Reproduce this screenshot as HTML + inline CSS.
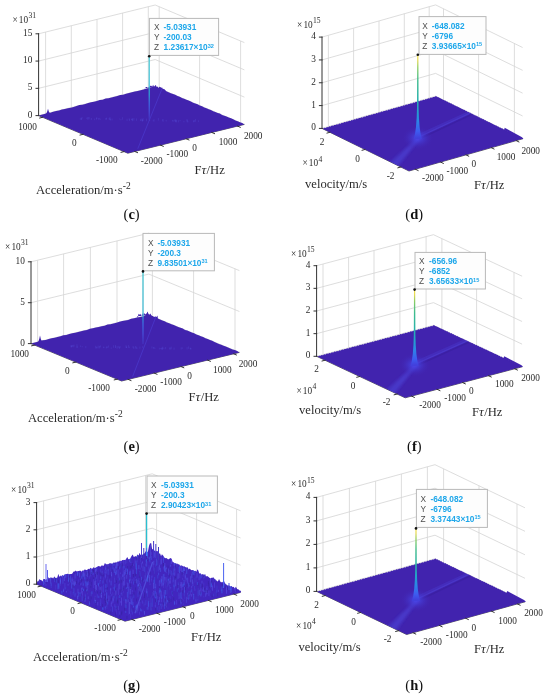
<!DOCTYPE html>
<html lang="en"><head><meta charset="utf-8"><title>Figure panels c-h</title>
<style>html,body{margin:0;padding:0;background:#fff;}svg{display:block;filter:blur(0.35px);}</style></head><body>
<svg width="550" height="697" viewBox="0 0 550 697">
<rect width="550" height="697" fill="#ffffff"/>
<g id="panel-c">
<g stroke="#d4d4d4" stroke-width="0.8" fill="none">
<polyline points="38.6,115.6 155.2,86.8 244.4,124.4"/>
<polyline points="38.6,88.33 155.2,59.53 244.4,97.13"/>
<polyline points="38.6,61.07 155.2,32.27 244.4,69.87"/>
<polyline points="38.6,33.8 155.2,5 244.4,42.6"/>
<line x1="45.6" y1="113.87" x2="45.6" y2="32.07"/>
<line x1="45.6" y1="113.87" x2="134.8" y2="151.47"/>
<line x1="71.3" y1="107.52" x2="71.3" y2="25.72"/>
<line x1="71.3" y1="107.52" x2="160.5" y2="145.12"/>
<line x1="97" y1="101.18" x2="97" y2="19.38"/>
<line x1="97" y1="101.18" x2="186.2" y2="138.78"/>
<line x1="122.6" y1="94.85" x2="122.6" y2="13.05"/>
<line x1="122.6" y1="94.85" x2="211.8" y2="132.45"/>
<line x1="148.3" y1="88.5" x2="148.3" y2="6.7"/>
<line x1="148.3" y1="88.5" x2="237.5" y2="126.1"/>
<line x1="159.2" y1="88.49" x2="159.2" y2="6.69"/>
<line x1="159.2" y1="88.49" x2="42.6" y2="117.29"/>
<line x1="199.6" y1="105.52" x2="199.6" y2="23.72"/>
<line x1="199.6" y1="105.52" x2="83" y2="134.32"/>
<line x1="240.6" y1="122.8" x2="240.6" y2="41"/>
<line x1="240.6" y1="122.8" x2="124" y2="151.6"/>
</g>
<polyline points="38.6,115.6 127.8,153.2 244.4,124.4" stroke="#3a3a3a" stroke-width="0.8" fill="none"/>
<polygon points="38.6,115.6 41.52,114.72 44.43,114.08 47.34,113.11 50.26,112.68 53.17,111.73 56.09,111.1 59,110.53 61.92,109.59 64.84,109.1 67.75,108.18 70.66,107.65 73.58,106.91 76.5,106.03 79.41,105.11 82.32,104.74 85.24,103.97 88.16,103.05 91.07,102.17 93.98,101.63 96.9,101 99.81,99.99 102.73,99.74 105.64,98.61 108.56,98.18 111.47,97.53 114.39,96.82 117.31,96.01 120.22,95.03 123.13,94.63 126.05,93.71 128.97,92.96 131.88,92.37 134.79,91.57 137.71,91.09 140.62,90.37 143.54,89.58 146.46,88.62 149.37,88.03 152.28,87.36 143.2,88.24 144.1,88.36 145,88.54 145.9,87.03 146.8,87.06 147.7,88.02 148.6,86.94 149.5,86.84 150.4,85.71 151.3,85.87 152.2,86.79 153.1,84.77 154,86.79 154.9,85.79 155.8,85.08 156.7,87.04 157.6,86.54 158.5,88.09 159.4,86.83 160.3,86.96 161.2,87.84 162.1,87.43 163,89.27 163.9,88.66 166.35,91.2 168.58,92.15 170.81,93.15 173.04,93.9 175.27,94.79 177.5,95.96 179.73,96.81 181.96,98.05 184.19,98.67 186.42,99.64 188.65,100.4 190.88,101.43 193.11,102.64 195.34,103.53 197.57,104.33 199.8,105.59 202.03,106.31 204.26,107.4 206.49,108.36 208.72,109.33 210.95,109.92 213.18,111.18 215.41,112.06 217.64,112.92 219.87,113.62 222.1,114.96 224.33,115.72 226.56,116.61 228.79,117.38 231.02,118.35 233.25,119.27 235.48,120.5 237.71,121.37 239.94,122.34 242.17,123.02 244.4,124.4 127.8,153.2" fill="#4123ae"/>
<polygon points="46,114.28 47.3,111.25 48,108.78 48.8,111.48 50.2,113.78" fill="#4123ae"/>
<line x1="162" y1="88.8" x2="137.8" y2="148.7" stroke="#5148e0" stroke-width="1" opacity="0.45"/>
<line x1="194.29" y1="121.56" x2="194.29" y2="120.24" stroke="#5a56e0" stroke-width="0.8" opacity="0.32"/>
<line x1="106.62" y1="119.47" x2="106.62" y2="117.6" stroke="#5a56e0" stroke-width="0.8" opacity="0.32"/>
<line x1="149.77" y1="120.6" x2="149.77" y2="119.6" stroke="#5a56e0" stroke-width="0.8" opacity="0.32"/>
<line x1="129.21" y1="120.24" x2="129.21" y2="118.22" stroke="#5a56e0" stroke-width="0.8" opacity="0.32"/>
<line x1="193.73" y1="122.36" x2="193.73" y2="120.43" stroke="#5a56e0" stroke-width="0.8" opacity="0.32"/>
<line x1="153.21" y1="121.31" x2="153.21" y2="120.21" stroke="#5a56e0" stroke-width="0.8" opacity="0.32"/>
<line x1="187.26" y1="122.33" x2="187.26" y2="119.75" stroke="#5a56e0" stroke-width="0.8" opacity="0.32"/>
<line x1="174.98" y1="121.43" x2="174.98" y2="119.72" stroke="#5a56e0" stroke-width="0.8" opacity="0.32"/>
<line x1="91.11" y1="119.68" x2="91.11" y2="118.57" stroke="#5a56e0" stroke-width="0.8" opacity="0.32"/>
<line x1="86.74" y1="118.93" x2="86.74" y2="117.64" stroke="#5a56e0" stroke-width="0.8" opacity="0.32"/>
<line x1="119.68" y1="119.53" x2="119.68" y2="118.53" stroke="#5a56e0" stroke-width="0.8" opacity="0.32"/>
<line x1="96.87" y1="119.02" x2="96.87" y2="117.37" stroke="#5a56e0" stroke-width="0.8" opacity="0.32"/>
<line x1="81.68" y1="119.8" x2="81.68" y2="117.69" stroke="#5a56e0" stroke-width="0.8" opacity="0.32"/>
<line x1="96.54" y1="119.24" x2="96.54" y2="117.62" stroke="#5a56e0" stroke-width="0.8" opacity="0.32"/>
<line x1="122.59" y1="119.71" x2="122.59" y2="117.18" stroke="#5a56e0" stroke-width="0.8" opacity="0.32"/>
<line x1="198.57" y1="122.14" x2="198.57" y2="120.27" stroke="#5a56e0" stroke-width="0.8" opacity="0.32"/>
<line x1="88.97" y1="118.83" x2="88.97" y2="117.21" stroke="#5a56e0" stroke-width="0.8" opacity="0.32"/>
<line x1="110.58" y1="120.46" x2="110.58" y2="119.17" stroke="#5a56e0" stroke-width="0.8" opacity="0.32"/>
<line x1="81.39" y1="119.91" x2="81.39" y2="117.96" stroke="#5a56e0" stroke-width="0.8" opacity="0.32"/>
<line x1="96.31" y1="119.67" x2="96.31" y2="118.62" stroke="#5a56e0" stroke-width="0.8" opacity="0.32"/>
<line x1="142.4" y1="121.49" x2="142.4" y2="118.94" stroke="#5a56e0" stroke-width="0.8" opacity="0.32"/>
<line x1="162.7" y1="120.93" x2="162.7" y2="119.27" stroke="#5a56e0" stroke-width="0.8" opacity="0.32"/>
<line x1="98.78" y1="120.08" x2="98.78" y2="118.12" stroke="#5a56e0" stroke-width="0.8" opacity="0.32"/>
<line x1="172.71" y1="121.28" x2="172.71" y2="119.88" stroke="#5a56e0" stroke-width="0.8" opacity="0.32"/>
<line x1="176.63" y1="122.37" x2="176.63" y2="119.83" stroke="#5a56e0" stroke-width="0.8" opacity="0.32"/>
<line x1="175.97" y1="122.1" x2="175.97" y2="119.77" stroke="#5a56e0" stroke-width="0.8" opacity="0.32"/>
<line x1="105.99" y1="119.88" x2="105.99" y2="118.24" stroke="#5a56e0" stroke-width="0.8" opacity="0.32"/>
<line x1="82.1" y1="118.54" x2="82.1" y2="117.04" stroke="#5a56e0" stroke-width="0.8" opacity="0.32"/>
<line x1="109.91" y1="120.24" x2="109.91" y2="117.52" stroke="#5a56e0" stroke-width="0.8" opacity="0.32"/>
<line x1="132.63" y1="121.18" x2="132.63" y2="118.4" stroke="#5a56e0" stroke-width="0.8" opacity="0.32"/>
<line x1="193.96" y1="121.87" x2="193.96" y2="120.48" stroke="#5a56e0" stroke-width="0.8" opacity="0.32"/>
<line x1="106" y1="119.4" x2="106" y2="118.03" stroke="#5a56e0" stroke-width="0.8" opacity="0.32"/>
<line x1="153.99" y1="121.67" x2="153.99" y2="119.15" stroke="#5a56e0" stroke-width="0.8" opacity="0.32"/>
<line x1="136.52" y1="120.85" x2="136.52" y2="118.41" stroke="#5a56e0" stroke-width="0.8" opacity="0.32"/>
<line x1="88.84" y1="119.66" x2="88.84" y2="117.02" stroke="#5a56e0" stroke-width="0.8" opacity="0.32"/>
<line x1="173.1" y1="121.92" x2="173.1" y2="120.06" stroke="#5a56e0" stroke-width="0.8" opacity="0.32"/>
<line x1="100.17" y1="120.14" x2="100.17" y2="118.54" stroke="#5a56e0" stroke-width="0.8" opacity="0.32"/>
<line x1="175.34" y1="122.31" x2="175.34" y2="120.6" stroke="#5a56e0" stroke-width="0.8" opacity="0.32"/>
<line x1="127.09" y1="121.06" x2="127.09" y2="118.75" stroke="#5a56e0" stroke-width="0.8" opacity="0.32"/>
<line x1="99.14" y1="119.12" x2="99.14" y2="117.85" stroke="#5a56e0" stroke-width="0.8" opacity="0.32"/>
<line x1="187.91" y1="122.38" x2="187.91" y2="121.12" stroke="#5a56e0" stroke-width="0.8" opacity="0.32"/>
<line x1="178.44" y1="122.4" x2="178.44" y2="120.22" stroke="#5a56e0" stroke-width="0.8" opacity="0.32"/>
<line x1="120.93" y1="120.3" x2="120.93" y2="119.07" stroke="#5a56e0" stroke-width="0.8" opacity="0.32"/>
<line x1="80.32" y1="119.91" x2="80.32" y2="117.74" stroke="#5a56e0" stroke-width="0.8" opacity="0.32"/>
<line x1="142.21" y1="121.42" x2="142.21" y2="119.64" stroke="#5a56e0" stroke-width="0.8" opacity="0.32"/>
<line x1="183.91" y1="122.31" x2="183.91" y2="120.93" stroke="#5a56e0" stroke-width="0.8" opacity="0.32"/>
<line x1="109.02" y1="119.62" x2="109.02" y2="118.19" stroke="#5a56e0" stroke-width="0.8" opacity="0.32"/>
<line x1="149.44" y1="120.59" x2="149.44" y2="118.84" stroke="#5a56e0" stroke-width="0.8" opacity="0.32"/>
<line x1="94.43" y1="120.18" x2="94.43" y2="118.54" stroke="#5a56e0" stroke-width="0.8" opacity="0.32"/>
<line x1="133.95" y1="120.68" x2="133.95" y2="118.06" stroke="#5a56e0" stroke-width="0.8" opacity="0.32"/>
<line x1="129.41" y1="121.07" x2="129.41" y2="119.17" stroke="#5a56e0" stroke-width="0.8" opacity="0.32"/>
<line x1="142.84" y1="120.82" x2="142.84" y2="119.79" stroke="#5a56e0" stroke-width="0.8" opacity="0.32"/>
<line x1="131.77" y1="120.03" x2="131.77" y2="119.02" stroke="#5a56e0" stroke-width="0.8" opacity="0.32"/>
<line x1="175.14" y1="121.11" x2="175.14" y2="119.26" stroke="#5a56e0" stroke-width="0.8" opacity="0.32"/>
<line x1="166.2" y1="121.46" x2="166.2" y2="119.87" stroke="#5a56e0" stroke-width="0.8" opacity="0.32"/>
<line x1="141.22" y1="120.83" x2="141.22" y2="118.41" stroke="#5a56e0" stroke-width="0.8" opacity="0.32"/>
<line x1="91.42" y1="119.58" x2="91.42" y2="118.13" stroke="#5a56e0" stroke-width="0.8" opacity="0.32"/>
<line x1="112.05" y1="120.41" x2="112.05" y2="118.5" stroke="#5a56e0" stroke-width="0.8" opacity="0.32"/>
<line x1="146.46" y1="121.27" x2="146.46" y2="118.62" stroke="#5a56e0" stroke-width="0.8" opacity="0.32"/>
<line x1="132.14" y1="120.68" x2="132.14" y2="118.77" stroke="#5a56e0" stroke-width="0.8" opacity="0.32"/>
<line x1="140.47" y1="121.01" x2="140.47" y2="119.2" stroke="#5a56e0" stroke-width="0.8" opacity="0.32"/>
<line x1="143.02" y1="120.76" x2="143.02" y2="118.06" stroke="#5a56e0" stroke-width="0.8" opacity="0.32"/>
<line x1="163.07" y1="121.86" x2="163.07" y2="119.16" stroke="#5a56e0" stroke-width="0.8" opacity="0.32"/>
<line x1="109.96" y1="120.04" x2="109.96" y2="117.34" stroke="#5a56e0" stroke-width="0.8" opacity="0.32"/>
<line x1="180.07" y1="121.18" x2="180.07" y2="119.96" stroke="#5a56e0" stroke-width="0.8" opacity="0.32"/>
<line x1="132.01" y1="119.87" x2="132.01" y2="118.44" stroke="#5a56e0" stroke-width="0.8" opacity="0.32"/>
<line x1="87.43" y1="119.64" x2="87.43" y2="117.23" stroke="#5a56e0" stroke-width="0.8" opacity="0.32"/>
<line x1="186.96" y1="121.38" x2="186.96" y2="119.09" stroke="#5a56e0" stroke-width="0.8" opacity="0.32"/>
<line x1="158.36" y1="120.64" x2="158.36" y2="118.05" stroke="#5a56e0" stroke-width="0.8" opacity="0.32"/>
<line x1="195.48" y1="121.69" x2="195.48" y2="118.98" stroke="#5a56e0" stroke-width="0.8" opacity="0.32"/>
<defs><linearGradient id="fl1" x1="0" y1="56.2" x2="0" y2="120" gradientUnits="userSpaceOnUse"><stop offset="0" stop-color="#2fc3cf"/><stop offset="0.6" stop-color="#2bb6d6"/><stop offset="0.72" stop-color="#3a78e8"/><stop offset="0.86" stop-color="#4654de"/><stop offset="1" stop-color="#4432c0"/></linearGradient></defs>
<rect x="148.65" y="56.2" width="1.1" height="63.8" fill="url(#fl1)"/>
<g stroke="#333333" stroke-width="1" fill="none" stroke-linecap="square">
<polyline points="38.6,33.8 38.6,115.6"/>
<line x1="38.6" y1="115.6" x2="36" y2="115.6"/>
<line x1="38.6" y1="88.33" x2="36" y2="88.33"/>
<line x1="38.6" y1="61.07" x2="36" y2="61.07"/>
<line x1="38.6" y1="33.8" x2="36" y2="33.8"/>
<line x1="134.8" y1="151.47" x2="137.56" y2="152.64"/>
<line x1="160.5" y1="145.12" x2="163.26" y2="146.29"/>
<line x1="186.2" y1="138.78" x2="188.96" y2="139.94"/>
<line x1="211.8" y1="132.45" x2="214.56" y2="133.62"/>
<line x1="237.5" y1="126.1" x2="240.26" y2="127.27"/>
<line x1="42.6" y1="117.29" x2="39.69" y2="118.01"/>
<line x1="83" y1="134.32" x2="80.09" y2="135.04"/>
<line x1="124" y1="151.6" x2="121.09" y2="152.32"/>
</g>
<text x="32.4" y="117.6" font-family="'Liberation Serif','DejaVu Serif',serif" font-size="9.3" text-anchor="end" fill="#2b2b2b" font-weight="normal" >0</text>
<text x="32.4" y="90.33" font-family="'Liberation Serif','DejaVu Serif',serif" font-size="9.3" text-anchor="end" fill="#2b2b2b" font-weight="normal" >5</text>
<text x="32.4" y="63.07" font-family="'Liberation Serif','DejaVu Serif',serif" font-size="9.3" text-anchor="end" fill="#2b2b2b" font-weight="normal" >10</text>
<text x="32.4" y="35.8" font-family="'Liberation Serif','DejaVu Serif',serif" font-size="9.3" text-anchor="end" fill="#2b2b2b" font-weight="normal" >15</text>
<text x="12.4" y="22.6" font-family="'Liberation Serif','DejaVu Serif',serif" font-size="9.3" fill="#2b2b2b">×<tspan dx="1.2">10</tspan><tspan dy="-4.6" dx="0.3" font-size="7.6">31</tspan></text>
<text x="151.7" y="164.2" font-family="'Liberation Serif','DejaVu Serif',serif" font-size="9.3" text-anchor="middle" fill="#2b2b2b" font-weight="normal" >-2000</text>
<text x="177.3" y="157" font-family="'Liberation Serif','DejaVu Serif',serif" font-size="9.3" text-anchor="middle" fill="#2b2b2b" font-weight="normal" >-1000</text>
<text x="194.7" y="151" font-family="'Liberation Serif','DejaVu Serif',serif" font-size="9.3" text-anchor="middle" fill="#2b2b2b" font-weight="normal" >0</text>
<text x="228" y="145" font-family="'Liberation Serif','DejaVu Serif',serif" font-size="9.3" text-anchor="middle" fill="#2b2b2b" font-weight="normal" >1000</text>
<text x="253.2" y="138.6" font-family="'Liberation Serif','DejaVu Serif',serif" font-size="9.3" text-anchor="middle" fill="#2b2b2b" font-weight="normal" >2000</text>
<text x="27.5" y="129.6" font-family="'Liberation Serif','DejaVu Serif',serif" font-size="9.3" text-anchor="middle" fill="#2b2b2b" font-weight="normal" >1000</text>
<text x="74.4" y="145.6" font-family="'Liberation Serif','DejaVu Serif',serif" font-size="9.3" text-anchor="middle" fill="#2b2b2b" font-weight="normal" >0</text>
<text x="106.8" y="163" font-family="'Liberation Serif','DejaVu Serif',serif" font-size="9.3" text-anchor="middle" fill="#2b2b2b" font-weight="normal" >-1000</text>
<text x="194.4" y="173.6" font-family="'Liberation Serif','DejaVu Serif',serif" font-size="12.6" fill="#2b2b2b">F<tspan font-style="italic" font-size="13.2">τ</tspan><tspan dx="0.4">/Hz</tspan></text>
<text x="36" y="194" font-family="'Liberation Serif','DejaVu Serif',serif" font-size="12.6" fill="#2b2b2b">Acceleration/m·s<tspan dy="-5" font-size="9.5">-2</tspan></text>
<text x="131.6" y="218.5" font-family="'Liberation Serif','DejaVu Serif',serif" font-size="14.5" text-anchor="middle" fill="#111">(<tspan font-weight="bold">c</tspan>)</text>
<rect x="149.4" y="18.4" width="69.2" height="37" fill="#fdfdfd" stroke="#b9b9b9" stroke-width="1"/>
<text x="154" y="30.4" font-family="'Liberation Sans','DejaVu Sans',sans-serif" font-size="8.3" text-anchor="start" fill="#4d4d4d" font-weight="normal" >X</text>
<text x="163.6" y="30.4" font-family="'Liberation Sans','DejaVu Sans',sans-serif" font-size="8.3" font-weight="bold" fill="#1ea7ea">-5.03931</text>
<text x="154" y="40.4" font-family="'Liberation Sans','DejaVu Sans',sans-serif" font-size="8.3" text-anchor="start" fill="#4d4d4d" font-weight="normal" >Y</text>
<text x="163.6" y="40.4" font-family="'Liberation Sans','DejaVu Sans',sans-serif" font-size="8.3" font-weight="bold" fill="#1ea7ea">-200.03</text>
<text x="154" y="50.4" font-family="'Liberation Sans','DejaVu Sans',sans-serif" font-size="8.3" text-anchor="start" fill="#4d4d4d" font-weight="normal" >Z</text>
<text x="163.6" y="50.4" font-family="'Liberation Sans','DejaVu Sans',sans-serif" font-size="8.3" font-weight="bold" fill="#1ea7ea">1.23617×10<tspan dy="-2.4" font-size="5.6">32</tspan></text>
<circle cx="149.2" cy="56.2" r="1.3" fill="#111"/>
</g>
<g id="panel-d">
<g stroke="#d4d4d4" stroke-width="0.8" fill="none">
<polyline points="322,128.4 435.6,96.2 522.6,138.8"/>
<polyline points="322,105.58 435.6,73.38 522.6,115.98"/>
<polyline points="322,82.75 435.6,50.55 522.6,93.15"/>
<polyline points="322,59.93 435.6,27.73 522.6,70.33"/>
<polyline points="322,37.1 435.6,4.9 522.6,47.5"/>
<line x1="328.4" y1="126.59" x2="328.4" y2="35.29"/>
<line x1="328.4" y1="126.59" x2="415.4" y2="169.19"/>
<line x1="353.6" y1="119.44" x2="353.6" y2="28.14"/>
<line x1="353.6" y1="119.44" x2="440.6" y2="162.04"/>
<line x1="379" y1="112.24" x2="379" y2="20.94"/>
<line x1="379" y1="112.24" x2="466" y2="154.84"/>
<line x1="404.3" y1="105.07" x2="404.3" y2="13.77"/>
<line x1="404.3" y1="105.07" x2="491.3" y2="147.67"/>
<line x1="429.2" y1="98.01" x2="429.2" y2="6.71"/>
<line x1="429.2" y1="98.01" x2="516.2" y2="140.61"/>
<line x1="443.5" y1="100.07" x2="443.5" y2="8.77"/>
<line x1="443.5" y1="100.07" x2="329.9" y2="132.27"/>
<line x1="478.6" y1="117.26" x2="478.6" y2="25.96"/>
<line x1="478.6" y1="117.26" x2="365" y2="149.46"/>
<line x1="514.4" y1="134.78" x2="514.4" y2="43.48"/>
<line x1="514.4" y1="134.78" x2="400.8" y2="166.98"/>
</g>
<polyline points="322,128.4 409,171 522.6,138.8" stroke="#3a3a3a" stroke-width="0.8" fill="none"/>
<defs><linearGradient id="pk2" x1="0" y1="54.8" x2="0" y2="138" gradientUnits="userSpaceOnUse"><stop offset="0" stop-color="#f5e34a"/><stop offset="0.07" stop-color="#e4d855"/><stop offset="0.15" stop-color="#8fce62"/><stop offset="0.3" stop-color="#40bc8c"/><stop offset="0.5" stop-color="#2cb4a6"/><stop offset="0.66" stop-color="#22a4c8"/><stop offset="0.8" stop-color="#2b86e6"/><stop offset="0.92" stop-color="#3d5cf0"/><stop offset="1" stop-color="#4240dc"/></linearGradient><radialGradient id="rg2" cx="417.8" cy="138" r="16" gradientUnits="userSpaceOnUse" gradientTransform="translate(417.8,138) scale(1,0.75) translate(-417.8,-138)"><stop offset="0" stop-color="#4a4af0" stop-opacity="0.95"/><stop offset="0.35" stop-color="#4640dc" stop-opacity="0.6"/><stop offset="1" stop-color="#4123ae" stop-opacity="0"/></radialGradient><filter id="bl2" x="-20%" y="-20%" width="140%" height="140%"><feGaussianBlur stdDeviation="1.1"/></filter></defs>
<polygon points="322,128.4 323.27,128.6 324.47,127.7 325.74,127.9 326.94,127 328.21,127.2 329.41,126.3 330.68,126.5 331.88,125.6 333.15,125.8 334.35,124.9 335.62,125.1 336.82,124.2 338.09,124.4 339.29,123.5 340.56,123.7 341.76,122.8 343.03,123 344.23,122.1 345.5,122.3 346.7,121.4 347.97,121.6 349.17,120.7 350.43,120.9 351.63,120 352.9,120.2 354.1,119.3 355.37,119.5 356.57,118.6 357.84,118.8 359.04,117.9 360.31,118.1 361.51,117.2 362.78,117.4 363.98,116.5 365.25,116.7 366.45,115.8 367.72,116 368.92,115.1 370.19,115.3 371.39,114.4 372.66,114.6 373.86,113.7 375.13,113.9 376.33,113 377.6,113.2 378.8,112.3 380.07,112.5 381.27,111.6 382.54,111.8 383.74,110.9 385.01,111.1 386.21,110.2 387.48,110.4 388.68,109.5 389.95,109.7 391.15,108.8 392.42,109 393.62,108.1 394.89,108.3 396.09,107.4 397.36,107.6 398.56,106.7 399.83,106.9 401.03,106 402.3,106.2 403.5,105.3 404.77,105.5 405.97,104.6 407.23,104.8 408.43,103.9 409.7,104.1 410.9,103.2 412.17,103.4 413.37,102.5 414.64,102.7 415.84,101.8 417.11,102 418.31,101.1 419.58,101.3 420.78,100.4 422.05,100.6 423.25,99.7 424.52,99.9 425.72,99 426.99,99.2 428.19,98.3 429.46,98.5 430.66,97.6 431.93,97.8 433.13,96.9 434.4,97.1 435.6,96.2 435.99,95.93 437.49,97.13 437.88,96.85 439.38,98.05 439.77,97.78 441.27,98.98 441.67,98.7 443.17,99.9 443.56,99.63 445.06,100.83 445.45,100.56 446.95,101.76 447.34,101.48 448.84,102.68 449.23,102.41 450.73,103.61 451.12,103.33 452.62,104.53 453.01,104.26 454.51,105.46 454.9,105.19 456.4,106.39 456.8,106.11 458.3,107.31 458.69,107.04 460.19,108.24 460.58,107.97 462.08,109.17 462.47,108.89 463.97,110.09 464.36,109.82 465.86,111.02 466.25,110.74 467.75,111.94 468.14,111.67 469.64,112.87 470.03,112.6 471.53,113.8 471.93,113.52 473.43,114.72 473.82,114.45 475.32,115.65 475.71,115.37 477.21,116.57 477.6,116.3 479.1,117.5 479.49,117.23 480.99,118.43 481.38,118.15 482.88,119.35 483.27,119.08 484.77,120.28 485.17,120 486.67,121.2 487.06,120.93 488.56,122.13 488.95,121.86 490.45,123.06 490.84,122.78 492.34,123.98 492.73,123.71 494.23,124.91 494.62,124.63 496.12,125.83 496.51,125.56 498.01,126.76 498.4,126.49 499.9,127.69 500.3,127.41 501.8,128.61 502.19,128.34 503.69,129.54 504.08,129.27 505.58,130.47 505.97,130.19 507.47,131.39 507.86,131.12 509.36,132.32 509.75,132.04 511.25,133.24 511.64,132.97 513.14,134.17 513.53,133.9 515.03,135.1 515.43,134.82 516.93,136.02 517.32,135.75 518.82,136.95 519.21,136.67 520.71,137.87 521.1,137.6 522.6,138.8 522.6,138.8 409,171" fill="#4123ae"/>
<clipPath id="cl2"><polygon points="322,128.4 409,171 522.6,138.8 435.6,96.2"/></clipPath>
<g clip-path="url(#cl2)">
<g filter="url(#bl2)">
<polygon points="416.3,138 384.36,166.4 394.69,171.46 419.8,140" fill="#4c45dc" opacity="0.36"/>
<polygon points="417.3,138 387.95,168.16 392,170.14 418.8,139.5" fill="#5650e6" opacity="0.3"/>
</g>
<line x1="419.8" y1="135.4" x2="471.8" y2="111.53" stroke="#4c44da" stroke-width="3.4" opacity="0.3"/>
<line x1="419.8" y1="136.4" x2="471.8" y2="112.33" stroke="#5851e4" stroke-width="1.1" opacity="0.3"/>
<line x1="420.8" y1="138.4" x2="473.8" y2="113.53" stroke="#341d96" stroke-width="1.3" opacity="0.4"/>
</g>
<polygon points="504.1,130.24 504.7,127.84 521.6,136.9 523.4,138.4 522.6,139.3" fill="#4123ae"/>
<ellipse cx="417.8" cy="138" rx="16" ry="12" fill="url(#rg2)"/>
<path d="M417.2,54.8 L418.4,54.8 L418.6,108 Q419,130 421.8,139 L413.8,139 Q416.6,130 417,108 Z" fill="url(#pk2)"/>
<g stroke="#333333" stroke-width="1" fill="none" stroke-linecap="square">
<polyline points="322,37.1 322,128.4"/>
<line x1="322" y1="128.4" x2="319.4" y2="128.4"/>
<line x1="322" y1="105.58" x2="319.4" y2="105.58"/>
<line x1="322" y1="82.75" x2="319.4" y2="82.75"/>
<line x1="322" y1="59.93" x2="319.4" y2="59.93"/>
<line x1="322" y1="37.1" x2="319.4" y2="37.1"/>
<line x1="415.4" y1="169.19" x2="418.09" y2="170.51"/>
<line x1="440.6" y1="162.04" x2="443.29" y2="163.36"/>
<line x1="466" y1="154.84" x2="468.69" y2="156.16"/>
<line x1="491.3" y1="147.67" x2="493.99" y2="148.99"/>
<line x1="516.2" y1="140.61" x2="518.89" y2="141.93"/>
<line x1="329.9" y1="132.27" x2="327.01" y2="133.09"/>
<line x1="365" y1="149.46" x2="362.11" y2="150.27"/>
<line x1="400.8" y1="166.98" x2="397.91" y2="167.8"/>
</g>
<text x="315.8" y="130.4" font-family="'Liberation Serif','DejaVu Serif',serif" font-size="9.3" text-anchor="end" fill="#2b2b2b" font-weight="normal" >0</text>
<text x="315.8" y="107.58" font-family="'Liberation Serif','DejaVu Serif',serif" font-size="9.3" text-anchor="end" fill="#2b2b2b" font-weight="normal" >1</text>
<text x="315.8" y="84.75" font-family="'Liberation Serif','DejaVu Serif',serif" font-size="9.3" text-anchor="end" fill="#2b2b2b" font-weight="normal" >2</text>
<text x="315.8" y="61.93" font-family="'Liberation Serif','DejaVu Serif',serif" font-size="9.3" text-anchor="end" fill="#2b2b2b" font-weight="normal" >3</text>
<text x="315.8" y="39.1" font-family="'Liberation Serif','DejaVu Serif',serif" font-size="9.3" text-anchor="end" fill="#2b2b2b" font-weight="normal" >4</text>
<text x="297" y="28" font-family="'Liberation Serif','DejaVu Serif',serif" font-size="9.3" fill="#2b2b2b">×<tspan dx="1.2">10</tspan><tspan dy="-4.6" dx="0.3" font-size="7.6">15</tspan></text>
<text x="432.9" y="180.6" font-family="'Liberation Serif','DejaVu Serif',serif" font-size="9.3" text-anchor="middle" fill="#2b2b2b" font-weight="normal" >-2000</text>
<text x="457.3" y="174" font-family="'Liberation Serif','DejaVu Serif',serif" font-size="9.3" text-anchor="middle" fill="#2b2b2b" font-weight="normal" >-1000</text>
<text x="473.8" y="167" font-family="'Liberation Serif','DejaVu Serif',serif" font-size="9.3" text-anchor="middle" fill="#2b2b2b" font-weight="normal" >0</text>
<text x="506" y="160" font-family="'Liberation Serif','DejaVu Serif',serif" font-size="9.3" text-anchor="middle" fill="#2b2b2b" font-weight="normal" >1000</text>
<text x="530.7" y="153.6" font-family="'Liberation Serif','DejaVu Serif',serif" font-size="9.3" text-anchor="middle" fill="#2b2b2b" font-weight="normal" >2000</text>
<text x="322" y="145" font-family="'Liberation Serif','DejaVu Serif',serif" font-size="9.3" text-anchor="middle" fill="#2b2b2b" font-weight="normal" >2</text>
<text x="357.6" y="161.6" font-family="'Liberation Serif','DejaVu Serif',serif" font-size="9.3" text-anchor="middle" fill="#2b2b2b" font-weight="normal" >0</text>
<text x="390.5" y="178.6" font-family="'Liberation Serif','DejaVu Serif',serif" font-size="9.3" text-anchor="middle" fill="#2b2b2b" font-weight="normal" >-2</text>
<text x="302.4" y="166.4" font-family="'Liberation Serif','DejaVu Serif',serif" font-size="9.3" fill="#2b2b2b">×<tspan dx="1.2">10</tspan><tspan dy="-4.6" dx="0.3" font-size="7.6">4</tspan></text>
<text x="474" y="189.4" font-family="'Liberation Serif','DejaVu Serif',serif" font-size="12.6" fill="#2b2b2b">F<tspan font-style="italic" font-size="13.2">τ</tspan><tspan dx="0.4">/Hz</tspan></text>
<text x="305" y="188" font-family="'Liberation Serif','DejaVu Serif',serif" font-size="12.6" fill="#2b2b2b">velocity/m/s</text>
<text x="414.2" y="218.5" font-family="'Liberation Serif','DejaVu Serif',serif" font-size="14.5" text-anchor="middle" fill="#111">(<tspan font-weight="bold">d</tspan>)</text>
<rect x="419" y="16.6" width="67" height="37.8" fill="#fdfdfd" stroke="#b9b9b9" stroke-width="1"/>
<text x="422.2" y="28.7" font-family="'Liberation Sans','DejaVu Sans',sans-serif" font-size="8.3" text-anchor="start" fill="#4d4d4d" font-weight="normal" >X</text>
<text x="431.8" y="28.7" font-family="'Liberation Sans','DejaVu Sans',sans-serif" font-size="8.3" font-weight="bold" fill="#1ea7ea">-648.082</text>
<text x="422.2" y="38.7" font-family="'Liberation Sans','DejaVu Sans',sans-serif" font-size="8.3" text-anchor="start" fill="#4d4d4d" font-weight="normal" >Y</text>
<text x="431.8" y="38.7" font-family="'Liberation Sans','DejaVu Sans',sans-serif" font-size="8.3" font-weight="bold" fill="#1ea7ea">-6796</text>
<text x="422.2" y="48.7" font-family="'Liberation Sans','DejaVu Sans',sans-serif" font-size="8.3" text-anchor="start" fill="#4d4d4d" font-weight="normal" >Z</text>
<text x="431.8" y="48.7" font-family="'Liberation Sans','DejaVu Sans',sans-serif" font-size="8.3" font-weight="bold" fill="#1ea7ea">3.93665×10<tspan dy="-2.4" font-size="5.6">15</tspan></text>
<circle cx="417.8" cy="54.8" r="1.3" fill="#111"/>
</g>
<g id="panel-e">
<g stroke="#d4d4d4" stroke-width="0.8" fill="none">
<polyline points="31,343.6 148.8,315 239.4,352.4"/>
<polyline points="31,302.7 148.8,274.1 239.4,311.5"/>
<polyline points="31,261.8 148.8,233.2 239.4,270.6"/>
<line x1="37.6" y1="342" x2="37.6" y2="260.2"/>
<line x1="37.6" y1="342" x2="128.2" y2="379.4"/>
<line x1="63.6" y1="335.69" x2="63.6" y2="253.89"/>
<line x1="63.6" y1="335.69" x2="154.2" y2="373.09"/>
<line x1="90.4" y1="329.18" x2="90.4" y2="247.38"/>
<line x1="90.4" y1="329.18" x2="181" y2="366.58"/>
<line x1="117" y1="322.72" x2="117" y2="240.92"/>
<line x1="117" y1="322.72" x2="207.6" y2="360.12"/>
<line x1="143" y1="316.41" x2="143" y2="234.61"/>
<line x1="143" y1="316.41" x2="233.6" y2="353.81"/>
<line x1="152.4" y1="316.49" x2="152.4" y2="234.69"/>
<line x1="152.4" y1="316.49" x2="34.6" y2="345.09"/>
<line x1="193.6" y1="333.49" x2="193.6" y2="251.69"/>
<line x1="193.6" y1="333.49" x2="75.8" y2="362.09"/>
<line x1="235" y1="350.58" x2="235" y2="268.78"/>
<line x1="235" y1="350.58" x2="117.2" y2="379.18"/>
</g>
<polyline points="31,343.6 121.6,381 239.4,352.4" stroke="#3a3a3a" stroke-width="0.8" fill="none"/>
<polygon points="31,343.6 33.95,342.69 36.89,341.93 39.84,340.96 42.78,340.32 45.72,339.94 48.67,339.09 51.61,338.34 54.56,337.71 57.5,337.07 60.45,336.29 63.39,335.37 66.34,335.01 69.28,334.03 72.23,333.37 75.17,332.87 78.12,331.99 81.06,331.13 84.01,330.47 86.95,329.98 89.9,328.81 92.84,328.19 95.79,327.38 98.73,327.1 101.68,326.31 104.62,325.71 107.57,324.62 110.52,324.16 113.46,323.52 116.4,322.65 119.35,321.69 122.29,321.03 125.24,320.59 128.18,319.93 131.13,318.83 134.07,318.29 137.02,317.51 139.96,317.1 142.91,316.4 145.85,315.37 136.8,316.21 137.7,317.41 138.6,313.72 139.5,314.72 140.4,313.83 141.3,316.49 142.2,313.18 143.1,316.12 144,312.71 144.9,314.13 145.8,314.37 146.7,313.3 147.6,311.58 148.5,314 149.4,314.73 150.3,313.51 151.2,315.04 152.1,315.92 153,316.09 153.9,316.9 154.8,316.67 155.7,316.6 156.6,317 157.5,315.55 157.86,318.6 160.12,319.42 162.39,320.52 164.65,321.37 166.92,322.47 169.19,323.29 171.45,324.34 173.72,324.92 175.98,325.94 178.25,327.06 180.51,327.85 182.77,328.56 185.04,329.91 187.31,330.49 189.57,331.61 191.83,332.52 194.1,333.28 196.37,334.44 198.63,335.32 200.89,336.16 203.16,336.95 205.43,338.2 207.69,338.89 209.96,339.89 212.22,340.86 214.49,341.91 216.75,342.88 219.01,343.96 221.28,344.86 223.55,345.82 225.81,346.42 228.07,347.6 230.34,348.58 232.61,349.55 234.87,350.11 237.13,351.03 239.4,352.4 121.6,381" fill="#4123ae"/>
<polygon points="38,342.41 39.3,338.71 40,335.41 40.8,339.01 42.2,341.91" fill="#4123ae"/>
<line x1="155.9" y1="316.8" x2="132.6" y2="376.6" stroke="#5148e0" stroke-width="1" opacity="0.45"/>
<line x1="153.75" y1="348.46" x2="153.75" y2="347.03" stroke="#5a56e0" stroke-width="0.8" opacity="0.32"/>
<line x1="107.16" y1="347.88" x2="107.16" y2="346.59" stroke="#5a56e0" stroke-width="0.8" opacity="0.32"/>
<line x1="126.01" y1="347.93" x2="126.01" y2="345.2" stroke="#5a56e0" stroke-width="0.8" opacity="0.32"/>
<line x1="191.02" y1="349.54" x2="191.02" y2="348.1" stroke="#5a56e0" stroke-width="0.8" opacity="0.32"/>
<line x1="190.16" y1="349.17" x2="190.16" y2="347.52" stroke="#5a56e0" stroke-width="0.8" opacity="0.32"/>
<line x1="71.13" y1="347.1" x2="71.13" y2="345.25" stroke="#5a56e0" stroke-width="0.8" opacity="0.32"/>
<line x1="133.04" y1="347.96" x2="133.04" y2="346.05" stroke="#5a56e0" stroke-width="0.8" opacity="0.32"/>
<line x1="71.61" y1="346.94" x2="71.61" y2="345.78" stroke="#5a56e0" stroke-width="0.8" opacity="0.32"/>
<line x1="120.3" y1="347.49" x2="120.3" y2="346.45" stroke="#5a56e0" stroke-width="0.8" opacity="0.32"/>
<line x1="108.54" y1="347.56" x2="108.54" y2="345.51" stroke="#5a56e0" stroke-width="0.8" opacity="0.32"/>
<line x1="136.3" y1="348.85" x2="136.3" y2="346.66" stroke="#5a56e0" stroke-width="0.8" opacity="0.32"/>
<line x1="159.35" y1="349.46" x2="159.35" y2="347.76" stroke="#5a56e0" stroke-width="0.8" opacity="0.32"/>
<line x1="111.25" y1="348.74" x2="111.25" y2="347.47" stroke="#5a56e0" stroke-width="0.8" opacity="0.32"/>
<line x1="160.36" y1="349.12" x2="160.36" y2="348.04" stroke="#5a56e0" stroke-width="0.8" opacity="0.32"/>
<line x1="174.07" y1="349.75" x2="174.07" y2="347.62" stroke="#5a56e0" stroke-width="0.8" opacity="0.32"/>
<line x1="161.56" y1="349.4" x2="161.56" y2="348.15" stroke="#5a56e0" stroke-width="0.8" opacity="0.32"/>
<line x1="135.63" y1="348.46" x2="135.63" y2="345.96" stroke="#5a56e0" stroke-width="0.8" opacity="0.32"/>
<line x1="170.3" y1="349.58" x2="170.3" y2="347.53" stroke="#5a56e0" stroke-width="0.8" opacity="0.32"/>
<line x1="181.18" y1="349.56" x2="181.18" y2="347.31" stroke="#5a56e0" stroke-width="0.8" opacity="0.32"/>
<line x1="99.37" y1="347.09" x2="99.37" y2="345.85" stroke="#5a56e0" stroke-width="0.8" opacity="0.32"/>
<line x1="115.51" y1="347.5" x2="115.51" y2="344.99" stroke="#5a56e0" stroke-width="0.8" opacity="0.32"/>
<line x1="139.92" y1="348.73" x2="139.92" y2="346.6" stroke="#5a56e0" stroke-width="0.8" opacity="0.32"/>
<line x1="154.99" y1="348.79" x2="154.99" y2="347.79" stroke="#5a56e0" stroke-width="0.8" opacity="0.32"/>
<line x1="169.44" y1="349.45" x2="169.44" y2="347.54" stroke="#5a56e0" stroke-width="0.8" opacity="0.32"/>
<line x1="137.04" y1="348.72" x2="137.04" y2="347.6" stroke="#5a56e0" stroke-width="0.8" opacity="0.32"/>
<line x1="161.92" y1="348.57" x2="161.92" y2="347.43" stroke="#5a56e0" stroke-width="0.8" opacity="0.32"/>
<line x1="103.77" y1="348.22" x2="103.77" y2="346.85" stroke="#5a56e0" stroke-width="0.8" opacity="0.32"/>
<line x1="162.29" y1="349.66" x2="162.29" y2="347.77" stroke="#5a56e0" stroke-width="0.8" opacity="0.32"/>
<line x1="118.21" y1="348.11" x2="118.21" y2="345.88" stroke="#5a56e0" stroke-width="0.8" opacity="0.32"/>
<line x1="165.64" y1="349.18" x2="165.64" y2="347.02" stroke="#5a56e0" stroke-width="0.8" opacity="0.32"/>
<line x1="80.56" y1="346.92" x2="80.56" y2="345.47" stroke="#5a56e0" stroke-width="0.8" opacity="0.32"/>
<line x1="162.71" y1="348.66" x2="162.71" y2="346.64" stroke="#5a56e0" stroke-width="0.8" opacity="0.32"/>
<line x1="72.54" y1="346.65" x2="72.54" y2="345.16" stroke="#5a56e0" stroke-width="0.8" opacity="0.32"/>
<line x1="153.92" y1="349.08" x2="153.92" y2="346.86" stroke="#5a56e0" stroke-width="0.8" opacity="0.32"/>
<line x1="106.89" y1="347.96" x2="106.89" y2="346.12" stroke="#5a56e0" stroke-width="0.8" opacity="0.32"/>
<line x1="128.55" y1="347.76" x2="128.55" y2="345.15" stroke="#5a56e0" stroke-width="0.8" opacity="0.32"/>
<line x1="95.59" y1="348.44" x2="95.59" y2="345.76" stroke="#5a56e0" stroke-width="0.8" opacity="0.32"/>
<line x1="73.16" y1="347.26" x2="73.16" y2="344.78" stroke="#5a56e0" stroke-width="0.8" opacity="0.32"/>
<line x1="190.46" y1="349.38" x2="190.46" y2="347.9" stroke="#5a56e0" stroke-width="0.8" opacity="0.32"/>
<line x1="96.89" y1="348.42" x2="96.89" y2="347.04" stroke="#5a56e0" stroke-width="0.8" opacity="0.32"/>
<line x1="142.75" y1="348.05" x2="142.75" y2="346.11" stroke="#5a56e0" stroke-width="0.8" opacity="0.32"/>
<line x1="188.57" y1="348.87" x2="188.57" y2="346.4" stroke="#5a56e0" stroke-width="0.8" opacity="0.32"/>
<line x1="133.78" y1="349" x2="133.78" y2="346.74" stroke="#5a56e0" stroke-width="0.8" opacity="0.32"/>
<line x1="99.55" y1="348.4" x2="99.55" y2="346.52" stroke="#5a56e0" stroke-width="0.8" opacity="0.32"/>
<line x1="74.06" y1="346.59" x2="74.06" y2="344.71" stroke="#5a56e0" stroke-width="0.8" opacity="0.32"/>
<line x1="126.62" y1="348" x2="126.62" y2="346.74" stroke="#5a56e0" stroke-width="0.8" opacity="0.32"/>
<line x1="113.44" y1="347.78" x2="113.44" y2="345.27" stroke="#5a56e0" stroke-width="0.8" opacity="0.32"/>
<line x1="71.21" y1="347.66" x2="71.21" y2="345.15" stroke="#5a56e0" stroke-width="0.8" opacity="0.32"/>
<line x1="85.81" y1="348.19" x2="85.81" y2="345.91" stroke="#5a56e0" stroke-width="0.8" opacity="0.32"/>
<line x1="182.25" y1="348.99" x2="182.25" y2="347.32" stroke="#5a56e0" stroke-width="0.8" opacity="0.32"/>
<line x1="119.48" y1="348.91" x2="119.48" y2="346.85" stroke="#5a56e0" stroke-width="0.8" opacity="0.32"/>
<line x1="115.51" y1="347.98" x2="115.51" y2="346.49" stroke="#5a56e0" stroke-width="0.8" opacity="0.32"/>
<line x1="76.96" y1="346.79" x2="76.96" y2="344.29" stroke="#5a56e0" stroke-width="0.8" opacity="0.32"/>
<line x1="106.25" y1="348.58" x2="106.25" y2="347.13" stroke="#5a56e0" stroke-width="0.8" opacity="0.32"/>
<line x1="103.79" y1="347.89" x2="103.79" y2="346.55" stroke="#5a56e0" stroke-width="0.8" opacity="0.32"/>
<line x1="117.07" y1="348.8" x2="117.07" y2="346.21" stroke="#5a56e0" stroke-width="0.8" opacity="0.32"/>
<line x1="171.2" y1="349.3" x2="171.2" y2="346.66" stroke="#5a56e0" stroke-width="0.8" opacity="0.32"/>
<line x1="187.08" y1="349.47" x2="187.08" y2="347.17" stroke="#5a56e0" stroke-width="0.8" opacity="0.32"/>
<line x1="77.11" y1="347.74" x2="77.11" y2="345.93" stroke="#5a56e0" stroke-width="0.8" opacity="0.32"/>
<line x1="163.88" y1="349.19" x2="163.88" y2="347.67" stroke="#5a56e0" stroke-width="0.8" opacity="0.32"/>
<line x1="77.04" y1="348.03" x2="77.04" y2="346.8" stroke="#5a56e0" stroke-width="0.8" opacity="0.32"/>
<line x1="129.27" y1="348.11" x2="129.27" y2="346.57" stroke="#5a56e0" stroke-width="0.8" opacity="0.32"/>
<line x1="162.2" y1="349.66" x2="162.2" y2="348.19" stroke="#5a56e0" stroke-width="0.8" opacity="0.32"/>
<line x1="151.95" y1="348.46" x2="151.95" y2="346.45" stroke="#5a56e0" stroke-width="0.8" opacity="0.32"/>
<line x1="119.66" y1="347.67" x2="119.66" y2="346.38" stroke="#5a56e0" stroke-width="0.8" opacity="0.32"/>
<line x1="96.65" y1="348.36" x2="96.65" y2="346.46" stroke="#5a56e0" stroke-width="0.8" opacity="0.32"/>
<line x1="98.15" y1="348.38" x2="98.15" y2="345.59" stroke="#5a56e0" stroke-width="0.8" opacity="0.32"/>
<line x1="126.53" y1="347.75" x2="126.53" y2="346.4" stroke="#5a56e0" stroke-width="0.8" opacity="0.32"/>
<line x1="82.19" y1="347.25" x2="82.19" y2="346.08" stroke="#5a56e0" stroke-width="0.8" opacity="0.32"/>
<line x1="100.51" y1="347.45" x2="100.51" y2="345.43" stroke="#5a56e0" stroke-width="0.8" opacity="0.32"/>
<defs><linearGradient id="fl3" x1="0" y1="271.4" x2="0" y2="344" gradientUnits="userSpaceOnUse"><stop offset="0" stop-color="#2fc3cf"/><stop offset="0.6" stop-color="#2bb6d6"/><stop offset="0.72" stop-color="#3a78e8"/><stop offset="0.86" stop-color="#4654de"/><stop offset="1" stop-color="#4432c0"/></linearGradient></defs>
<rect x="142.45" y="271.4" width="1.1" height="72.6" fill="url(#fl3)"/>
<g stroke="#333333" stroke-width="1" fill="none" stroke-linecap="square">
<polyline points="31,261.8 31,343.6"/>
<line x1="31" y1="343.6" x2="28.4" y2="343.6"/>
<line x1="31" y1="302.7" x2="28.4" y2="302.7"/>
<line x1="31" y1="261.8" x2="28.4" y2="261.8"/>
<line x1="128.2" y1="379.4" x2="130.97" y2="380.54"/>
<line x1="154.2" y1="373.09" x2="156.97" y2="374.23"/>
<line x1="181" y1="366.58" x2="183.77" y2="367.72"/>
<line x1="207.6" y1="360.12" x2="210.37" y2="361.27"/>
<line x1="233.6" y1="353.81" x2="236.37" y2="354.95"/>
<line x1="34.6" y1="345.09" x2="31.68" y2="345.79"/>
<line x1="75.8" y1="362.09" x2="72.88" y2="362.8"/>
<line x1="117.2" y1="379.18" x2="114.28" y2="379.89"/>
</g>
<text x="24.8" y="345.6" font-family="'Liberation Serif','DejaVu Serif',serif" font-size="9.3" text-anchor="end" fill="#2b2b2b" font-weight="normal" >0</text>
<text x="24.8" y="304.7" font-family="'Liberation Serif','DejaVu Serif',serif" font-size="9.3" text-anchor="end" fill="#2b2b2b" font-weight="normal" >5</text>
<text x="24.8" y="263.8" font-family="'Liberation Serif','DejaVu Serif',serif" font-size="9.3" text-anchor="end" fill="#2b2b2b" font-weight="normal" >10</text>
<text x="5" y="250" font-family="'Liberation Serif','DejaVu Serif',serif" font-size="9.3" fill="#2b2b2b">×<tspan dx="1.2">10</tspan><tspan dy="-4.6" dx="0.3" font-size="7.6">31</tspan></text>
<text x="145.5" y="391.6" font-family="'Liberation Serif','DejaVu Serif',serif" font-size="9.3" text-anchor="middle" fill="#2b2b2b" font-weight="normal" >-2000</text>
<text x="171" y="385" font-family="'Liberation Serif','DejaVu Serif',serif" font-size="9.3" text-anchor="middle" fill="#2b2b2b" font-weight="normal" >-1000</text>
<text x="189.5" y="378.8" font-family="'Liberation Serif','DejaVu Serif',serif" font-size="9.3" text-anchor="middle" fill="#2b2b2b" font-weight="normal" >0</text>
<text x="222.3" y="373" font-family="'Liberation Serif','DejaVu Serif',serif" font-size="9.3" text-anchor="middle" fill="#2b2b2b" font-weight="normal" >1000</text>
<text x="248" y="366.6" font-family="'Liberation Serif','DejaVu Serif',serif" font-size="9.3" text-anchor="middle" fill="#2b2b2b" font-weight="normal" >2000</text>
<text x="19.7" y="356.8" font-family="'Liberation Serif','DejaVu Serif',serif" font-size="9.3" text-anchor="middle" fill="#2b2b2b" font-weight="normal" >1000</text>
<text x="67.3" y="373.6" font-family="'Liberation Serif','DejaVu Serif',serif" font-size="9.3" text-anchor="middle" fill="#2b2b2b" font-weight="normal" >0</text>
<text x="99" y="390.8" font-family="'Liberation Serif','DejaVu Serif',serif" font-size="9.3" text-anchor="middle" fill="#2b2b2b" font-weight="normal" >-1000</text>
<text x="188.6" y="401.4" font-family="'Liberation Serif','DejaVu Serif',serif" font-size="12.6" fill="#2b2b2b">F<tspan font-style="italic" font-size="13.2">τ</tspan><tspan dx="0.4">/Hz</tspan></text>
<text x="28" y="422.4" font-family="'Liberation Serif','DejaVu Serif',serif" font-size="12.6" fill="#2b2b2b">Acceleration/m·s<tspan dy="-5" font-size="9.5">-2</tspan></text>
<text x="131.6" y="450.6" font-family="'Liberation Serif','DejaVu Serif',serif" font-size="14.5" text-anchor="middle" fill="#111">(<tspan font-weight="bold">e</tspan>)</text>
<rect x="143" y="233.4" width="71.4" height="37.4" fill="#fdfdfd" stroke="#b9b9b9" stroke-width="1"/>
<text x="148" y="245.8" font-family="'Liberation Sans','DejaVu Sans',sans-serif" font-size="8.3" text-anchor="start" fill="#4d4d4d" font-weight="normal" >X</text>
<text x="157.4" y="245.8" font-family="'Liberation Sans','DejaVu Sans',sans-serif" font-size="8.3" font-weight="bold" fill="#1ea7ea">-5.03931</text>
<text x="148" y="255.8" font-family="'Liberation Sans','DejaVu Sans',sans-serif" font-size="8.3" text-anchor="start" fill="#4d4d4d" font-weight="normal" >Y</text>
<text x="157.4" y="255.8" font-family="'Liberation Sans','DejaVu Sans',sans-serif" font-size="8.3" font-weight="bold" fill="#1ea7ea">-200.3</text>
<text x="148" y="265.8" font-family="'Liberation Sans','DejaVu Sans',sans-serif" font-size="8.3" text-anchor="start" fill="#4d4d4d" font-weight="normal" >Z</text>
<text x="157.4" y="265.8" font-family="'Liberation Sans','DejaVu Sans',sans-serif" font-size="8.3" font-weight="bold" fill="#1ea7ea">9.83501×10<tspan dy="-2.4" font-size="5.6">31</tspan></text>
<circle cx="143" cy="271.4" r="1.3" fill="#111"/>
</g>
<g id="panel-f">
<g stroke="#d4d4d4" stroke-width="0.8" fill="none">
<polyline points="316.6,356.3 433.5,325.3 522.1,366.8"/>
<polyline points="316.6,333.65 433.5,302.65 522.1,344.15"/>
<polyline points="316.6,311 433.5,280 522.1,321.5"/>
<polyline points="316.6,288.35 433.5,257.35 522.1,298.85"/>
<polyline points="316.6,265.7 433.5,234.7 522.1,276.2"/>
<line x1="323" y1="354.6" x2="323" y2="264"/>
<line x1="323" y1="354.6" x2="411.6" y2="396.1"/>
<line x1="348.6" y1="347.81" x2="348.6" y2="257.21"/>
<line x1="348.6" y1="347.81" x2="437.2" y2="389.31"/>
<line x1="374" y1="341.08" x2="374" y2="250.48"/>
<line x1="374" y1="341.08" x2="462.6" y2="382.58"/>
<line x1="399.9" y1="334.21" x2="399.9" y2="243.61"/>
<line x1="399.9" y1="334.21" x2="488.5" y2="375.71"/>
<line x1="426.1" y1="327.26" x2="426.1" y2="236.66"/>
<line x1="426.1" y1="327.26" x2="514.7" y2="368.76"/>
<line x1="441.9" y1="329.23" x2="441.9" y2="238.63"/>
<line x1="441.9" y1="329.23" x2="325" y2="360.23"/>
<line x1="476.6" y1="345.49" x2="476.6" y2="254.89"/>
<line x1="476.6" y1="345.49" x2="359.7" y2="376.49"/>
<line x1="514" y1="363.01" x2="514" y2="272.41"/>
<line x1="514" y1="363.01" x2="397.1" y2="394.01"/>
</g>
<polyline points="316.6,356.3 405.2,397.8 522.1,366.8" stroke="#3a3a3a" stroke-width="0.8" fill="none"/>
<defs><linearGradient id="pk4" x1="0" y1="289.6" x2="0" y2="365" gradientUnits="userSpaceOnUse"><stop offset="0" stop-color="#f5e34a"/><stop offset="0.07" stop-color="#e4d855"/><stop offset="0.15" stop-color="#8fce62"/><stop offset="0.3" stop-color="#40bc8c"/><stop offset="0.5" stop-color="#2cb4a6"/><stop offset="0.66" stop-color="#22a4c8"/><stop offset="0.8" stop-color="#2b86e6"/><stop offset="0.92" stop-color="#3d5cf0"/><stop offset="1" stop-color="#4240dc"/></linearGradient><radialGradient id="rg4" cx="414.6" cy="365" r="16" gradientUnits="userSpaceOnUse" gradientTransform="translate(414.6,365) scale(1,0.75) translate(-414.6,-365)"><stop offset="0" stop-color="#4a4af0" stop-opacity="0.95"/><stop offset="0.35" stop-color="#4640dc" stop-opacity="0.6"/><stop offset="1" stop-color="#4123ae" stop-opacity="0"/></radialGradient><filter id="bl4" x="-20%" y="-20%" width="140%" height="140%"><feGaussianBlur stdDeviation="1.1"/></filter></defs>
<polygon points="316.6,356.3 317.94,356.53 319.14,355.63 320.48,355.85 321.68,354.95 323.02,355.18 324.22,354.28 325.57,354.5 326.77,353.6 328.11,353.83 329.31,352.93 330.65,353.16 331.85,352.26 333.19,352.48 334.39,351.58 335.73,351.81 336.93,350.91 338.27,351.13 339.47,350.23 340.81,350.46 342.01,349.56 343.35,349.79 344.55,348.89 345.9,349.11 347.1,348.21 348.44,348.44 349.64,347.54 350.98,347.77 352.18,346.87 353.52,347.09 354.72,346.19 356.06,346.42 357.26,345.52 358.6,345.74 359.8,344.84 361.14,345.07 362.34,344.17 363.68,344.4 364.88,343.5 366.23,343.72 367.43,342.82 368.77,343.05 369.97,342.15 371.31,342.37 372.51,341.47 373.85,341.7 375.05,340.8 376.39,341.03 377.59,340.13 378.93,340.35 380.13,339.45 381.47,339.68 382.67,338.78 384.02,339 385.22,338.1 386.56,338.33 387.76,337.43 389.1,337.66 390.3,336.76 391.64,336.98 392.84,336.08 394.18,336.31 395.38,335.41 396.72,335.63 397.92,334.73 399.26,334.96 400.46,334.06 401.8,334.29 403,333.39 404.35,333.61 405.55,332.71 406.89,332.94 408.09,332.04 409.43,332.27 410.63,331.37 411.97,331.59 413.17,330.69 414.51,330.92 415.71,330.02 417.05,330.24 418.25,329.34 419.59,329.57 420.79,328.67 422.13,328.9 423.33,328 424.68,328.22 425.88,327.32 427.22,327.55 428.42,326.65 429.76,326.87 430.96,325.97 432.3,326.2 433.5,325.3 433.93,325 435.43,326.2 435.85,325.9 437.35,327.1 437.78,326.81 439.28,328.01 439.7,327.71 441.2,328.91 441.63,328.61 443.13,329.81 443.56,329.51 445.06,330.71 445.48,330.42 446.98,331.62 447.41,331.32 448.91,332.52 449.33,332.22 450.83,333.42 451.26,333.12 452.76,334.32 453.19,334.02 454.69,335.22 455.11,334.93 456.61,336.13 457.04,335.83 458.54,337.03 458.97,336.73 460.47,337.93 460.89,337.63 462.39,338.83 462.82,338.53 464.32,339.73 464.74,339.44 466.24,340.64 466.67,340.34 468.17,341.54 468.6,341.24 470.1,342.44 470.52,342.14 472.02,343.34 472.45,343.05 473.95,344.25 474.37,343.95 475.87,345.15 476.3,344.85 477.8,346.05 478.23,345.75 479.73,346.95 480.15,346.65 481.65,347.85 482.08,347.56 483.58,348.76 484,348.46 485.5,349.66 485.93,349.36 487.43,350.56 487.86,350.26 489.36,351.46 489.78,351.17 491.28,352.37 491.71,352.07 493.21,353.27 493.63,352.97 495.13,354.17 495.56,353.87 497.06,355.07 497.49,354.77 498.99,355.97 499.41,355.68 500.91,356.88 501.34,356.58 502.84,357.78 503.27,357.48 504.77,358.68 505.19,358.38 506.69,359.58 507.12,359.28 508.62,360.48 509.04,360.19 510.54,361.39 510.97,361.09 512.47,362.29 512.9,361.99 514.4,363.19 514.82,362.89 516.32,364.09 516.75,363.8 518.25,365 518.67,364.7 520.17,365.9 520.6,365.6 522.1,366.8 522.1,366.8 405.2,397.8" fill="#4123ae"/>
<clipPath id="cl4"><polygon points="316.6,356.3 405.2,397.8 522.1,366.8 433.5,325.3"/></clipPath>
<g clip-path="url(#cl4)">
<g filter="url(#bl4)">
<polygon points="413.1,365 381.11,393.96 391.53,398.84 416.6,367" fill="#4c45dc" opacity="0.36"/>
<polygon points="414.1,365 384.74,395.66 388.81,397.56 415.6,366.5" fill="#5650e6" opacity="0.3"/>
</g>
<line x1="416.6" y1="362.4" x2="468.6" y2="339.34" stroke="#4c44da" stroke-width="3.4" opacity="0.3"/>
<line x1="416.6" y1="363.4" x2="468.6" y2="340.14" stroke="#5851e4" stroke-width="1.1" opacity="0.3"/>
<line x1="417.6" y1="365.4" x2="470.6" y2="341.34" stroke="#341d96" stroke-width="1.3" opacity="0.4"/>
</g>
<polygon points="503.6,358.63 504.2,356.23 521.1,364.9 522.9,366.4 522.1,367.3" fill="#4123ae"/>
<ellipse cx="414.6" cy="365" rx="16" ry="12" fill="url(#rg4)"/>
<path d="M414,289.6 L415.2,289.6 L415.4,335 Q415.8,357 418.6,366 L410.6,366 Q413.4,357 413.8,335 Z" fill="url(#pk4)"/>
<g stroke="#333333" stroke-width="1" fill="none" stroke-linecap="square">
<polyline points="316.6,265.7 316.6,356.3"/>
<line x1="316.6" y1="356.3" x2="314" y2="356.3"/>
<line x1="316.6" y1="333.65" x2="314" y2="333.65"/>
<line x1="316.6" y1="311" x2="314" y2="311"/>
<line x1="316.6" y1="288.35" x2="314" y2="288.35"/>
<line x1="316.6" y1="265.7" x2="314" y2="265.7"/>
<line x1="411.6" y1="396.1" x2="414.32" y2="397.38"/>
<line x1="437.2" y1="389.31" x2="439.92" y2="390.59"/>
<line x1="462.6" y1="382.58" x2="465.32" y2="383.85"/>
<line x1="488.5" y1="375.71" x2="491.22" y2="376.98"/>
<line x1="514.7" y1="368.76" x2="517.42" y2="370.03"/>
<line x1="325" y1="360.23" x2="322.1" y2="361"/>
<line x1="359.7" y1="376.49" x2="356.8" y2="377.26"/>
<line x1="397.1" y1="394.01" x2="394.2" y2="394.77"/>
</g>
<text x="310.4" y="358.3" font-family="'Liberation Serif','DejaVu Serif',serif" font-size="9.3" text-anchor="end" fill="#2b2b2b" font-weight="normal" >0</text>
<text x="310.4" y="335.65" font-family="'Liberation Serif','DejaVu Serif',serif" font-size="9.3" text-anchor="end" fill="#2b2b2b" font-weight="normal" >1</text>
<text x="310.4" y="313" font-family="'Liberation Serif','DejaVu Serif',serif" font-size="9.3" text-anchor="end" fill="#2b2b2b" font-weight="normal" >2</text>
<text x="310.4" y="290.35" font-family="'Liberation Serif','DejaVu Serif',serif" font-size="9.3" text-anchor="end" fill="#2b2b2b" font-weight="normal" >3</text>
<text x="310.4" y="267.7" font-family="'Liberation Serif','DejaVu Serif',serif" font-size="9.3" text-anchor="end" fill="#2b2b2b" font-weight="normal" >4</text>
<text x="291" y="257" font-family="'Liberation Serif','DejaVu Serif',serif" font-size="9.3" fill="#2b2b2b">×<tspan dx="1.2">10</tspan><tspan dy="-4.6" dx="0.3" font-size="7.6">15</tspan></text>
<text x="430" y="407.6" font-family="'Liberation Serif','DejaVu Serif',serif" font-size="9.3" text-anchor="middle" fill="#2b2b2b" font-weight="normal" >-2000</text>
<text x="455" y="401" font-family="'Liberation Serif','DejaVu Serif',serif" font-size="9.3" text-anchor="middle" fill="#2b2b2b" font-weight="normal" >-1000</text>
<text x="471.3" y="393.6" font-family="'Liberation Serif','DejaVu Serif',serif" font-size="9.3" text-anchor="middle" fill="#2b2b2b" font-weight="normal" >0</text>
<text x="504.3" y="387" font-family="'Liberation Serif','DejaVu Serif',serif" font-size="9.3" text-anchor="middle" fill="#2b2b2b" font-weight="normal" >1000</text>
<text x="530.5" y="380.6" font-family="'Liberation Serif','DejaVu Serif',serif" font-size="9.3" text-anchor="middle" fill="#2b2b2b" font-weight="normal" >2000</text>
<text x="316.6" y="372" font-family="'Liberation Serif','DejaVu Serif',serif" font-size="9.3" text-anchor="middle" fill="#2b2b2b" font-weight="normal" >2</text>
<text x="353" y="388.6" font-family="'Liberation Serif','DejaVu Serif',serif" font-size="9.3" text-anchor="middle" fill="#2b2b2b" font-weight="normal" >0</text>
<text x="386.5" y="405" font-family="'Liberation Serif','DejaVu Serif',serif" font-size="9.3" text-anchor="middle" fill="#2b2b2b" font-weight="normal" >-2</text>
<text x="296.4" y="393.6" font-family="'Liberation Serif','DejaVu Serif',serif" font-size="9.3" fill="#2b2b2b">×<tspan dx="1.2">10</tspan><tspan dy="-4.6" dx="0.3" font-size="7.6">4</tspan></text>
<text x="472" y="416" font-family="'Liberation Serif','DejaVu Serif',serif" font-size="12.6" fill="#2b2b2b">F<tspan font-style="italic" font-size="13.2">τ</tspan><tspan dx="0.4">/Hz</tspan></text>
<text x="299" y="414" font-family="'Liberation Serif','DejaVu Serif',serif" font-size="12.6" fill="#2b2b2b">velocity/m/s</text>
<text x="414.3" y="450.6" font-family="'Liberation Serif','DejaVu Serif',serif" font-size="14.5" text-anchor="middle" fill="#111">(<tspan font-weight="bold">f</tspan>)</text>
<rect x="415" y="252.4" width="70.4" height="36.6" fill="#fdfdfd" stroke="#b9b9b9" stroke-width="1"/>
<text x="419" y="264.4" font-family="'Liberation Sans','DejaVu Sans',sans-serif" font-size="8.3" text-anchor="start" fill="#4d4d4d" font-weight="normal" >X</text>
<text x="429" y="264.4" font-family="'Liberation Sans','DejaVu Sans',sans-serif" font-size="8.3" font-weight="bold" fill="#1ea7ea">-656.96</text>
<text x="419" y="274.4" font-family="'Liberation Sans','DejaVu Sans',sans-serif" font-size="8.3" text-anchor="start" fill="#4d4d4d" font-weight="normal" >Y</text>
<text x="429" y="274.4" font-family="'Liberation Sans','DejaVu Sans',sans-serif" font-size="8.3" font-weight="bold" fill="#1ea7ea">-6852</text>
<text x="419" y="284.4" font-family="'Liberation Sans','DejaVu Sans',sans-serif" font-size="8.3" text-anchor="start" fill="#4d4d4d" font-weight="normal" >Z</text>
<text x="429" y="284.4" font-family="'Liberation Sans','DejaVu Sans',sans-serif" font-size="8.3" font-weight="bold" fill="#1ea7ea">3.65633×10<tspan dy="-2.4" font-size="5.6">15</tspan></text>
<circle cx="414.6" cy="289.6" r="1.3" fill="#111"/>
</g>
<g id="panel-g">
<g stroke="#d4d4d4" stroke-width="0.8" fill="none">
<polyline points="36.6,584.2 152.2,555.4 240.6,592.4"/>
<polyline points="36.6,557 152.2,528.2 240.6,565.2"/>
<polyline points="36.6,529.8 152.2,501 240.6,538"/>
<polyline points="36.6,502.6 152.2,473.8 240.6,510.8"/>
<line x1="43.6" y1="582.46" x2="43.6" y2="500.86"/>
<line x1="43.6" y1="582.46" x2="132" y2="619.46"/>
<line x1="68.6" y1="576.23" x2="68.6" y2="494.63"/>
<line x1="68.6" y1="576.23" x2="157" y2="613.23"/>
<line x1="94.4" y1="569.8" x2="94.4" y2="488.2"/>
<line x1="94.4" y1="569.8" x2="182.8" y2="606.8"/>
<line x1="120" y1="563.42" x2="120" y2="481.82"/>
<line x1="120" y1="563.42" x2="208.4" y2="600.42"/>
<line x1="145.5" y1="557.07" x2="145.5" y2="475.47"/>
<line x1="145.5" y1="557.07" x2="233.9" y2="594.07"/>
<line x1="156.6" y1="557.24" x2="156.6" y2="475.64"/>
<line x1="156.6" y1="557.24" x2="41" y2="586.04"/>
<line x1="196.6" y1="573.98" x2="196.6" y2="492.38"/>
<line x1="196.6" y1="573.98" x2="81" y2="602.78"/>
<line x1="236.6" y1="590.73" x2="236.6" y2="509.13"/>
<line x1="236.6" y1="590.73" x2="121" y2="619.53"/>
</g>
<polyline points="36.6,584.2 125,621.2 240.6,592.4" stroke="#3a3a3a" stroke-width="0.8" fill="none"/>
<polygon points="36.6,584.2 37.4,581.28 38.41,581.36 39.35,579.16 40.58,579.96 41.6,580.13 42.41,581.4 43.45,579.08 44.66,579.09 45.54,579.84 46.7,579.35 47.77,576.37 48.9,578.59 50.05,577.8 51.04,577.74 52.07,577.51 53.11,578.41 54.26,576.51 55.27,577.84 56.18,577.97 57.33,577.42 58.38,573.87 59.29,576.89 60.24,575.49 61.13,576.43 62.27,574.99 63.26,575.92 64.13,574.78 65.38,574.32 66.68,573.91 67.58,573.69 68.39,573.92 69.38,574.2 70.18,574.09 71.46,574.02 72.36,573.42 73.57,571.58 74.56,571.97 75.54,570.53 76.75,571.57 77.58,571.22 78.75,570.96 79.69,570.63 80.62,570.79 81.56,571.69 82.81,570.37 83.63,570.81 84.91,569.34 85.83,569.95 87.09,570.03 88.26,568.71 89.37,569.23 90.35,567.67 91.52,568.72 92.6,568.43 93.84,567.06 94.69,568.27 95.84,567.43 96.85,566.9 98.02,566.24 98.88,566.04 99.97,566.52 100.87,566.49 101.74,565.26 102.71,565.8 103.76,565.8 104.89,562.88 106.1,564.24 106.92,564.34 108.2,564.13 109.19,563.43 110.12,563.34 110.97,563.42 111.88,563.56 112.78,563.51 113.91,562.33 115.05,563.06 115.95,561.86 116.78,562.76 117.86,561.14 119,561.71 119.96,560.61 121.04,561.29 122.27,559.96 123.17,560.17 123.97,559.69 125.18,560.18 126.21,558.66 127.33,556.97 128.32,559.24 129.26,558.98 130.12,558.82 131.4,556.14 132.69,554.44 133.94,557.26 135.13,555.88 136.35,556.76 137.41,554.62 138.65,555.52 139.47,552.76 140.59,555.05 141.6,555.12 142.41,554.75 143.59,553.78 144.63,553.16 145.65,551.32 146.82,552.26 147.87,551.82 149.1,545.39 150,543.27 151.25,543.16 152.09,549.29 152.2,549.56 153.25,548.46 154.3,550.53 155.57,551.5 156.76,551.12 157.74,551.32 158.99,553.85 159.98,553.14 161.07,556.2 161.96,554.18 163.08,555.42 164.04,557.06 165.05,558.33 165.97,557.92 166.82,558.19 167.91,559.16 168.78,559.17 169.63,558.42 170.63,558.05 171.6,558.85 172.77,562.31 173.59,562.2 174.51,563.35 175.32,562.89 176.19,563.82 177.24,563.56 178.13,564.46 178.95,563.88 180.11,565.77 181.29,565.53 182.31,565.64 183.13,566.51 184.28,566.17 185.21,567.03 186.41,567.58 187.53,567.34 188.77,569.38 189.68,568.6 190.86,569.76 191.82,570.3 192.94,570.04 194.23,570.94 195.38,570.8 196.54,571.75 197.44,569.31 198.32,570.57 199.29,573.46 200.44,573.27 201.6,574.67 202.59,573.88 203.83,575.6 205.09,574.11 205.94,576.54 207.15,576.08 208.27,576.81 209.44,577.73 210.46,578.45 211.4,577.73 212.36,577.74 213.58,577.56 214.6,578.98 215.75,579.84 216.99,581.07 217.87,581.58 219.05,579.04 220.1,581.24 221.14,582.4 222.07,581.84 222.98,582.61 223.84,580.7 224.99,583.31 225.96,584.33 227.21,585.36 228.02,585.51 229.27,585.56 230.51,586.5 231.58,586.12 232.7,587.24 233.58,586.81 234.75,588.38 235.94,586.84 237.18,589.29 238.13,588.94 239.01,590.18 241.1,590.9 240.6,592.4 125,621.2" fill="#4226bf"/>
<clipPath id="clg"><polygon points="36.6,584.2 37.4,581.28 38.41,581.36 39.35,579.16 40.58,579.96 41.6,580.13 42.41,581.4 43.45,579.08 44.66,579.09 45.54,579.84 46.7,579.35 47.77,576.37 48.9,578.59 50.05,577.8 51.04,577.74 52.07,577.51 53.11,578.41 54.26,576.51 55.27,577.84 56.18,577.97 57.33,577.42 58.38,573.87 59.29,576.89 60.24,575.49 61.13,576.43 62.27,574.99 63.26,575.92 64.13,574.78 65.38,574.32 66.68,573.91 67.58,573.69 68.39,573.92 69.38,574.2 70.18,574.09 71.46,574.02 72.36,573.42 73.57,571.58 74.56,571.97 75.54,570.53 76.75,571.57 77.58,571.22 78.75,570.96 79.69,570.63 80.62,570.79 81.56,571.69 82.81,570.37 83.63,570.81 84.91,569.34 85.83,569.95 87.09,570.03 88.26,568.71 89.37,569.23 90.35,567.67 91.52,568.72 92.6,568.43 93.84,567.06 94.69,568.27 95.84,567.43 96.85,566.9 98.02,566.24 98.88,566.04 99.97,566.52 100.87,566.49 101.74,565.26 102.71,565.8 103.76,565.8 104.89,562.88 106.1,564.24 106.92,564.34 108.2,564.13 109.19,563.43 110.12,563.34 110.97,563.42 111.88,563.56 112.78,563.51 113.91,562.33 115.05,563.06 115.95,561.86 116.78,562.76 117.86,561.14 119,561.71 119.96,560.61 121.04,561.29 122.27,559.96 123.17,560.17 123.97,559.69 125.18,560.18 126.21,558.66 127.33,556.97 128.32,559.24 129.26,558.98 130.12,558.82 131.4,556.14 132.69,554.44 133.94,557.26 135.13,555.88 136.35,556.76 137.41,554.62 138.65,555.52 139.47,552.76 140.59,555.05 141.6,555.12 142.41,554.75 143.59,553.78 144.63,553.16 145.65,551.32 146.82,552.26 147.87,551.82 149.1,545.39 150,543.27 151.25,543.16 152.09,549.29 152.2,549.56 153.25,548.46 154.3,550.53 155.57,551.5 156.76,551.12 157.74,551.32 158.99,553.85 159.98,553.14 161.07,556.2 161.96,554.18 163.08,555.42 164.04,557.06 165.05,558.33 165.97,557.92 166.82,558.19 167.91,559.16 168.78,559.17 169.63,558.42 170.63,558.05 171.6,558.85 172.77,562.31 173.59,562.2 174.51,563.35 175.32,562.89 176.19,563.82 177.24,563.56 178.13,564.46 178.95,563.88 180.11,565.77 181.29,565.53 182.31,565.64 183.13,566.51 184.28,566.17 185.21,567.03 186.41,567.58 187.53,567.34 188.77,569.38 189.68,568.6 190.86,569.76 191.82,570.3 192.94,570.04 194.23,570.94 195.38,570.8 196.54,571.75 197.44,569.31 198.32,570.57 199.29,573.46 200.44,573.27 201.6,574.67 202.59,573.88 203.83,575.6 205.09,574.11 205.94,576.54 207.15,576.08 208.27,576.81 209.44,577.73 210.46,578.45 211.4,577.73 212.36,577.74 213.58,577.56 214.6,578.98 215.75,579.84 216.99,581.07 217.87,581.58 219.05,579.04 220.1,581.24 221.14,582.4 222.07,581.84 222.98,582.61 223.84,580.7 224.99,583.31 225.96,584.33 227.21,585.36 228.02,585.51 229.27,585.56 230.51,586.5 231.58,586.12 232.7,587.24 233.58,586.81 234.75,588.38 235.94,586.84 237.18,589.29 238.13,588.94 239.01,590.18 241.1,590.9 240.6,592.4 125,621.2"/></clipPath>
<g stroke-width="0.8" stroke-linecap="butt" clip-path="url(#clg)">
<line x1="101.36" y1="597.89" x2="101.36" y2="594.75" stroke="#5b5be8" opacity="0.75"/>
<line x1="127.2" y1="570.34" x2="127.2" y2="567.87" stroke="#4a63f0" opacity="0.65"/>
<line x1="151.7" y1="597.81" x2="151.7" y2="595.33" stroke="#4f4ae0" opacity="0.39"/>
<line x1="168.48" y1="602.59" x2="168.48" y2="601.03" stroke="#4440c8" opacity="0.6"/>
<line x1="153.95" y1="583.51" x2="153.95" y2="579.69" stroke="#3d6cf2" opacity="0.62"/>
<line x1="65.1" y1="576.43" x2="65.1" y2="570.66" stroke="#3d6cf2" opacity="0.62"/>
<line x1="100.25" y1="592.2" x2="100.25" y2="587.09" stroke="#5b5be8" opacity="0.6"/>
<line x1="190.52" y1="595.17" x2="190.52" y2="590.46" stroke="#5a50e6" opacity="0.38"/>
<line x1="201.97" y1="583.36" x2="201.97" y2="580.64" stroke="#5b5be8" opacity="0.56"/>
<line x1="107.67" y1="580.25" x2="107.67" y2="576.48" stroke="#4440c8" opacity="0.51"/>
<line x1="195.96" y1="582.52" x2="195.96" y2="576.55" stroke="#4f4ae0" opacity="0.44"/>
<line x1="192.57" y1="573.26" x2="192.57" y2="571.56" stroke="#4a63f0" opacity="0.61"/>
<line x1="143.8" y1="612.64" x2="143.8" y2="609.4" stroke="#4440c8" opacity="0.52"/>
<line x1="159.22" y1="594.99" x2="159.22" y2="590.29" stroke="#3d6cf2" opacity="0.42"/>
<line x1="155.02" y1="597.5" x2="155.02" y2="591.05" stroke="#3d6cf2" opacity="0.63"/>
<line x1="161.22" y1="559.38" x2="161.22" y2="551.1" stroke="#5a50e6" opacity="0.44"/>
<line x1="50.73" y1="583.31" x2="50.73" y2="577.23" stroke="#5b5be8" opacity="0.43"/>
<line x1="85.98" y1="586.55" x2="85.98" y2="581.34" stroke="#3d6cf2" opacity="0.74"/>
<line x1="235.56" y1="592.31" x2="235.56" y2="588.5" stroke="#4f4ae0" opacity="0.65"/>
<line x1="146.91" y1="593.16" x2="146.91" y2="588.85" stroke="#4a63f0" opacity="0.43"/>
<line x1="187.72" y1="583.26" x2="187.72" y2="577.67" stroke="#5a50e6" opacity="0.63"/>
<line x1="184.18" y1="584.78" x2="184.18" y2="580.93" stroke="#4a63f0" opacity="0.38"/>
<line x1="99.16" y1="589.82" x2="99.16" y2="586.18" stroke="#4f4ae0" opacity="0.65"/>
<line x1="148.61" y1="602.45" x2="148.61" y2="597.68" stroke="#4440c8" opacity="0.46"/>
<line x1="169.15" y1="587.79" x2="169.15" y2="584.48" stroke="#4440c8" opacity="0.28"/>
<line x1="214.5" y1="587.75" x2="214.5" y2="582.32" stroke="#5a50e6" opacity="0.57"/>
<line x1="39.25" y1="583.42" x2="39.25" y2="577.17" stroke="#5a50e6" opacity="0.55"/>
<line x1="186.48" y1="580" x2="186.48" y2="577.58" stroke="#4a63f0" opacity="0.35"/>
<line x1="133.97" y1="582.7" x2="133.97" y2="578.15" stroke="#4f4ae0" opacity="0.58"/>
<line x1="206.72" y1="593.58" x2="206.72" y2="587.88" stroke="#5b5be8" opacity="0.36"/>
<line x1="140.57" y1="561.94" x2="140.57" y2="557.08" stroke="#4f4ae0" opacity="0.38"/>
<line x1="73.41" y1="587.85" x2="73.41" y2="578.89" stroke="#4440c8" opacity="0.7"/>
<line x1="127.02" y1="602.01" x2="127.02" y2="599.69" stroke="#5b5be8" opacity="0.25"/>
<line x1="165.02" y1="600.83" x2="165.02" y2="596.52" stroke="#4440c8" opacity="0.44"/>
<line x1="184.67" y1="571.03" x2="184.67" y2="569.15" stroke="#5b5be8" opacity="0.57"/>
<line x1="43.72" y1="582.64" x2="43.72" y2="577.46" stroke="#4f4ae0" opacity="0.51"/>
<line x1="183.2" y1="575.28" x2="183.2" y2="573.61" stroke="#5b5be8" opacity="0.31"/>
<line x1="121.13" y1="567.72" x2="121.13" y2="564.51" stroke="#3d6cf2" opacity="0.64"/>
<line x1="105.54" y1="578.46" x2="105.54" y2="574.85" stroke="#5a50e6" opacity="0.4"/>
<line x1="156.44" y1="602.2" x2="156.44" y2="598.18" stroke="#3d6cf2" opacity="0.42"/>
<line x1="111.49" y1="576.56" x2="111.49" y2="574.47" stroke="#5b5be8" opacity="0.4"/>
<line x1="161.83" y1="586.62" x2="161.83" y2="576.19" stroke="#5b5be8" opacity="0.53"/>
<line x1="138.85" y1="581.69" x2="138.85" y2="578.2" stroke="#4f4ae0" opacity="0.34"/>
<line x1="188.42" y1="599.76" x2="188.42" y2="594.97" stroke="#3d6cf2" opacity="0.56"/>
<line x1="163.58" y1="587.97" x2="163.58" y2="582.98" stroke="#5b5be8" opacity="0.29"/>
<line x1="113.33" y1="566.41" x2="113.33" y2="561.79" stroke="#5b5be8" opacity="0.34"/>
<line x1="129.41" y1="562.26" x2="129.41" y2="556.19" stroke="#5a50e6" opacity="0.69"/>
<line x1="84.62" y1="579.42" x2="84.62" y2="574.37" stroke="#4a63f0" opacity="0.46"/>
<line x1="114.54" y1="582.58" x2="114.54" y2="577.87" stroke="#4f4ae0" opacity="0.5"/>
<line x1="178.1" y1="578.77" x2="178.1" y2="573.4" stroke="#5b5be8" opacity="0.71"/>
<line x1="77.7" y1="599.31" x2="77.7" y2="595.88" stroke="#5b5be8" opacity="0.74"/>
<line x1="126.31" y1="588.91" x2="126.31" y2="586.9" stroke="#4a63f0" opacity="0.7"/>
<line x1="141.38" y1="594.1" x2="141.38" y2="592.55" stroke="#4f4ae0" opacity="0.36"/>
<line x1="101.93" y1="574.09" x2="101.93" y2="571.21" stroke="#4440c8" opacity="0.62"/>
<line x1="58.96" y1="588.69" x2="58.96" y2="583.32" stroke="#4a63f0" opacity="0.61"/>
<line x1="116.72" y1="568.21" x2="116.72" y2="563.17" stroke="#5a50e6" opacity="0.71"/>
<line x1="44.95" y1="584.23" x2="44.95" y2="582.42" stroke="#5b5be8" opacity="0.66"/>
<line x1="79.6" y1="577.19" x2="79.6" y2="572.04" stroke="#4440c8" opacity="0.55"/>
<line x1="174.24" y1="567.58" x2="174.24" y2="562.44" stroke="#4a63f0" opacity="0.32"/>
<line x1="149.08" y1="602.24" x2="149.08" y2="597.52" stroke="#4440c8" opacity="0.49"/>
<line x1="157.72" y1="598.95" x2="157.72" y2="596.09" stroke="#5a50e6" opacity="0.4"/>
<line x1="154.55" y1="557.39" x2="154.55" y2="552.38" stroke="#5a50e6" opacity="0.68"/>
<line x1="102.54" y1="609.6" x2="102.54" y2="607.35" stroke="#3d6cf2" opacity="0.46"/>
<line x1="158.65" y1="605.21" x2="158.65" y2="600.29" stroke="#4a63f0" opacity="0.65"/>
<line x1="61.84" y1="593.63" x2="61.84" y2="590.82" stroke="#3d6cf2" opacity="0.71"/>
<line x1="194.6" y1="588.89" x2="194.6" y2="585.95" stroke="#3d6cf2" opacity="0.32"/>
<line x1="214.99" y1="596.33" x2="214.99" y2="592.09" stroke="#4440c8" opacity="0.42"/>
<line x1="108.12" y1="570.4" x2="108.12" y2="564.91" stroke="#5b5be8" opacity="0.72"/>
<line x1="127.45" y1="574.38" x2="127.45" y2="569.49" stroke="#4a63f0" opacity="0.71"/>
<line x1="89.52" y1="604.63" x2="89.52" y2="601.2" stroke="#3d6cf2" opacity="0.65"/>
<line x1="131.78" y1="605.06" x2="131.78" y2="600.67" stroke="#3d6cf2" opacity="0.41"/>
<line x1="104.68" y1="596.11" x2="104.68" y2="593.55" stroke="#5b5be8" opacity="0.39"/>
<line x1="129.17" y1="594.24" x2="129.17" y2="588.85" stroke="#4a63f0" opacity="0.27"/>
<line x1="167.99" y1="609.32" x2="167.99" y2="607.29" stroke="#4f4ae0" opacity="0.33"/>
<line x1="129.27" y1="595.36" x2="129.27" y2="586.27" stroke="#4f4ae0" opacity="0.35"/>
<line x1="178.94" y1="599.13" x2="178.94" y2="594.7" stroke="#5a50e6" opacity="0.46"/>
<line x1="208.96" y1="596.12" x2="208.96" y2="590.53" stroke="#5a50e6" opacity="0.67"/>
<line x1="181.53" y1="567.09" x2="181.53" y2="558.7" stroke="#4f4ae0" opacity="0.53"/>
<line x1="166.54" y1="602.22" x2="166.54" y2="595.98" stroke="#4f4ae0" opacity="0.68"/>
<line x1="199.76" y1="580.32" x2="199.76" y2="575.28" stroke="#5a50e6" opacity="0.53"/>
<line x1="203.79" y1="579.36" x2="203.79" y2="574.51" stroke="#4440c8" opacity="0.67"/>
<line x1="96.57" y1="590.15" x2="96.57" y2="585.05" stroke="#5a50e6" opacity="0.72"/>
<line x1="105.75" y1="569.47" x2="105.75" y2="567.83" stroke="#5a50e6" opacity="0.64"/>
<line x1="174.09" y1="590.83" x2="174.09" y2="579.4" stroke="#4a63f0" opacity="0.41"/>
<line x1="60.11" y1="577.68" x2="60.11" y2="572.44" stroke="#4440c8" opacity="0.63"/>
<line x1="83.36" y1="577.77" x2="83.36" y2="574.99" stroke="#4440c8" opacity="0.44"/>
<line x1="168.97" y1="576.27" x2="168.97" y2="570.2" stroke="#4440c8" opacity="0.61"/>
<line x1="58.01" y1="589.38" x2="58.01" y2="583.24" stroke="#3d6cf2" opacity="0.68"/>
<line x1="131.32" y1="612.06" x2="131.32" y2="608.32" stroke="#4440c8" opacity="0.67"/>
<line x1="144.44" y1="593.42" x2="144.44" y2="590.22" stroke="#4440c8" opacity="0.31"/>
<line x1="107.33" y1="587.18" x2="107.33" y2="582" stroke="#4440c8" opacity="0.53"/>
<line x1="150.05" y1="563.48" x2="150.05" y2="560.65" stroke="#4a63f0" opacity="0.26"/>
<line x1="121.36" y1="595.79" x2="121.36" y2="590.27" stroke="#4f4ae0" opacity="0.41"/>
<line x1="129.64" y1="613.33" x2="129.64" y2="601.94" stroke="#5b5be8" opacity="0.71"/>
<line x1="182.66" y1="579.86" x2="182.66" y2="577.77" stroke="#5a50e6" opacity="0.47"/>
<line x1="87.31" y1="586" x2="87.31" y2="583.31" stroke="#4440c8" opacity="0.7"/>
<line x1="125.66" y1="564.4" x2="125.66" y2="561.44" stroke="#4f4ae0" opacity="0.47"/>
<line x1="140.54" y1="587.28" x2="140.54" y2="583.56" stroke="#3d6cf2" opacity="0.39"/>
<line x1="73.12" y1="595.36" x2="73.12" y2="591.81" stroke="#4a63f0" opacity="0.32"/>
<line x1="141.59" y1="567.68" x2="141.59" y2="562.62" stroke="#4f4ae0" opacity="0.66"/>
<line x1="199.7" y1="595.06" x2="199.7" y2="589.75" stroke="#4a63f0" opacity="0.56"/>
<line x1="192.98" y1="586.01" x2="192.98" y2="581.6" stroke="#4f4ae0" opacity="0.6"/>
<line x1="179.76" y1="578.2" x2="179.76" y2="572.12" stroke="#5a50e6" opacity="0.42"/>
<line x1="210.96" y1="589.45" x2="210.96" y2="580.49" stroke="#4440c8" opacity="0.32"/>
<line x1="124.14" y1="600.67" x2="124.14" y2="596.36" stroke="#4f4ae0" opacity="0.33"/>
<line x1="138.18" y1="579.8" x2="138.18" y2="578.28" stroke="#4440c8" opacity="0.73"/>
<line x1="84.14" y1="575.57" x2="84.14" y2="572.84" stroke="#5a50e6" opacity="0.64"/>
<line x1="179.96" y1="598.72" x2="179.96" y2="592.73" stroke="#4f4ae0" opacity="0.73"/>
<line x1="139.68" y1="586.72" x2="139.68" y2="582.57" stroke="#4f4ae0" opacity="0.37"/>
<line x1="116" y1="568.65" x2="116" y2="566.31" stroke="#3d6cf2" opacity="0.66"/>
<line x1="50.41" y1="581.53" x2="50.41" y2="576.54" stroke="#4f4ae0" opacity="0.67"/>
<line x1="146.53" y1="593.4" x2="146.53" y2="590.71" stroke="#5a50e6" opacity="0.68"/>
<line x1="105.21" y1="608.43" x2="105.21" y2="606.32" stroke="#3d6cf2" opacity="0.63"/>
<line x1="60.38" y1="583.77" x2="60.38" y2="577.85" stroke="#4a63f0" opacity="0.68"/>
<line x1="115.83" y1="572.15" x2="115.83" y2="566.92" stroke="#4f4ae0" opacity="0.72"/>
<line x1="119.57" y1="585.47" x2="119.57" y2="579.78" stroke="#4440c8" opacity="0.74"/>
<line x1="83.19" y1="574.66" x2="83.19" y2="571.16" stroke="#5b5be8" opacity="0.47"/>
<line x1="216.33" y1="596.34" x2="216.33" y2="590.28" stroke="#3d6cf2" opacity="0.28"/>
<line x1="193.06" y1="574.76" x2="193.06" y2="568.58" stroke="#4440c8" opacity="0.58"/>
<line x1="50.22" y1="580.49" x2="50.22" y2="578.05" stroke="#4a63f0" opacity="0.5"/>
<line x1="54.56" y1="579.96" x2="54.56" y2="573.61" stroke="#4440c8" opacity="0.57"/>
<line x1="210.37" y1="587.67" x2="210.37" y2="576.75" stroke="#5b5be8" opacity="0.56"/>
<line x1="189.82" y1="599.21" x2="189.82" y2="594.57" stroke="#4f4ae0" opacity="0.56"/>
<line x1="118.9" y1="577.49" x2="118.9" y2="573.82" stroke="#5a50e6" opacity="0.31"/>
<line x1="86.63" y1="591.25" x2="86.63" y2="589.45" stroke="#3d6cf2" opacity="0.7"/>
<line x1="112.3" y1="569.33" x2="112.3" y2="563.17" stroke="#3d6cf2" opacity="0.32"/>
<line x1="109.55" y1="582.35" x2="109.55" y2="579.41" stroke="#4f4ae0" opacity="0.62"/>
<line x1="114.48" y1="580.75" x2="114.48" y2="575.77" stroke="#4440c8" opacity="0.35"/>
<line x1="152.67" y1="596.21" x2="152.67" y2="591.97" stroke="#4440c8" opacity="0.66"/>
<line x1="77.91" y1="574.74" x2="77.91" y2="572.29" stroke="#3d6cf2" opacity="0.45"/>
<line x1="137.06" y1="612.72" x2="137.06" y2="606.46" stroke="#5a50e6" opacity="0.5"/>
<line x1="175.93" y1="565.3" x2="175.93" y2="562.32" stroke="#4a63f0" opacity="0.53"/>
<line x1="130.39" y1="595.6" x2="130.39" y2="590.81" stroke="#4440c8" opacity="0.43"/>
<line x1="164.25" y1="596.42" x2="164.25" y2="589.98" stroke="#4a63f0" opacity="0.46"/>
<line x1="111.89" y1="603.88" x2="111.89" y2="601.37" stroke="#5a50e6" opacity="0.66"/>
<line x1="167.77" y1="581.08" x2="167.77" y2="575.86" stroke="#4440c8" opacity="0.38"/>
<line x1="165.43" y1="588.33" x2="165.43" y2="583.31" stroke="#4f4ae0" opacity="0.25"/>
<line x1="172.01" y1="594.66" x2="172.01" y2="590.67" stroke="#3d6cf2" opacity="0.32"/>
<line x1="144.02" y1="606.6" x2="144.02" y2="602" stroke="#4440c8" opacity="0.6"/>
<line x1="102.83" y1="583.7" x2="102.83" y2="580.44" stroke="#3d6cf2" opacity="0.44"/>
<line x1="156.05" y1="572.45" x2="156.05" y2="566.7" stroke="#4440c8" opacity="0.4"/>
<line x1="176.88" y1="579.94" x2="176.88" y2="576.26" stroke="#4a63f0" opacity="0.29"/>
<line x1="155.38" y1="607.92" x2="155.38" y2="602.2" stroke="#5a50e6" opacity="0.35"/>
<line x1="179.56" y1="572.75" x2="179.56" y2="566.2" stroke="#3d6cf2" opacity="0.7"/>
<line x1="125.12" y1="578.84" x2="125.12" y2="575.78" stroke="#4440c8" opacity="0.51"/>
<line x1="161.54" y1="582.6" x2="161.54" y2="579.16" stroke="#3d6cf2" opacity="0.59"/>
<line x1="77.85" y1="599.66" x2="77.85" y2="597.82" stroke="#4440c8" opacity="0.44"/>
<line x1="136.93" y1="581.87" x2="136.93" y2="577.5" stroke="#4440c8" opacity="0.49"/>
<line x1="147.71" y1="581.5" x2="147.71" y2="575.02" stroke="#3d6cf2" opacity="0.62"/>
<line x1="86.68" y1="576.17" x2="86.68" y2="567.83" stroke="#5a50e6" opacity="0.51"/>
<line x1="149.77" y1="561.53" x2="149.77" y2="556.58" stroke="#3d6cf2" opacity="0.69"/>
<line x1="91.89" y1="594.27" x2="91.89" y2="591.32" stroke="#3d6cf2" opacity="0.7"/>
<line x1="80" y1="596.72" x2="80" y2="592.4" stroke="#3d6cf2" opacity="0.75"/>
<line x1="97.76" y1="605.53" x2="97.76" y2="601.98" stroke="#5a50e6" opacity="0.61"/>
<line x1="191.49" y1="577.25" x2="191.49" y2="573.76" stroke="#4f4ae0" opacity="0.58"/>
<line x1="111.54" y1="576.14" x2="111.54" y2="571.87" stroke="#5b5be8" opacity="0.7"/>
<line x1="98.68" y1="598.09" x2="98.68" y2="595.6" stroke="#4a63f0" opacity="0.33"/>
<line x1="116.07" y1="608.23" x2="116.07" y2="606.23" stroke="#3d6cf2" opacity="0.5"/>
<line x1="127.71" y1="588.1" x2="127.71" y2="582.59" stroke="#5b5be8" opacity="0.64"/>
<line x1="147.84" y1="574.54" x2="147.84" y2="571.27" stroke="#5a50e6" opacity="0.56"/>
<line x1="222.12" y1="587.7" x2="222.12" y2="585.89" stroke="#3d6cf2" opacity="0.44"/>
<line x1="144.38" y1="559.58" x2="144.38" y2="555.16" stroke="#4440c8" opacity="0.28"/>
<line x1="83.43" y1="585.6" x2="83.43" y2="583.3" stroke="#4a63f0" opacity="0.41"/>
<line x1="210.38" y1="592.96" x2="210.38" y2="589.94" stroke="#4440c8" opacity="0.74"/>
<line x1="120.86" y1="566.19" x2="120.86" y2="561.32" stroke="#4440c8" opacity="0.4"/>
<line x1="169.97" y1="601.64" x2="169.97" y2="596.17" stroke="#4a63f0" opacity="0.33"/>
<line x1="70.99" y1="597" x2="70.99" y2="591.09" stroke="#5a50e6" opacity="0.31"/>
<line x1="128.36" y1="591.84" x2="128.36" y2="583.33" stroke="#4f4ae0" opacity="0.46"/>
<line x1="181.33" y1="601.03" x2="181.33" y2="597.59" stroke="#5a50e6" opacity="0.37"/>
<line x1="116.48" y1="565.36" x2="116.48" y2="562.15" stroke="#5b5be8" opacity="0.31"/>
<line x1="116.94" y1="574.77" x2="116.94" y2="569.33" stroke="#4440c8" opacity="0.67"/>
<line x1="126.16" y1="608.4" x2="126.16" y2="605.13" stroke="#4440c8" opacity="0.56"/>
<line x1="122.3" y1="596.13" x2="122.3" y2="592.25" stroke="#4440c8" opacity="0.59"/>
<line x1="235.24" y1="589.32" x2="235.24" y2="584.84" stroke="#5a50e6" opacity="0.52"/>
<line x1="131.31" y1="583.46" x2="131.31" y2="581.33" stroke="#5b5be8" opacity="0.51"/>
<line x1="115.82" y1="595.49" x2="115.82" y2="590.13" stroke="#5b5be8" opacity="0.61"/>
<line x1="51.16" y1="588.14" x2="51.16" y2="583.08" stroke="#4a63f0" opacity="0.41"/>
<line x1="107.78" y1="604.58" x2="107.78" y2="600.27" stroke="#3d6cf2" opacity="0.63"/>
<line x1="136.73" y1="569.64" x2="136.73" y2="567.7" stroke="#5b5be8" opacity="0.45"/>
<line x1="165.67" y1="572.05" x2="165.67" y2="568.23" stroke="#5b5be8" opacity="0.68"/>
<line x1="80.25" y1="580.13" x2="80.25" y2="578.48" stroke="#5b5be8" opacity="0.6"/>
<line x1="118.81" y1="615.66" x2="118.81" y2="610.64" stroke="#4440c8" opacity="0.43"/>
<line x1="113.19" y1="601.23" x2="113.19" y2="599.16" stroke="#5b5be8" opacity="0.36"/>
<line x1="143.26" y1="596.61" x2="143.26" y2="592.07" stroke="#5a50e6" opacity="0.33"/>
<line x1="165.72" y1="594.61" x2="165.72" y2="589.96" stroke="#3d6cf2" opacity="0.67"/>
<line x1="169.85" y1="583.66" x2="169.85" y2="580.88" stroke="#5b5be8" opacity="0.54"/>
<line x1="132.25" y1="614.6" x2="132.25" y2="609.28" stroke="#4f4ae0" opacity="0.69"/>
<line x1="168.78" y1="584.8" x2="168.78" y2="578.43" stroke="#4f4ae0" opacity="0.65"/>
<line x1="160.89" y1="564.64" x2="160.89" y2="559.39" stroke="#5b5be8" opacity="0.62"/>
<line x1="195.97" y1="602.41" x2="195.97" y2="599.8" stroke="#5a50e6" opacity="0.72"/>
<line x1="181.61" y1="572.1" x2="181.61" y2="567.14" stroke="#5b5be8" opacity="0.56"/>
<line x1="159.78" y1="582.53" x2="159.78" y2="580" stroke="#4a63f0" opacity="0.49"/>
<line x1="163.42" y1="562.78" x2="163.42" y2="557.15" stroke="#4a63f0" opacity="0.52"/>
<line x1="195.99" y1="600.71" x2="195.99" y2="596.49" stroke="#4f4ae0" opacity="0.33"/>
<line x1="77.99" y1="593.38" x2="77.99" y2="588.7" stroke="#5b5be8" opacity="0.6"/>
<line x1="123.36" y1="601.15" x2="123.36" y2="598.44" stroke="#4440c8" opacity="0.32"/>
<line x1="173.95" y1="586.81" x2="173.95" y2="584.64" stroke="#3d6cf2" opacity="0.53"/>
<line x1="160.35" y1="572.06" x2="160.35" y2="567.82" stroke="#4a63f0" opacity="0.59"/>
<line x1="163.49" y1="560.72" x2="163.49" y2="555.03" stroke="#4a63f0" opacity="0.31"/>
<line x1="103.85" y1="583.52" x2="103.85" y2="575.99" stroke="#5a50e6" opacity="0.4"/>
<line x1="82.09" y1="578.4" x2="82.09" y2="572.08" stroke="#4440c8" opacity="0.48"/>
<line x1="88.12" y1="591.79" x2="88.12" y2="584.93" stroke="#4440c8" opacity="0.29"/>
<line x1="213.31" y1="581.5" x2="213.31" y2="577.19" stroke="#4440c8" opacity="0.73"/>
<line x1="170.39" y1="578.69" x2="170.39" y2="575.58" stroke="#4f4ae0" opacity="0.57"/>
<line x1="200.21" y1="579.49" x2="200.21" y2="574.73" stroke="#4a63f0" opacity="0.29"/>
<line x1="105.6" y1="610.13" x2="105.6" y2="606.65" stroke="#5a50e6" opacity="0.34"/>
<line x1="190.77" y1="582.45" x2="190.77" y2="576.32" stroke="#5b5be8" opacity="0.67"/>
<line x1="139.98" y1="601.26" x2="139.98" y2="598.84" stroke="#5a50e6" opacity="0.37"/>
<line x1="154.97" y1="561.76" x2="154.97" y2="556.07" stroke="#4f4ae0" opacity="0.27"/>
<line x1="159.33" y1="586.08" x2="159.33" y2="580.48" stroke="#4f4ae0" opacity="0.72"/>
<line x1="138.05" y1="587.11" x2="138.05" y2="584.82" stroke="#3d6cf2" opacity="0.56"/>
<line x1="75.44" y1="581.9" x2="75.44" y2="579.71" stroke="#4440c8" opacity="0.29"/>
<line x1="90.94" y1="572.02" x2="90.94" y2="569.57" stroke="#4f4ae0" opacity="0.27"/>
<line x1="186.95" y1="581.79" x2="186.95" y2="577.74" stroke="#4f4ae0" opacity="0.58"/>
<line x1="130.78" y1="590.11" x2="130.78" y2="586.92" stroke="#5b5be8" opacity="0.73"/>
<line x1="135.96" y1="568.85" x2="135.96" y2="560.46" stroke="#3d6cf2" opacity="0.59"/>
<line x1="140.97" y1="590.7" x2="140.97" y2="586.48" stroke="#4440c8" opacity="0.74"/>
<line x1="216.97" y1="591.9" x2="216.97" y2="585.53" stroke="#3d6cf2" opacity="0.29"/>
<line x1="191.73" y1="592.34" x2="191.73" y2="589.19" stroke="#3d6cf2" opacity="0.54"/>
<line x1="176.4" y1="604.61" x2="176.4" y2="599.87" stroke="#5a50e6" opacity="0.52"/>
<line x1="190.66" y1="582.22" x2="190.66" y2="579.61" stroke="#5b5be8" opacity="0.29"/>
<line x1="137.99" y1="596.92" x2="137.99" y2="592.52" stroke="#3d6cf2" opacity="0.37"/>
<line x1="105.8" y1="592.01" x2="105.8" y2="589.38" stroke="#4a63f0" opacity="0.52"/>
<line x1="146.19" y1="562.52" x2="146.19" y2="559.76" stroke="#3d6cf2" opacity="0.59"/>
<line x1="125.52" y1="602.9" x2="125.52" y2="599.11" stroke="#5b5be8" opacity="0.31"/>
<line x1="149.99" y1="585.24" x2="149.99" y2="583.34" stroke="#4f4ae0" opacity="0.65"/>
<line x1="106.63" y1="573.68" x2="106.63" y2="569.64" stroke="#4f4ae0" opacity="0.56"/>
<line x1="181.05" y1="603.9" x2="181.05" y2="600.1" stroke="#3d6cf2" opacity="0.34"/>
<line x1="186.55" y1="602.51" x2="186.55" y2="597.13" stroke="#3d6cf2" opacity="0.28"/>
<line x1="100.59" y1="581.24" x2="100.59" y2="579.67" stroke="#4a63f0" opacity="0.48"/>
<line x1="62.93" y1="583.75" x2="62.93" y2="577.71" stroke="#4a63f0" opacity="0.53"/>
<line x1="218.37" y1="592.07" x2="218.37" y2="589.73" stroke="#5a50e6" opacity="0.65"/>
<line x1="103.02" y1="610.1" x2="103.02" y2="607.32" stroke="#3d6cf2" opacity="0.62"/>
<line x1="203.84" y1="597.49" x2="203.84" y2="595.77" stroke="#4f4ae0" opacity="0.43"/>
<line x1="135.25" y1="577.94" x2="135.25" y2="576.27" stroke="#4a63f0" opacity="0.38"/>
<line x1="105.32" y1="577.48" x2="105.32" y2="571.79" stroke="#4f4ae0" opacity="0.65"/>
<line x1="88.27" y1="599.13" x2="88.27" y2="596.34" stroke="#5a50e6" opacity="0.69"/>
<line x1="192.46" y1="583.89" x2="192.46" y2="579.45" stroke="#5b5be8" opacity="0.63"/>
<line x1="111.69" y1="580.35" x2="111.69" y2="578.73" stroke="#4440c8" opacity="0.5"/>
<line x1="206.31" y1="592.45" x2="206.31" y2="590.77" stroke="#5b5be8" opacity="0.59"/>
<line x1="126.3" y1="584.02" x2="126.3" y2="581.73" stroke="#4440c8" opacity="0.36"/>
<line x1="181.04" y1="603.75" x2="181.04" y2="600.45" stroke="#5a50e6" opacity="0.7"/>
<line x1="93.73" y1="603.74" x2="93.73" y2="601.4" stroke="#4440c8" opacity="0.42"/>
<line x1="186.37" y1="573.53" x2="186.37" y2="570.46" stroke="#4440c8" opacity="0.42"/>
<line x1="91.52" y1="570.73" x2="91.52" y2="559.3" stroke="#4a63f0" opacity="0.61"/>
<line x1="93.74" y1="577.44" x2="93.74" y2="575.63" stroke="#5a50e6" opacity="0.53"/>
<line x1="193.91" y1="575.18" x2="193.91" y2="563.72" stroke="#3d6cf2" opacity="0.7"/>
<line x1="68.05" y1="580.99" x2="68.05" y2="577.35" stroke="#4f4ae0" opacity="0.43"/>
<line x1="153.43" y1="570.71" x2="153.43" y2="564.85" stroke="#5b5be8" opacity="0.29"/>
<line x1="161.2" y1="608.99" x2="161.2" y2="605.68" stroke="#4a63f0" opacity="0.43"/>
<line x1="132.21" y1="591.89" x2="132.21" y2="590.08" stroke="#5a50e6" opacity="0.69"/>
<line x1="164.01" y1="597.65" x2="164.01" y2="591.68" stroke="#5a50e6" opacity="0.33"/>
<line x1="157.5" y1="565.2" x2="157.5" y2="560.34" stroke="#4440c8" opacity="0.53"/>
<line x1="82.86" y1="589.52" x2="82.86" y2="587.69" stroke="#5a50e6" opacity="0.38"/>
<line x1="163.32" y1="585.39" x2="163.32" y2="574.06" stroke="#4a63f0" opacity="0.54"/>
<line x1="64.34" y1="581.01" x2="64.34" y2="576.61" stroke="#5a50e6" opacity="0.74"/>
<line x1="180.99" y1="587.97" x2="180.99" y2="581.86" stroke="#5a50e6" opacity="0.7"/>
<line x1="90.76" y1="585.99" x2="90.76" y2="584.37" stroke="#5a50e6" opacity="0.37"/>
<line x1="43.89" y1="582.57" x2="43.89" y2="578.83" stroke="#5a50e6" opacity="0.68"/>
<line x1="116.63" y1="601.51" x2="116.63" y2="596.34" stroke="#3d6cf2" opacity="0.27"/>
<line x1="137.46" y1="562.41" x2="137.46" y2="558.03" stroke="#4f4ae0" opacity="0.34"/>
<line x1="185.27" y1="577.85" x2="185.27" y2="573.15" stroke="#4a63f0" opacity="0.41"/>
<line x1="116.44" y1="614.53" x2="116.44" y2="610.59" stroke="#5a50e6" opacity="0.34"/>
<line x1="204.96" y1="592.21" x2="204.96" y2="590.27" stroke="#4440c8" opacity="0.74"/>
<line x1="180.61" y1="570.9" x2="180.61" y2="560.04" stroke="#5a50e6" opacity="0.53"/>
<line x1="130.37" y1="618.13" x2="130.37" y2="613.56" stroke="#5a50e6" opacity="0.33"/>
<line x1="62.58" y1="577.83" x2="62.58" y2="573.68" stroke="#5a50e6" opacity="0.66"/>
<line x1="136.28" y1="583.35" x2="136.28" y2="578.9" stroke="#5b5be8" opacity="0.74"/>
<line x1="114.02" y1="597.85" x2="114.02" y2="593.26" stroke="#4440c8" opacity="0.63"/>
<line x1="140.95" y1="603.01" x2="140.95" y2="597.64" stroke="#4440c8" opacity="0.53"/>
<line x1="129.77" y1="581.32" x2="129.77" y2="578.45" stroke="#3d6cf2" opacity="0.49"/>
<line x1="184.03" y1="585.15" x2="184.03" y2="581.84" stroke="#4a63f0" opacity="0.45"/>
<line x1="231.46" y1="592.44" x2="231.46" y2="587.82" stroke="#3d6cf2" opacity="0.5"/>
<line x1="106.7" y1="598.51" x2="106.7" y2="592.31" stroke="#4a63f0" opacity="0.7"/>
<line x1="212.5" y1="590.78" x2="212.5" y2="585.38" stroke="#5a50e6" opacity="0.64"/>
<line x1="171.6" y1="563.88" x2="171.6" y2="559.89" stroke="#5a50e6" opacity="0.7"/>
<line x1="95.51" y1="591.49" x2="95.51" y2="581.04" stroke="#5b5be8" opacity="0.62"/>
<line x1="117" y1="567.03" x2="117" y2="563.52" stroke="#4f4ae0" opacity="0.36"/>
<line x1="174.69" y1="570.99" x2="174.69" y2="567.61" stroke="#4a63f0" opacity="0.27"/>
<line x1="120.43" y1="563.54" x2="120.43" y2="560.83" stroke="#5a50e6" opacity="0.63"/>
<line x1="127.92" y1="598.38" x2="127.92" y2="591.91" stroke="#3d6cf2" opacity="0.65"/>
<line x1="186.76" y1="573.97" x2="186.76" y2="568.62" stroke="#4a63f0" opacity="0.66"/>
<line x1="99.9" y1="584.11" x2="99.9" y2="580.18" stroke="#4a63f0" opacity="0.41"/>
<line x1="201.16" y1="578.22" x2="201.16" y2="570.66" stroke="#4a63f0" opacity="0.68"/>
<line x1="106.96" y1="609.08" x2="106.96" y2="603.71" stroke="#4440c8" opacity="0.68"/>
<line x1="158.95" y1="611.44" x2="158.95" y2="609.82" stroke="#4f4ae0" opacity="0.32"/>
<line x1="121.46" y1="579.92" x2="121.46" y2="576.67" stroke="#4440c8" opacity="0.59"/>
<line x1="83.83" y1="576.76" x2="83.83" y2="570.67" stroke="#5a50e6" opacity="0.74"/>
<line x1="66.63" y1="577.66" x2="66.63" y2="572.2" stroke="#4f4ae0" opacity="0.32"/>
<line x1="155.67" y1="588.67" x2="155.67" y2="583.67" stroke="#4f4ae0" opacity="0.75"/>
<line x1="166.14" y1="569.61" x2="166.14" y2="567.5" stroke="#4a63f0" opacity="0.51"/>
<line x1="62.71" y1="576.85" x2="62.71" y2="572.64" stroke="#3d6cf2" opacity="0.5"/>
<line x1="87.41" y1="577.17" x2="87.41" y2="573.19" stroke="#5a50e6" opacity="0.74"/>
<line x1="224.39" y1="586.77" x2="224.39" y2="579.15" stroke="#5b5be8" opacity="0.34"/>
<line x1="67.96" y1="591.01" x2="67.96" y2="589.29" stroke="#4440c8" opacity="0.64"/>
<line x1="151.64" y1="610.73" x2="151.64" y2="602.6" stroke="#4440c8" opacity="0.52"/>
<line x1="164.91" y1="583.63" x2="164.91" y2="577.21" stroke="#5b5be8" opacity="0.38"/>
<line x1="136.33" y1="583.26" x2="136.33" y2="579.85" stroke="#4440c8" opacity="0.69"/>
<line x1="211.47" y1="587.07" x2="211.47" y2="582.4" stroke="#3d6cf2" opacity="0.71"/>
<line x1="129.73" y1="575.03" x2="129.73" y2="571.64" stroke="#4a63f0" opacity="0.58"/>
<line x1="116.04" y1="568.53" x2="116.04" y2="566.86" stroke="#4440c8" opacity="0.6"/>
<line x1="139.98" y1="576.59" x2="139.98" y2="572.35" stroke="#3d6cf2" opacity="0.25"/>
<line x1="201.23" y1="586.23" x2="201.23" y2="582.18" stroke="#4440c8" opacity="0.37"/>
<line x1="178.18" y1="585.08" x2="178.18" y2="581.69" stroke="#4440c8" opacity="0.74"/>
<line x1="136.4" y1="574.06" x2="136.4" y2="563.43" stroke="#3d6cf2" opacity="0.58"/>
<line x1="206.76" y1="595.34" x2="206.76" y2="592.53" stroke="#5b5be8" opacity="0.42"/>
<line x1="154.68" y1="588.57" x2="154.68" y2="577.08" stroke="#3d6cf2" opacity="0.43"/>
<line x1="74.26" y1="585.91" x2="74.26" y2="582.58" stroke="#4a63f0" opacity="0.66"/>
<line x1="151.34" y1="581.78" x2="151.34" y2="576.15" stroke="#4f4ae0" opacity="0.41"/>
<line x1="168.41" y1="571.71" x2="168.41" y2="568.07" stroke="#5b5be8" opacity="0.38"/>
<line x1="86.92" y1="576.73" x2="86.92" y2="571.22" stroke="#4440c8" opacity="0.58"/>
<line x1="94.49" y1="585.01" x2="94.49" y2="581.28" stroke="#5b5be8" opacity="0.49"/>
<line x1="194.89" y1="590.88" x2="194.89" y2="588.63" stroke="#5a50e6" opacity="0.49"/>
<line x1="166.96" y1="589.69" x2="166.96" y2="585.58" stroke="#5a50e6" opacity="0.26"/>
<line x1="120.31" y1="574.2" x2="120.31" y2="572.41" stroke="#5b5be8" opacity="0.52"/>
<line x1="147.21" y1="609.76" x2="147.21" y2="606.94" stroke="#3d6cf2" opacity="0.57"/>
<line x1="135.84" y1="609.17" x2="135.84" y2="605.55" stroke="#3d6cf2" opacity="0.64"/>
<line x1="200.91" y1="596.6" x2="200.91" y2="588.22" stroke="#5a50e6" opacity="0.73"/>
<line x1="144.92" y1="581.65" x2="144.92" y2="578.87" stroke="#3d6cf2" opacity="0.31"/>
<line x1="204.3" y1="577.93" x2="204.3" y2="572.17" stroke="#4f4ae0" opacity="0.58"/>
<line x1="73.91" y1="593.35" x2="73.91" y2="588.07" stroke="#3d6cf2" opacity="0.46"/>
<line x1="193.65" y1="599.3" x2="193.65" y2="593.85" stroke="#3d6cf2" opacity="0.48"/>
<line x1="174.51" y1="576.12" x2="174.51" y2="572.55" stroke="#4f4ae0" opacity="0.47"/>
<line x1="139.19" y1="586.64" x2="139.19" y2="581.01" stroke="#5b5be8" opacity="0.35"/>
<line x1="191.5" y1="576.58" x2="191.5" y2="573.61" stroke="#4440c8" opacity="0.63"/>
<line x1="72.56" y1="581.21" x2="72.56" y2="579.33" stroke="#4f4ae0" opacity="0.5"/>
<line x1="136.5" y1="608.37" x2="136.5" y2="604.6" stroke="#4a63f0" opacity="0.61"/>
<line x1="85.61" y1="599.49" x2="85.61" y2="594.53" stroke="#3d6cf2" opacity="0.32"/>
<line x1="78.37" y1="596.81" x2="78.37" y2="592.18" stroke="#4a63f0" opacity="0.51"/>
<line x1="151.42" y1="554.95" x2="151.42" y2="552.08" stroke="#5a50e6" opacity="0.44"/>
<line x1="129.83" y1="599.16" x2="129.83" y2="595.69" stroke="#5b5be8" opacity="0.28"/>
<line x1="163.72" y1="569.5" x2="163.72" y2="563.99" stroke="#5a50e6" opacity="0.4"/>
<line x1="72.23" y1="582.1" x2="72.23" y2="577.34" stroke="#5b5be8" opacity="0.49"/>
<line x1="130.48" y1="594.27" x2="130.48" y2="588.76" stroke="#5b5be8" opacity="0.53"/>
<line x1="77.45" y1="576.04" x2="77.45" y2="571.88" stroke="#3d6cf2" opacity="0.66"/>
<line x1="65.12" y1="578.18" x2="65.12" y2="574.48" stroke="#4a63f0" opacity="0.65"/>
<line x1="141.49" y1="592.01" x2="141.49" y2="585.84" stroke="#4a63f0" opacity="0.28"/>
<line x1="148.84" y1="580.84" x2="148.84" y2="579.09" stroke="#4f4ae0" opacity="0.66"/>
<line x1="82.19" y1="601.19" x2="82.19" y2="596.08" stroke="#4a63f0" opacity="0.5"/>
<line x1="174.19" y1="588.69" x2="174.19" y2="585.72" stroke="#4a63f0" opacity="0.32"/>
<line x1="141.66" y1="611.2" x2="141.66" y2="609.2" stroke="#4f4ae0" opacity="0.73"/>
<line x1="149.43" y1="579.57" x2="149.43" y2="576.78" stroke="#5b5be8" opacity="0.46"/>
<line x1="220.14" y1="588.72" x2="220.14" y2="586.55" stroke="#4440c8" opacity="0.4"/>
<line x1="124.45" y1="575.05" x2="124.45" y2="571.95" stroke="#4a63f0" opacity="0.4"/>
<line x1="122.84" y1="576.94" x2="122.84" y2="574.37" stroke="#5b5be8" opacity="0.74"/>
<line x1="75.02" y1="596.74" x2="75.02" y2="593.34" stroke="#4a63f0" opacity="0.58"/>
<line x1="120.87" y1="603.18" x2="120.87" y2="600.93" stroke="#5a50e6" opacity="0.59"/>
<line x1="142.48" y1="563.57" x2="142.48" y2="561.46" stroke="#5b5be8" opacity="0.72"/>
<line x1="116.74" y1="594.3" x2="116.74" y2="591.06" stroke="#4440c8" opacity="0.69"/>
<line x1="140.48" y1="611.2" x2="140.48" y2="608.3" stroke="#3d6cf2" opacity="0.52"/>
<line x1="60.57" y1="582.45" x2="60.57" y2="579.59" stroke="#4a63f0" opacity="0.54"/>
<line x1="130.17" y1="577.59" x2="130.17" y2="570.58" stroke="#4a63f0" opacity="0.72"/>
<line x1="100.42" y1="606.05" x2="100.42" y2="602.88" stroke="#4a63f0" opacity="0.41"/>
<line x1="81.46" y1="593.51" x2="81.46" y2="587.85" stroke="#5b5be8" opacity="0.53"/>
<line x1="108.82" y1="570.85" x2="108.82" y2="565.41" stroke="#4440c8" opacity="0.27"/>
<line x1="107.06" y1="567.98" x2="107.06" y2="564.42" stroke="#4440c8" opacity="0.54"/>
<line x1="111.11" y1="585.46" x2="111.11" y2="580.65" stroke="#4a63f0" opacity="0.58"/>
<line x1="45.13" y1="586.39" x2="45.13" y2="581.66" stroke="#5a50e6" opacity="0.32"/>
<line x1="146.53" y1="561.36" x2="146.53" y2="559.28" stroke="#3d6cf2" opacity="0.52"/>
<line x1="93.7" y1="588.11" x2="93.7" y2="578.77" stroke="#5a50e6" opacity="0.43"/>
<line x1="100.75" y1="578.89" x2="100.75" y2="576.37" stroke="#4a63f0" opacity="0.61"/>
<line x1="111.58" y1="596.09" x2="111.58" y2="594.11" stroke="#4f4ae0" opacity="0.49"/>
<line x1="172.47" y1="596.04" x2="172.47" y2="591.1" stroke="#4a63f0" opacity="0.33"/>
<line x1="63.53" y1="592.08" x2="63.53" y2="588.62" stroke="#5a50e6" opacity="0.53"/>
<line x1="124.02" y1="568.55" x2="124.02" y2="565.96" stroke="#3d6cf2" opacity="0.61"/>
<line x1="70.5" y1="578.42" x2="70.5" y2="573.93" stroke="#4f4ae0" opacity="0.36"/>
<line x1="125.12" y1="606.76" x2="125.12" y2="603.75" stroke="#4440c8" opacity="0.55"/>
<line x1="89.46" y1="580.82" x2="89.46" y2="574.66" stroke="#4f4ae0" opacity="0.29"/>
<line x1="143.07" y1="571.13" x2="143.07" y2="566.23" stroke="#5a50e6" opacity="0.64"/>
<line x1="161.53" y1="564.1" x2="161.53" y2="559.17" stroke="#4f4ae0" opacity="0.75"/>
<line x1="162.03" y1="598.67" x2="162.03" y2="594.69" stroke="#4f4ae0" opacity="0.63"/>
<line x1="115.87" y1="601.01" x2="115.87" y2="596.39" stroke="#4440c8" opacity="0.3"/>
<line x1="140.39" y1="599.69" x2="140.39" y2="597.38" stroke="#5b5be8" opacity="0.64"/>
<line x1="110.44" y1="594.09" x2="110.44" y2="589.12" stroke="#4f4ae0" opacity="0.62"/>
<line x1="202.92" y1="590.9" x2="202.92" y2="586.45" stroke="#5b5be8" opacity="0.64"/>
<line x1="148.14" y1="606.81" x2="148.14" y2="600.51" stroke="#5b5be8" opacity="0.31"/>
<line x1="213.24" y1="596.35" x2="213.24" y2="593.59" stroke="#4a63f0" opacity="0.37"/>
<line x1="153.47" y1="588.77" x2="153.47" y2="582.88" stroke="#5b5be8" opacity="0.69"/>
<line x1="117.75" y1="565.95" x2="117.75" y2="562.47" stroke="#5a50e6" opacity="0.66"/>
<line x1="82.58" y1="595.72" x2="82.58" y2="590.96" stroke="#5a50e6" opacity="0.58"/>
<line x1="165.84" y1="604.37" x2="165.84" y2="601.34" stroke="#3d6cf2" opacity="0.26"/>
<line x1="140.29" y1="563.9" x2="140.29" y2="560.3" stroke="#4440c8" opacity="0.32"/>
<line x1="94.42" y1="600.99" x2="94.42" y2="597.52" stroke="#4f4ae0" opacity="0.4"/>
<line x1="75.71" y1="578.65" x2="75.71" y2="573.64" stroke="#5b5be8" opacity="0.52"/>
<line x1="82.98" y1="585.91" x2="82.98" y2="581.28" stroke="#4a63f0" opacity="0.44"/>
<line x1="83.45" y1="591.16" x2="83.45" y2="588.83" stroke="#3d6cf2" opacity="0.69"/>
<line x1="157.18" y1="609.85" x2="157.18" y2="606.76" stroke="#3d6cf2" opacity="0.34"/>
<line x1="128.78" y1="609.26" x2="128.78" y2="600.13" stroke="#4a63f0" opacity="0.3"/>
<line x1="123.68" y1="576.02" x2="123.68" y2="571.23" stroke="#5b5be8" opacity="0.3"/>
<line x1="185.13" y1="578.82" x2="185.13" y2="574.75" stroke="#5a50e6" opacity="0.58"/>
<line x1="115.45" y1="568.04" x2="115.45" y2="564.32" stroke="#5a50e6" opacity="0.4"/>
<line x1="178.64" y1="589.68" x2="178.64" y2="583.49" stroke="#4f4ae0" opacity="0.7"/>
<line x1="122.68" y1="591.16" x2="122.68" y2="579.77" stroke="#5b5be8" opacity="0.31"/>
<line x1="105.91" y1="588.19" x2="105.91" y2="584.13" stroke="#3d6cf2" opacity="0.62"/>
<line x1="77.3" y1="575.13" x2="77.3" y2="572.95" stroke="#5a50e6" opacity="0.32"/>
<line x1="155.21" y1="588.33" x2="155.21" y2="586.6" stroke="#5b5be8" opacity="0.54"/>
<line x1="195.94" y1="601.47" x2="195.94" y2="598.76" stroke="#4f4ae0" opacity="0.46"/>
<line x1="198.07" y1="600.71" x2="198.07" y2="595.18" stroke="#4440c8" opacity="0.5"/>
<line x1="164.4" y1="608.88" x2="164.4" y2="602.87" stroke="#3d6cf2" opacity="0.5"/>
<line x1="102.42" y1="569.66" x2="102.42" y2="563.69" stroke="#4f4ae0" opacity="0.33"/>
<line x1="121.6" y1="605.6" x2="121.6" y2="597.54" stroke="#5a50e6" opacity="0.74"/>
<line x1="146.92" y1="601.58" x2="146.92" y2="596.61" stroke="#4440c8" opacity="0.35"/>
<line x1="115.63" y1="582.45" x2="115.63" y2="580.41" stroke="#4440c8" opacity="0.41"/>
<line x1="161.35" y1="598.94" x2="161.35" y2="596.88" stroke="#3d6cf2" opacity="0.48"/>
<line x1="184.25" y1="595.82" x2="184.25" y2="590.43" stroke="#4a63f0" opacity="0.39"/>
<line x1="160.41" y1="583.97" x2="160.41" y2="578.23" stroke="#4f4ae0" opacity="0.39"/>
<line x1="174.73" y1="570.2" x2="174.73" y2="566.05" stroke="#5b5be8" opacity="0.31"/>
<line x1="77.71" y1="599.5" x2="77.71" y2="595.34" stroke="#5a50e6" opacity="0.43"/>
<line x1="150.38" y1="610.33" x2="150.38" y2="602.61" stroke="#3d6cf2" opacity="0.3"/>
<line x1="185.64" y1="581.65" x2="185.64" y2="575.97" stroke="#5a50e6" opacity="0.33"/>
<line x1="135.76" y1="568.91" x2="135.76" y2="563.7" stroke="#4440c8" opacity="0.45"/>
<line x1="205.55" y1="596.61" x2="205.55" y2="593.4" stroke="#5a50e6" opacity="0.42"/>
<line x1="153.78" y1="564.97" x2="153.78" y2="560.81" stroke="#5b5be8" opacity="0.71"/>
<line x1="86.75" y1="587.75" x2="86.75" y2="582.84" stroke="#4f4ae0" opacity="0.5"/>
<line x1="189.11" y1="595.49" x2="189.11" y2="591.1" stroke="#3d6cf2" opacity="0.61"/>
<line x1="184.57" y1="592.68" x2="184.57" y2="586.92" stroke="#4a63f0" opacity="0.59"/>
<line x1="161.13" y1="596.69" x2="161.13" y2="590.69" stroke="#5b5be8" opacity="0.73"/>
<line x1="162.87" y1="606.65" x2="162.87" y2="603.71" stroke="#5b5be8" opacity="0.44"/>
<line x1="198.14" y1="595.86" x2="198.14" y2="590.5" stroke="#3d6cf2" opacity="0.39"/>
<line x1="81.32" y1="584.64" x2="81.32" y2="582.67" stroke="#4f4ae0" opacity="0.43"/>
<line x1="106.77" y1="607" x2="106.77" y2="601.31" stroke="#4f4ae0" opacity="0.48"/>
<line x1="155.79" y1="598.6" x2="155.79" y2="594.58" stroke="#3d6cf2" opacity="0.53"/>
<line x1="112.55" y1="611.93" x2="112.55" y2="606.3" stroke="#4a63f0" opacity="0.4"/>
<line x1="230.89" y1="590.06" x2="230.89" y2="585.9" stroke="#3d6cf2" opacity="0.65"/>
<line x1="152.11" y1="566.76" x2="152.11" y2="561.21" stroke="#4f4ae0" opacity="0.36"/>
<line x1="145.62" y1="566.25" x2="145.62" y2="563.41" stroke="#5b5be8" opacity="0.39"/>
<line x1="57.5" y1="583.28" x2="57.5" y2="579.82" stroke="#4440c8" opacity="0.36"/>
<line x1="228.4" y1="586.63" x2="228.4" y2="581.11" stroke="#5a50e6" opacity="0.58"/>
<line x1="133.04" y1="574.03" x2="133.04" y2="569.65" stroke="#5b5be8" opacity="0.69"/>
<line x1="113.25" y1="600.56" x2="113.25" y2="595.98" stroke="#4a63f0" opacity="0.39"/>
<line x1="138.85" y1="569.19" x2="138.85" y2="565.11" stroke="#4a63f0" opacity="0.65"/>
<line x1="191.68" y1="588.42" x2="191.68" y2="585.92" stroke="#5a50e6" opacity="0.62"/>
<line x1="226.78" y1="591.79" x2="226.78" y2="586.68" stroke="#4f4ae0" opacity="0.43"/>
<line x1="170.12" y1="574.6" x2="170.12" y2="569.89" stroke="#3d6cf2" opacity="0.38"/>
<line x1="86.93" y1="591.64" x2="86.93" y2="586.97" stroke="#5a50e6" opacity="0.3"/>
<line x1="181.88" y1="590.65" x2="181.88" y2="582.04" stroke="#5b5be8" opacity="0.48"/>
<line x1="57.96" y1="583.91" x2="57.96" y2="581.64" stroke="#4440c8" opacity="0.49"/>
<line x1="82.95" y1="576.54" x2="82.95" y2="573.44" stroke="#4a63f0" opacity="0.67"/>
<line x1="112.34" y1="595.51" x2="112.34" y2="592.07" stroke="#5b5be8" opacity="0.26"/>
<line x1="199.05" y1="596.37" x2="199.05" y2="590.15" stroke="#4440c8" opacity="0.64"/>
<line x1="119.36" y1="605.42" x2="119.36" y2="599.43" stroke="#4a63f0" opacity="0.26"/>
<line x1="123.19" y1="574.26" x2="123.19" y2="565.87" stroke="#4f4ae0" opacity="0.48"/>
<line x1="143.19" y1="559.2" x2="143.19" y2="550.03" stroke="#5a50e6" opacity="0.42"/>
<line x1="139.45" y1="590.61" x2="139.45" y2="585.26" stroke="#4f4ae0" opacity="0.37"/>
<line x1="160.9" y1="605.7" x2="160.9" y2="603.68" stroke="#4a63f0" opacity="0.72"/>
<line x1="141.63" y1="583.01" x2="141.63" y2="576.9" stroke="#4440c8" opacity="0.63"/>
<line x1="170.14" y1="583.58" x2="170.14" y2="577.77" stroke="#5b5be8" opacity="0.59"/>
<line x1="127.41" y1="602.7" x2="127.41" y2="597.95" stroke="#4440c8" opacity="0.55"/>
<line x1="104.63" y1="573.24" x2="104.63" y2="569.83" stroke="#4a63f0" opacity="0.25"/>
<line x1="172.79" y1="582.68" x2="172.79" y2="580.06" stroke="#5b5be8" opacity="0.27"/>
<line x1="157.73" y1="558.56" x2="157.73" y2="548.04" stroke="#4f4ae0" opacity="0.45"/>
<line x1="230.71" y1="590.39" x2="230.71" y2="580.01" stroke="#3d6cf2" opacity="0.57"/>
<line x1="148.26" y1="609.64" x2="148.26" y2="602.37" stroke="#4f4ae0" opacity="0.63"/>
<line x1="125.76" y1="613.06" x2="125.76" y2="610.85" stroke="#3d6cf2" opacity="0.51"/>
<line x1="136.92" y1="564.45" x2="136.92" y2="558.5" stroke="#4f4ae0" opacity="0.29"/>
<line x1="114.16" y1="565.63" x2="114.16" y2="563.7" stroke="#3d6cf2" opacity="0.55"/>
<line x1="116.25" y1="610.55" x2="116.25" y2="608.78" stroke="#5a50e6" opacity="0.48"/>
<line x1="160.61" y1="591.89" x2="160.61" y2="589.35" stroke="#3d6cf2" opacity="0.66"/>
<line x1="91.21" y1="596.63" x2="91.21" y2="591.88" stroke="#4440c8" opacity="0.74"/>
<line x1="100.74" y1="603.38" x2="100.74" y2="599.28" stroke="#4f4ae0" opacity="0.62"/>
<line x1="209.78" y1="590.21" x2="209.78" y2="588.2" stroke="#5a50e6" opacity="0.4"/>
<line x1="119.86" y1="579.91" x2="119.86" y2="575.53" stroke="#4a63f0" opacity="0.25"/>
<line x1="56.37" y1="582.7" x2="56.37" y2="577.74" stroke="#3d6cf2" opacity="0.44"/>
<line x1="230.35" y1="592.99" x2="230.35" y2="588.62" stroke="#5b5be8" opacity="0.63"/>
<line x1="46.15" y1="585.53" x2="46.15" y2="583.74" stroke="#5b5be8" opacity="0.59"/>
<line x1="161.54" y1="602.24" x2="161.54" y2="596.35" stroke="#5a50e6" opacity="0.47"/>
<line x1="128.26" y1="602.06" x2="128.26" y2="599.06" stroke="#5a50e6" opacity="0.44"/>
<line x1="69.77" y1="584.51" x2="69.77" y2="578.27" stroke="#4440c8" opacity="0.63"/>
<line x1="225.51" y1="585.53" x2="225.51" y2="580.26" stroke="#4a63f0" opacity="0.26"/>
<line x1="123.53" y1="593.29" x2="123.53" y2="589.07" stroke="#5a50e6" opacity="0.25"/>
<line x1="132.36" y1="604.85" x2="132.36" y2="596.64" stroke="#4a63f0" opacity="0.3"/>
<line x1="145.83" y1="604.71" x2="145.83" y2="600.07" stroke="#3d6cf2" opacity="0.31"/>
<line x1="101.54" y1="594.06" x2="101.54" y2="592.29" stroke="#4a63f0" opacity="0.72"/>
<line x1="178.26" y1="571.96" x2="178.26" y2="567.01" stroke="#4f4ae0" opacity="0.57"/>
<line x1="143.16" y1="569.52" x2="143.16" y2="563.59" stroke="#4440c8" opacity="0.61"/>
<line x1="144.47" y1="614.74" x2="144.47" y2="611.05" stroke="#5b5be8" opacity="0.72"/>
<line x1="106.92" y1="582.46" x2="106.92" y2="579.25" stroke="#4f4ae0" opacity="0.6"/>
<line x1="85.1" y1="583.47" x2="85.1" y2="577.15" stroke="#3d6cf2" opacity="0.32"/>
<line x1="50.59" y1="583.81" x2="50.59" y2="575.36" stroke="#5b5be8" opacity="0.28"/>
<line x1="79.67" y1="573.33" x2="79.67" y2="571.12" stroke="#4440c8" opacity="0.57"/>
<line x1="183.18" y1="576.8" x2="183.18" y2="570.7" stroke="#4f4ae0" opacity="0.38"/>
<line x1="152.05" y1="577.74" x2="152.05" y2="575.37" stroke="#4f4ae0" opacity="0.68"/>
<line x1="114.62" y1="590.95" x2="114.62" y2="588.42" stroke="#4a63f0" opacity="0.3"/>
<line x1="95.61" y1="580.83" x2="95.61" y2="577.65" stroke="#4a63f0" opacity="0.29"/>
<line x1="134.96" y1="563.98" x2="134.96" y2="559.17" stroke="#5a50e6" opacity="0.34"/>
<line x1="60.52" y1="585.72" x2="60.52" y2="579.31" stroke="#5b5be8" opacity="0.29"/>
<line x1="95.37" y1="603.01" x2="95.37" y2="600.03" stroke="#4a63f0" opacity="0.72"/>
<line x1="130.69" y1="580.73" x2="130.69" y2="578.35" stroke="#5b5be8" opacity="0.38"/>
<line x1="129.44" y1="581.69" x2="129.44" y2="579.63" stroke="#4a63f0" opacity="0.39"/>
<line x1="158.67" y1="575.26" x2="158.67" y2="572.64" stroke="#4a63f0" opacity="0.63"/>
<line x1="139.86" y1="607.83" x2="139.86" y2="601.86" stroke="#4f4ae0" opacity="0.28"/>
<line x1="191.96" y1="583.67" x2="191.96" y2="575.99" stroke="#4440c8" opacity="0.49"/>
<line x1="110.51" y1="571.27" x2="110.51" y2="567.31" stroke="#4440c8" opacity="0.49"/>
<line x1="78.64" y1="582.99" x2="78.64" y2="579.28" stroke="#4f4ae0" opacity="0.38"/>
<line x1="103.48" y1="592.74" x2="103.48" y2="584.55" stroke="#3d6cf2" opacity="0.36"/>
<line x1="167.46" y1="594.53" x2="167.46" y2="588.67" stroke="#4440c8" opacity="0.31"/>
<line x1="180.69" y1="603" x2="180.69" y2="600.3" stroke="#5a50e6" opacity="0.36"/>
<line x1="74.61" y1="578.63" x2="74.61" y2="572.51" stroke="#5b5be8" opacity="0.32"/>
<line x1="180.86" y1="594.88" x2="180.86" y2="592.89" stroke="#5a50e6" opacity="0.28"/>
<line x1="153.69" y1="595.55" x2="153.69" y2="592.76" stroke="#5b5be8" opacity="0.58"/>
<line x1="84.92" y1="601.54" x2="84.92" y2="597.69" stroke="#3d6cf2" opacity="0.57"/>
<line x1="181.71" y1="592.65" x2="181.71" y2="590.45" stroke="#4440c8" opacity="0.65"/>
<line x1="205.78" y1="596.86" x2="205.78" y2="591.08" stroke="#5b5be8" opacity="0.34"/>
<line x1="125.78" y1="574.37" x2="125.78" y2="568.37" stroke="#4a63f0" opacity="0.68"/>
<line x1="174.57" y1="565.66" x2="174.57" y2="559.96" stroke="#5a50e6" opacity="0.54"/>
<line x1="166.12" y1="606.38" x2="166.12" y2="596.49" stroke="#4440c8" opacity="0.37"/>
<line x1="137.92" y1="586.12" x2="137.92" y2="579.87" stroke="#4a63f0" opacity="0.56"/>
<line x1="152.13" y1="567.19" x2="152.13" y2="564.68" stroke="#4440c8" opacity="0.39"/>
<line x1="210.15" y1="597.51" x2="210.15" y2="595.85" stroke="#4440c8" opacity="0.58"/>
<line x1="81.86" y1="573.28" x2="81.86" y2="570.97" stroke="#4f4ae0" opacity="0.33"/>
<line x1="178.49" y1="595.76" x2="178.49" y2="591.89" stroke="#4440c8" opacity="0.32"/>
<line x1="71.79" y1="588.62" x2="71.79" y2="582.32" stroke="#4a63f0" opacity="0.75"/>
<line x1="85.69" y1="578.95" x2="85.69" y2="573.69" stroke="#4440c8" opacity="0.33"/>
<line x1="140.67" y1="591.84" x2="140.67" y2="588.29" stroke="#5b5be8" opacity="0.36"/>
<line x1="135.99" y1="567.34" x2="135.99" y2="561" stroke="#4f4ae0" opacity="0.28"/>
<line x1="129.5" y1="614.05" x2="129.5" y2="612.46" stroke="#5a50e6" opacity="0.63"/>
<line x1="68.08" y1="585.7" x2="68.08" y2="583.83" stroke="#5a50e6" opacity="0.65"/>
<line x1="153.64" y1="592.61" x2="153.64" y2="590.52" stroke="#5b5be8" opacity="0.52"/>
<line x1="139.42" y1="597.71" x2="139.42" y2="593.6" stroke="#4440c8" opacity="0.29"/>
<line x1="181.87" y1="599.98" x2="181.87" y2="597.58" stroke="#5a50e6" opacity="0.57"/>
<line x1="183.57" y1="570.9" x2="183.57" y2="568.12" stroke="#5b5be8" opacity="0.62"/>
<line x1="146.31" y1="592.71" x2="146.31" y2="587.85" stroke="#4f4ae0" opacity="0.47"/>
<line x1="154.6" y1="573.87" x2="154.6" y2="567.59" stroke="#4440c8" opacity="0.73"/>
<line x1="132.98" y1="605.56" x2="132.98" y2="601.91" stroke="#4a63f0" opacity="0.52"/>
<line x1="87.53" y1="594.18" x2="87.53" y2="588.95" stroke="#5b5be8" opacity="0.43"/>
<line x1="183.89" y1="585.66" x2="183.89" y2="583.52" stroke="#4a63f0" opacity="0.69"/>
<line x1="105.54" y1="572.7" x2="105.54" y2="566.78" stroke="#5b5be8" opacity="0.29"/>
<line x1="197.02" y1="577.61" x2="197.02" y2="573.22" stroke="#5b5be8" opacity="0.63"/>
<line x1="158.2" y1="571.47" x2="158.2" y2="566.5" stroke="#4a63f0" opacity="0.45"/>
<line x1="119.71" y1="569.41" x2="119.71" y2="566.45" stroke="#4a63f0" opacity="0.57"/>
<line x1="210.62" y1="581.45" x2="210.62" y2="578.97" stroke="#5a50e6" opacity="0.57"/>
<line x1="58.53" y1="587.38" x2="58.53" y2="583.61" stroke="#3d6cf2" opacity="0.27"/>
<line x1="184.74" y1="599.24" x2="184.74" y2="595.68" stroke="#4f4ae0" opacity="0.29"/>
<line x1="57.04" y1="578.39" x2="57.04" y2="568.41" stroke="#4a63f0" opacity="0.34"/>
<line x1="206.99" y1="593.91" x2="206.99" y2="586.22" stroke="#4f4ae0" opacity="0.72"/>
<line x1="139.52" y1="614.81" x2="139.52" y2="611.63" stroke="#5a50e6" opacity="0.4"/>
<line x1="203.8" y1="585.67" x2="203.8" y2="582.5" stroke="#5a50e6" opacity="0.33"/>
<line x1="116.82" y1="568.61" x2="116.82" y2="563.63" stroke="#5b5be8" opacity="0.41"/>
<line x1="97.26" y1="597.7" x2="97.26" y2="593.18" stroke="#4f4ae0" opacity="0.63"/>
<line x1="159.64" y1="602.06" x2="159.64" y2="594.09" stroke="#5a50e6" opacity="0.65"/>
<line x1="118.39" y1="610.16" x2="118.39" y2="605.73" stroke="#5b5be8" opacity="0.48"/>
<line x1="172.18" y1="577.07" x2="172.18" y2="572.46" stroke="#4440c8" opacity="0.53"/>
<line x1="71.1" y1="582.76" x2="71.1" y2="578.35" stroke="#5b5be8" opacity="0.48"/>
<line x1="160.93" y1="596.54" x2="160.93" y2="592.43" stroke="#4f4ae0" opacity="0.27"/>
<line x1="126.18" y1="603.64" x2="126.18" y2="600.68" stroke="#5b5be8" opacity="0.48"/>
<line x1="74.87" y1="585.02" x2="74.87" y2="578.59" stroke="#5a50e6" opacity="0.32"/>
<line x1="95.6" y1="572.16" x2="95.6" y2="568.97" stroke="#5b5be8" opacity="0.73"/>
<line x1="142.62" y1="603.67" x2="142.62" y2="600.6" stroke="#4f4ae0" opacity="0.64"/>
<line x1="98.41" y1="586.42" x2="98.41" y2="583.3" stroke="#4a63f0" opacity="0.72"/>
<line x1="167.53" y1="602.36" x2="167.53" y2="599.87" stroke="#3d6cf2" opacity="0.61"/>
<line x1="192.77" y1="595.64" x2="192.77" y2="591.75" stroke="#4f4ae0" opacity="0.3"/>
<line x1="87.53" y1="574.65" x2="87.53" y2="570.73" stroke="#5b5be8" opacity="0.51"/>
<line x1="174.87" y1="575.29" x2="174.87" y2="569.1" stroke="#5b5be8" opacity="0.44"/>
<line x1="183.33" y1="573.02" x2="183.33" y2="566.85" stroke="#4f4ae0" opacity="0.63"/>
<line x1="151" y1="559.88" x2="151" y2="557.72" stroke="#3d6cf2" opacity="0.31"/>
<line x1="149.38" y1="582.6" x2="149.38" y2="574.6" stroke="#5b5be8" opacity="0.64"/>
<line x1="85.17" y1="596.91" x2="85.17" y2="593.44" stroke="#5b5be8" opacity="0.28"/>
<line x1="150.83" y1="571.74" x2="150.83" y2="569.57" stroke="#4f4ae0" opacity="0.41"/>
<line x1="178.74" y1="596.1" x2="178.74" y2="592.57" stroke="#4440c8" opacity="0.63"/>
<line x1="113.32" y1="589.22" x2="113.32" y2="587.1" stroke="#3d6cf2" opacity="0.31"/>
<line x1="145.17" y1="571.47" x2="145.17" y2="565.51" stroke="#4440c8" opacity="0.36"/>
<line x1="146.69" y1="566.69" x2="146.69" y2="561.4" stroke="#4a63f0" opacity="0.62"/>
<line x1="70.45" y1="582.42" x2="70.45" y2="576.13" stroke="#3d6cf2" opacity="0.42"/>
<line x1="88.01" y1="585.02" x2="88.01" y2="581.18" stroke="#4a63f0" opacity="0.74"/>
<line x1="127.23" y1="596.94" x2="127.23" y2="591.79" stroke="#5b5be8" opacity="0.34"/>
<line x1="168.57" y1="575.02" x2="168.57" y2="569.2" stroke="#4f4ae0" opacity="0.64"/>
<line x1="63.63" y1="591.48" x2="63.63" y2="589.79" stroke="#4a63f0" opacity="0.67"/>
<line x1="139.74" y1="605.84" x2="139.74" y2="602.51" stroke="#5a50e6" opacity="0.45"/>
<line x1="170.68" y1="566.56" x2="170.68" y2="564.99" stroke="#5b5be8" opacity="0.63"/>
<line x1="192.13" y1="577.92" x2="192.13" y2="572.33" stroke="#4f4ae0" opacity="0.75"/>
<line x1="188.22" y1="588.4" x2="188.22" y2="582.83" stroke="#5b5be8" opacity="0.41"/>
<line x1="110.73" y1="590.52" x2="110.73" y2="587.82" stroke="#5b5be8" opacity="0.66"/>
<line x1="164.67" y1="571.67" x2="164.67" y2="565.93" stroke="#4a63f0" opacity="0.68"/>
<line x1="221.93" y1="593.38" x2="221.93" y2="589.16" stroke="#3d6cf2" opacity="0.74"/>
<line x1="174.6" y1="604.67" x2="174.6" y2="600.86" stroke="#4a63f0" opacity="0.61"/>
<line x1="75.9" y1="594.71" x2="75.9" y2="592.62" stroke="#4f4ae0" opacity="0.36"/>
<line x1="50.67" y1="583.87" x2="50.67" y2="578.66" stroke="#4440c8" opacity="0.57"/>
<line x1="119.21" y1="580.98" x2="119.21" y2="577.59" stroke="#3d6cf2" opacity="0.49"/>
<line x1="200.95" y1="595.36" x2="200.95" y2="592.3" stroke="#3d6cf2" opacity="0.71"/>
<line x1="204.97" y1="576.66" x2="204.97" y2="565.68" stroke="#4440c8" opacity="0.46"/>
<line x1="191.37" y1="596.61" x2="191.37" y2="594.07" stroke="#5a50e6" opacity="0.71"/>
<line x1="194.62" y1="582.71" x2="194.62" y2="577.94" stroke="#4440c8" opacity="0.55"/>
<line x1="157.76" y1="578.53" x2="157.76" y2="574.89" stroke="#3d6cf2" opacity="0.4"/>
<line x1="168.27" y1="580.81" x2="168.27" y2="578.8" stroke="#3d6cf2" opacity="0.65"/>
<line x1="158.05" y1="565.87" x2="158.05" y2="559.41" stroke="#4440c8" opacity="0.57"/>
<line x1="91.59" y1="574.04" x2="91.59" y2="570.91" stroke="#3d6cf2" opacity="0.62"/>
<line x1="116.33" y1="574.36" x2="116.33" y2="570.36" stroke="#4a63f0" opacity="0.55"/>
<line x1="166.16" y1="573.23" x2="166.16" y2="567.23" stroke="#4f4ae0" opacity="0.71"/>
<line x1="173.14" y1="581.73" x2="173.14" y2="575.88" stroke="#4f4ae0" opacity="0.35"/>
<line x1="96.75" y1="569.6" x2="96.75" y2="563.6" stroke="#4a63f0" opacity="0.51"/>
<line x1="183.78" y1="601.58" x2="183.78" y2="599.36" stroke="#4f4ae0" opacity="0.46"/>
<line x1="119.78" y1="598.01" x2="119.78" y2="595.13" stroke="#3d6cf2" opacity="0.56"/>
<line x1="130.84" y1="562.92" x2="130.84" y2="557.4" stroke="#4a63f0" opacity="0.62"/>
<line x1="87.11" y1="584.61" x2="87.11" y2="580.53" stroke="#3d6cf2" opacity="0.34"/>
<line x1="226.55" y1="587.37" x2="226.55" y2="582.26" stroke="#4440c8" opacity="0.61"/>
<line x1="130.92" y1="601.64" x2="130.92" y2="595.95" stroke="#4f4ae0" opacity="0.49"/>
<line x1="137.24" y1="558.23" x2="137.24" y2="552.39" stroke="#3d6cf2" opacity="0.59"/>
<line x1="102.33" y1="575.21" x2="102.33" y2="570.52" stroke="#5a50e6" opacity="0.45"/>
<line x1="215.59" y1="581.2" x2="215.59" y2="578.56" stroke="#5a50e6" opacity="0.56"/>
<line x1="82.12" y1="589.75" x2="82.12" y2="587.16" stroke="#4a63f0" opacity="0.54"/>
<line x1="81.84" y1="579.28" x2="81.84" y2="575.69" stroke="#3d6cf2" opacity="0.49"/>
<line x1="174.62" y1="604.58" x2="174.62" y2="602.09" stroke="#4a63f0" opacity="0.5"/>
<line x1="97.86" y1="581.69" x2="97.86" y2="573.27" stroke="#4f4ae0" opacity="0.43"/>
<line x1="114.87" y1="588.79" x2="114.87" y2="583.84" stroke="#4a63f0" opacity="0.48"/>
<line x1="173.72" y1="598.3" x2="173.72" y2="596.59" stroke="#4440c8" opacity="0.43"/>
<line x1="198.67" y1="580.01" x2="198.67" y2="576.5" stroke="#5a50e6" opacity="0.33"/>
<line x1="180.58" y1="585.84" x2="180.58" y2="584.32" stroke="#5b5be8" opacity="0.43"/>
<line x1="203.32" y1="591.93" x2="203.32" y2="587.48" stroke="#5a50e6" opacity="0.65"/>
<line x1="114.23" y1="573.09" x2="114.23" y2="568.34" stroke="#4a63f0" opacity="0.7"/>
<line x1="110.46" y1="612.05" x2="110.46" y2="608.93" stroke="#4440c8" opacity="0.39"/>
<line x1="84.99" y1="601.92" x2="84.99" y2="597.68" stroke="#5a50e6" opacity="0.57"/>
<line x1="117.21" y1="591.27" x2="117.21" y2="587.83" stroke="#5a50e6" opacity="0.26"/>
<line x1="115.09" y1="610.87" x2="115.09" y2="605.31" stroke="#4f4ae0" opacity="0.39"/>
<line x1="160.94" y1="571.84" x2="160.94" y2="569.54" stroke="#4f4ae0" opacity="0.29"/>
<line x1="140.3" y1="569.74" x2="140.3" y2="567.54" stroke="#4a63f0" opacity="0.28"/>
<line x1="144.71" y1="571.84" x2="144.71" y2="566.74" stroke="#4a63f0" opacity="0.53"/>
<line x1="128.46" y1="614.73" x2="128.46" y2="608.61" stroke="#4a63f0" opacity="0.27"/>
<line x1="164.95" y1="580.55" x2="164.95" y2="576.94" stroke="#5b5be8" opacity="0.63"/>
<line x1="202.29" y1="577.16" x2="202.29" y2="570.47" stroke="#4f4ae0" opacity="0.27"/>
<line x1="145.86" y1="575.33" x2="145.86" y2="572.99" stroke="#4f4ae0" opacity="0.34"/>
<line x1="168.2" y1="586.37" x2="168.2" y2="580.03" stroke="#4440c8" opacity="0.41"/>
<line x1="124.33" y1="585.48" x2="124.33" y2="576.57" stroke="#5b5be8" opacity="0.6"/>
<line x1="72.88" y1="584.5" x2="72.88" y2="582.24" stroke="#5b5be8" opacity="0.58"/>
<line x1="147.91" y1="581.77" x2="147.91" y2="575.74" stroke="#3d6cf2" opacity="0.65"/>
<line x1="139.69" y1="591.49" x2="139.69" y2="585.59" stroke="#5a50e6" opacity="0.58"/>
<line x1="98.85" y1="597.87" x2="98.85" y2="596.13" stroke="#3d6cf2" opacity="0.32"/>
<line x1="96.39" y1="578.64" x2="96.39" y2="568.68" stroke="#5b5be8" opacity="0.51"/>
<line x1="129.35" y1="560.42" x2="129.35" y2="556.85" stroke="#3d6cf2" opacity="0.44"/>
<line x1="133.76" y1="598.11" x2="133.76" y2="594.21" stroke="#3d6cf2" opacity="0.33"/>
<line x1="137.79" y1="610.82" x2="137.79" y2="604.35" stroke="#5b5be8" opacity="0.64"/>
<line x1="223.73" y1="585.05" x2="223.73" y2="580.11" stroke="#3d6cf2" opacity="0.38"/>
<line x1="108.92" y1="601.24" x2="108.92" y2="595.45" stroke="#5a50e6" opacity="0.68"/>
<line x1="180.89" y1="605.61" x2="180.89" y2="594.97" stroke="#4440c8" opacity="0.63"/>
<line x1="192.16" y1="578.29" x2="192.16" y2="573.85" stroke="#4f4ae0" opacity="0.29"/>
<line x1="117.19" y1="608.99" x2="117.19" y2="606.11" stroke="#4440c8" opacity="0.47"/>
<line x1="130.48" y1="602.69" x2="130.48" y2="597.53" stroke="#4f4ae0" opacity="0.27"/>
<line x1="144.95" y1="605.45" x2="144.95" y2="603.62" stroke="#5a50e6" opacity="0.35"/>
<line x1="139.39" y1="587.57" x2="139.39" y2="583.43" stroke="#5b5be8" opacity="0.65"/>
<line x1="156.39" y1="598.13" x2="156.39" y2="592.31" stroke="#5b5be8" opacity="0.49"/>
<line x1="133.68" y1="566.01" x2="133.68" y2="563.79" stroke="#4f4ae0" opacity="0.55"/>
<line x1="198.25" y1="593.98" x2="198.25" y2="587.79" stroke="#4440c8" opacity="0.68"/>
<line x1="118.1" y1="578.23" x2="118.1" y2="569.5" stroke="#4f4ae0" opacity="0.68"/>
<line x1="119.54" y1="615.26" x2="119.54" y2="611.44" stroke="#5b5be8" opacity="0.29"/>
<line x1="159.42" y1="569.78" x2="159.42" y2="565.23" stroke="#5b5be8" opacity="0.66"/>
<line x1="68.71" y1="582.29" x2="68.71" y2="578.29" stroke="#4a63f0" opacity="0.7"/>
<line x1="155.46" y1="566.76" x2="155.46" y2="564.14" stroke="#4f4ae0" opacity="0.36"/>
<line x1="187.58" y1="599.09" x2="187.58" y2="592.73" stroke="#5b5be8" opacity="0.44"/>
<line x1="203.7" y1="578.44" x2="203.7" y2="575.88" stroke="#4440c8" opacity="0.65"/>
<line x1="182.98" y1="586.99" x2="182.98" y2="584.33" stroke="#3d6cf2" opacity="0.73"/>
<line x1="136.77" y1="612.74" x2="136.77" y2="607.82" stroke="#4440c8" opacity="0.69"/>
<line x1="221.39" y1="591.16" x2="221.39" y2="587.32" stroke="#3d6cf2" opacity="0.43"/>
<line x1="173.65" y1="581.76" x2="173.65" y2="577.31" stroke="#4f4ae0" opacity="0.43"/>
<line x1="234.92" y1="590.44" x2="234.92" y2="588.24" stroke="#5a50e6" opacity="0.44"/>
<line x1="121.28" y1="594.42" x2="121.28" y2="592.77" stroke="#4f4ae0" opacity="0.73"/>
<line x1="119.56" y1="589.4" x2="119.56" y2="584.01" stroke="#5b5be8" opacity="0.43"/>
<line x1="193.82" y1="600.07" x2="193.82" y2="595.85" stroke="#5b5be8" opacity="0.34"/>
<line x1="75.26" y1="584.68" x2="75.26" y2="581.72" stroke="#5b5be8" opacity="0.74"/>
<line x1="43.43" y1="585.3" x2="43.43" y2="581.03" stroke="#3d6cf2" opacity="0.58"/>
<line x1="130.61" y1="604.24" x2="130.61" y2="602.18" stroke="#4f4ae0" opacity="0.75"/>
<line x1="179" y1="587.75" x2="179" y2="581.25" stroke="#4440c8" opacity="0.29"/>
<line x1="164.88" y1="567.8" x2="164.88" y2="562.83" stroke="#5a50e6" opacity="0.7"/>
<line x1="184.01" y1="581.27" x2="184.01" y2="579.71" stroke="#4a63f0" opacity="0.7"/>
<line x1="80.76" y1="585.43" x2="80.76" y2="583.32" stroke="#5b5be8" opacity="0.51"/>
<line x1="176.91" y1="567.34" x2="176.91" y2="563.81" stroke="#4f4ae0" opacity="0.55"/>
<line x1="147.34" y1="596.79" x2="147.34" y2="591.14" stroke="#3d6cf2" opacity="0.32"/>
<line x1="145.3" y1="577.62" x2="145.3" y2="571.35" stroke="#4440c8" opacity="0.56"/>
<line x1="112.99" y1="602.74" x2="112.99" y2="597.61" stroke="#5a50e6" opacity="0.71"/>
<line x1="132.15" y1="581.24" x2="132.15" y2="578.93" stroke="#4f4ae0" opacity="0.54"/>
<line x1="125.9" y1="608.22" x2="125.9" y2="604.21" stroke="#3d6cf2" opacity="0.5"/>
<line x1="164.26" y1="578.74" x2="164.26" y2="573.6" stroke="#4a63f0" opacity="0.37"/>
<line x1="131.47" y1="604.24" x2="131.47" y2="598.62" stroke="#4f4ae0" opacity="0.67"/>
<line x1="138.3" y1="592.63" x2="138.3" y2="583.74" stroke="#5b5be8" opacity="0.75"/>
<line x1="155.12" y1="556.56" x2="155.12" y2="548.87" stroke="#4a63f0" opacity="0.35"/>
<line x1="149.04" y1="570.52" x2="149.04" y2="565.25" stroke="#4f4ae0" opacity="0.46"/>
<line x1="123.08" y1="579.86" x2="123.08" y2="573.68" stroke="#4a63f0" opacity="0.34"/>
<line x1="182.47" y1="572.35" x2="182.47" y2="570.32" stroke="#4a63f0" opacity="0.54"/>
<line x1="195.03" y1="573.11" x2="195.03" y2="567.94" stroke="#5b5be8" opacity="0.65"/>
<line x1="66.37" y1="592.6" x2="66.37" y2="590.86" stroke="#5b5be8" opacity="0.61"/>
<line x1="101.17" y1="597.25" x2="101.17" y2="592.4" stroke="#5b5be8" opacity="0.48"/>
<line x1="111.83" y1="578.63" x2="111.83" y2="573.63" stroke="#4f4ae0" opacity="0.35"/>
<line x1="123.83" y1="566.65" x2="123.83" y2="560.18" stroke="#5a50e6" opacity="0.58"/>
<line x1="70.17" y1="594.33" x2="70.17" y2="590.74" stroke="#4f4ae0" opacity="0.33"/>
<line x1="105.6" y1="570.17" x2="105.6" y2="563.72" stroke="#4f4ae0" opacity="0.44"/>
<line x1="126" y1="601.09" x2="126" y2="599.09" stroke="#3d6cf2" opacity="0.65"/>
<line x1="170.37" y1="567.11" x2="170.37" y2="561.53" stroke="#4a63f0" opacity="0.28"/>
<line x1="151.55" y1="580.37" x2="151.55" y2="578.75" stroke="#5b5be8" opacity="0.27"/>
<line x1="192.41" y1="586.6" x2="192.41" y2="584.54" stroke="#4f4ae0" opacity="0.36"/>
<line x1="151.45" y1="610.57" x2="151.45" y2="608.21" stroke="#4440c8" opacity="0.61"/>
<line x1="174.16" y1="565.28" x2="174.16" y2="556.59" stroke="#4f4ae0" opacity="0.52"/>
<line x1="101.86" y1="592.36" x2="101.86" y2="586.32" stroke="#5a50e6" opacity="0.61"/>
<line x1="90.78" y1="576.5" x2="90.78" y2="566.64" stroke="#4f4ae0" opacity="0.69"/>
<line x1="79.42" y1="577.5" x2="79.42" y2="573.05" stroke="#5b5be8" opacity="0.64"/>
<line x1="181.07" y1="598.27" x2="181.07" y2="591.92" stroke="#3d6cf2" opacity="0.52"/>
<line x1="87.71" y1="588.83" x2="87.71" y2="583.7" stroke="#5a50e6" opacity="0.51"/>
<line x1="114.31" y1="598.55" x2="114.31" y2="595.66" stroke="#3d6cf2" opacity="0.26"/>
<line x1="143.69" y1="581.88" x2="143.69" y2="580.17" stroke="#4f4ae0" opacity="0.64"/>
<line x1="189.09" y1="586.74" x2="189.09" y2="582.66" stroke="#3d6cf2" opacity="0.52"/>
<line x1="118.57" y1="594.89" x2="118.57" y2="584.24" stroke="#5a50e6" opacity="0.49"/>
<line x1="125.84" y1="604.12" x2="125.84" y2="600.36" stroke="#5a50e6" opacity="0.48"/>
<line x1="85.88" y1="576.01" x2="85.88" y2="571.24" stroke="#4440c8" opacity="0.58"/>
<line x1="169.81" y1="589.92" x2="169.81" y2="584.96" stroke="#4f4ae0" opacity="0.42"/>
<line x1="123.38" y1="585.76" x2="123.38" y2="581.22" stroke="#5a50e6" opacity="0.65"/>
<line x1="95.82" y1="581.98" x2="95.82" y2="579.94" stroke="#5b5be8" opacity="0.34"/>
<line x1="68.4" y1="581.3" x2="68.4" y2="570.32" stroke="#4a63f0" opacity="0.7"/>
<line x1="211.94" y1="589.62" x2="211.94" y2="585.92" stroke="#5a50e6" opacity="0.33"/>
<line x1="175.7" y1="586.4" x2="175.7" y2="578.14" stroke="#5b5be8" opacity="0.68"/>
<line x1="164.36" y1="570.94" x2="164.36" y2="564.98" stroke="#4a63f0" opacity="0.33"/>
<line x1="164.79" y1="597.55" x2="164.79" y2="595.49" stroke="#3d6cf2" opacity="0.45"/>
<line x1="118.73" y1="597.87" x2="118.73" y2="596.27" stroke="#4440c8" opacity="0.64"/>
<line x1="114.83" y1="607.14" x2="114.83" y2="604.03" stroke="#4f4ae0" opacity="0.56"/>
<line x1="55.61" y1="589.58" x2="55.61" y2="584.71" stroke="#5a50e6" opacity="0.3"/>
<line x1="197.34" y1="584.95" x2="197.34" y2="582.25" stroke="#3d6cf2" opacity="0.69"/>
<line x1="113.4" y1="571.22" x2="113.4" y2="567.14" stroke="#4f4ae0" opacity="0.51"/>
<line x1="72.02" y1="581.6" x2="72.02" y2="578.54" stroke="#5a50e6" opacity="0.26"/>
<line x1="95.15" y1="582.09" x2="95.15" y2="578.59" stroke="#4440c8" opacity="0.37"/>
<line x1="132.12" y1="594.06" x2="132.12" y2="592.37" stroke="#5a50e6" opacity="0.38"/>
<line x1="160.6" y1="598.12" x2="160.6" y2="586.68" stroke="#4440c8" opacity="0.48"/>
<line x1="109.81" y1="600.32" x2="109.81" y2="595.82" stroke="#4440c8" opacity="0.33"/>
<line x1="234.29" y1="590.39" x2="234.29" y2="585.09" stroke="#4f4ae0" opacity="0.41"/>
<line x1="193.74" y1="595.47" x2="193.74" y2="593.63" stroke="#4a63f0" opacity="0.43"/>
<line x1="133.54" y1="584.58" x2="133.54" y2="581.64" stroke="#3d6cf2" opacity="0.43"/>
<line x1="111.22" y1="606.7" x2="111.22" y2="602.56" stroke="#5a50e6" opacity="0.68"/>
<line x1="156.57" y1="565.68" x2="156.57" y2="562.39" stroke="#3d6cf2" opacity="0.53"/>
<line x1="148.84" y1="571.41" x2="148.84" y2="566.82" stroke="#4f4ae0" opacity="0.43"/>
<line x1="197.79" y1="601.14" x2="197.79" y2="598.95" stroke="#4f4ae0" opacity="0.42"/>
<line x1="184.12" y1="571.09" x2="184.12" y2="567.78" stroke="#4a63f0" opacity="0.75"/>
<line x1="115.52" y1="575.21" x2="115.52" y2="571.9" stroke="#4a63f0" opacity="0.64"/>
<line x1="173.19" y1="576.16" x2="173.19" y2="572.78" stroke="#4f4ae0" opacity="0.44"/>
<line x1="152.13" y1="606.8" x2="152.13" y2="598.29" stroke="#3d6cf2" opacity="0.49"/>
<line x1="74.06" y1="585.53" x2="74.06" y2="580.8" stroke="#5a50e6" opacity="0.66"/>
<line x1="162.12" y1="581.54" x2="162.12" y2="576.19" stroke="#5a50e6" opacity="0.4"/>
<line x1="166.65" y1="582.33" x2="166.65" y2="577.17" stroke="#5a50e6" opacity="0.4"/>
<line x1="159.73" y1="592.58" x2="159.73" y2="588" stroke="#3d6cf2" opacity="0.67"/>
<line x1="181.88" y1="586.66" x2="181.88" y2="583.56" stroke="#5a50e6" opacity="0.5"/>
<line x1="104.18" y1="598.82" x2="104.18" y2="597.02" stroke="#4f4ae0" opacity="0.56"/>
<line x1="147.49" y1="557.53" x2="147.49" y2="551.17" stroke="#5a50e6" opacity="0.65"/>
<line x1="147.51" y1="559.71" x2="147.51" y2="548.47" stroke="#3d6cf2" opacity="0.7"/>
<line x1="171.47" y1="575.57" x2="171.47" y2="570.63" stroke="#4a63f0" opacity="0.35"/>
<line x1="155.2" y1="606.69" x2="155.2" y2="605.06" stroke="#4f4ae0" opacity="0.7"/>
<line x1="121.76" y1="563.31" x2="121.76" y2="561.56" stroke="#5b5be8" opacity="0.39"/>
<line x1="222.6" y1="591.17" x2="222.6" y2="585.32" stroke="#4440c8" opacity="0.55"/>
<line x1="186.35" y1="603.19" x2="186.35" y2="596.66" stroke="#5a50e6" opacity="0.36"/>
<line x1="151.63" y1="559.94" x2="151.63" y2="555.68" stroke="#4a63f0" opacity="0.44"/>
<line x1="128.13" y1="592.44" x2="128.13" y2="586.9" stroke="#4a63f0" opacity="0.39"/>
<line x1="198.54" y1="586.82" x2="198.54" y2="584.08" stroke="#4440c8" opacity="0.27"/>
<line x1="95.84" y1="574.05" x2="95.84" y2="568.59" stroke="#5a50e6" opacity="0.5"/>
<line x1="126.06" y1="562.48" x2="126.06" y2="557.26" stroke="#5a50e6" opacity="0.45"/>
<line x1="108.1" y1="574.83" x2="108.1" y2="568.77" stroke="#4a63f0" opacity="0.51"/>
<line x1="156.41" y1="562.45" x2="156.41" y2="558.59" stroke="#4a63f0" opacity="0.58"/>
<line x1="124.61" y1="575.96" x2="124.61" y2="569.95" stroke="#5a50e6" opacity="0.57"/>
<line x1="122.81" y1="590.19" x2="122.81" y2="585.8" stroke="#4440c8" opacity="0.65"/>
<line x1="148.7" y1="606.76" x2="148.7" y2="601.29" stroke="#3d6cf2" opacity="0.55"/>
<line x1="106.44" y1="602.75" x2="106.44" y2="597.36" stroke="#4f4ae0" opacity="0.64"/>
<line x1="190.78" y1="584.81" x2="190.78" y2="581.13" stroke="#4440c8" opacity="0.34"/>
<line x1="93.12" y1="575.06" x2="93.12" y2="571.01" stroke="#4a63f0" opacity="0.57"/>
<line x1="107.05" y1="591.26" x2="107.05" y2="589.27" stroke="#4a63f0" opacity="0.33"/>
<line x1="110.76" y1="599.33" x2="110.76" y2="594.61" stroke="#4f4ae0" opacity="0.26"/>
<line x1="141.84" y1="611.87" x2="141.84" y2="610.18" stroke="#3d6cf2" opacity="0.3"/>
<line x1="173.35" y1="574.83" x2="173.35" y2="568.4" stroke="#3d6cf2" opacity="0.36"/>
<line x1="162.17" y1="585.73" x2="162.17" y2="582.37" stroke="#4f4ae0" opacity="0.74"/>
<line x1="86.02" y1="580.19" x2="86.02" y2="577.43" stroke="#4f4ae0" opacity="0.28"/>
<line x1="190.98" y1="578.53" x2="190.98" y2="576.05" stroke="#5a50e6" opacity="0.38"/>
<line x1="100.8" y1="572.3" x2="100.8" y2="569.55" stroke="#4440c8" opacity="0.36"/>
<line x1="159.59" y1="566.88" x2="159.59" y2="563.31" stroke="#4f4ae0" opacity="0.31"/>
<line x1="155.15" y1="597.91" x2="155.15" y2="588.96" stroke="#4a63f0" opacity="0.35"/>
<line x1="127.34" y1="562.76" x2="127.34" y2="559.2" stroke="#4440c8" opacity="0.36"/>
<line x1="145.07" y1="580.84" x2="145.07" y2="575.3" stroke="#5b5be8" opacity="0.47"/>
<line x1="200.59" y1="587.71" x2="200.59" y2="583.83" stroke="#4440c8" opacity="0.7"/>
<line x1="133.57" y1="607.49" x2="133.57" y2="605.75" stroke="#3d6cf2" opacity="0.7"/>
<line x1="183.38" y1="605.38" x2="183.38" y2="603.28" stroke="#4440c8" opacity="0.74"/>
<line x1="110.26" y1="565.63" x2="110.26" y2="560.97" stroke="#4440c8" opacity="0.66"/>
<line x1="164.1" y1="603.07" x2="164.1" y2="598.39" stroke="#4a63f0" opacity="0.57"/>
<line x1="170.7" y1="588.56" x2="170.7" y2="586.95" stroke="#5a50e6" opacity="0.51"/>
<line x1="64.91" y1="589.81" x2="64.91" y2="583.07" stroke="#4f4ae0" opacity="0.65"/>
<line x1="126.72" y1="578.79" x2="126.72" y2="573.25" stroke="#5b5be8" opacity="0.57"/>
<line x1="159.17" y1="611.42" x2="159.17" y2="606.03" stroke="#5b5be8" opacity="0.34"/>
<line x1="129.47" y1="583.38" x2="129.47" y2="579.8" stroke="#3d6cf2" opacity="0.48"/>
<line x1="130.98" y1="588.44" x2="130.98" y2="586.4" stroke="#4440c8" opacity="0.73"/>
<line x1="139.75" y1="576.49" x2="139.75" y2="570.83" stroke="#3d6cf2" opacity="0.39"/>
<line x1="51.16" y1="586.04" x2="51.16" y2="582.29" stroke="#4a63f0" opacity="0.33"/>
<line x1="141.52" y1="580.07" x2="141.52" y2="576.76" stroke="#4a63f0" opacity="0.46"/>
<line x1="223.3" y1="592.08" x2="223.3" y2="589.39" stroke="#4440c8" opacity="0.29"/>
<line x1="167.56" y1="586.81" x2="167.56" y2="581.36" stroke="#4440c8" opacity="0.61"/>
<line x1="149" y1="558.92" x2="149" y2="556.87" stroke="#5b5be8" opacity="0.66"/>
<line x1="150.35" y1="602.71" x2="150.35" y2="597.21" stroke="#4f4ae0" opacity="0.33"/>
<line x1="65.69" y1="589.08" x2="65.69" y2="587.13" stroke="#3d6cf2" opacity="0.29"/>
<line x1="174.2" y1="566.01" x2="174.2" y2="562.31" stroke="#5a50e6" opacity="0.67"/>
<line x1="126.54" y1="563.56" x2="126.54" y2="561.57" stroke="#4440c8" opacity="0.4"/>
<line x1="54.69" y1="582.14" x2="54.69" y2="578.5" stroke="#4a63f0" opacity="0.54"/>
<line x1="132.45" y1="601.88" x2="132.45" y2="597.89" stroke="#4440c8" opacity="0.26"/>
<line x1="114.55" y1="590.72" x2="114.55" y2="586.46" stroke="#3d6cf2" opacity="0.29"/>
<line x1="164.73" y1="598.57" x2="164.73" y2="595.92" stroke="#3d6cf2" opacity="0.67"/>
<line x1="97.96" y1="585.1" x2="97.96" y2="582.37" stroke="#3d6cf2" opacity="0.39"/>
<line x1="226.5" y1="593.79" x2="226.5" y2="587.34" stroke="#5a50e6" opacity="0.72"/>
<line x1="204.97" y1="591.8" x2="204.97" y2="589.63" stroke="#4a63f0" opacity="0.65"/>
<line x1="95.12" y1="601.56" x2="95.12" y2="595.74" stroke="#5a50e6" opacity="0.59"/>
<line x1="164.92" y1="606.1" x2="164.92" y2="603.73" stroke="#5a50e6" opacity="0.58"/>
<line x1="100.82" y1="573.37" x2="100.82" y2="568.62" stroke="#4f4ae0" opacity="0.7"/>
<line x1="166.62" y1="607.36" x2="166.62" y2="602.43" stroke="#5b5be8" opacity="0.6"/>
<line x1="177.22" y1="591.87" x2="177.22" y2="588.36" stroke="#3d6cf2" opacity="0.45"/>
</g>
<line x1="87.41" y1="593.59" x2="87.41" y2="590.59" stroke="#33209a" stroke-width="0.9" opacity="0.5"/>
<line x1="120.92" y1="592.43" x2="120.92" y2="589.43" stroke="#33209a" stroke-width="0.9" opacity="0.5"/>
<line x1="90" y1="602.72" x2="90" y2="599.72" stroke="#33209a" stroke-width="0.9" opacity="0.5"/>
<line x1="122.77" y1="566.55" x2="122.77" y2="563.55" stroke="#33209a" stroke-width="0.9" opacity="0.5"/>
<line x1="107.89" y1="569.93" x2="107.89" y2="566.93" stroke="#33209a" stroke-width="0.9" opacity="0.5"/>
<line x1="93.39" y1="579.23" x2="93.39" y2="576.23" stroke="#33209a" stroke-width="0.9" opacity="0.5"/>
<line x1="208.81" y1="586.42" x2="208.81" y2="583.42" stroke="#33209a" stroke-width="0.9" opacity="0.5"/>
<line x1="115.62" y1="590.62" x2="115.62" y2="587.62" stroke="#33209a" stroke-width="0.9" opacity="0.5"/>
<line x1="203.5" y1="577.11" x2="203.5" y2="574.11" stroke="#33209a" stroke-width="0.9" opacity="0.5"/>
<line x1="136.56" y1="610.84" x2="136.56" y2="607.84" stroke="#33209a" stroke-width="0.9" opacity="0.5"/>
<line x1="105.29" y1="598.31" x2="105.29" y2="595.31" stroke="#33209a" stroke-width="0.9" opacity="0.5"/>
<line x1="147.56" y1="560.78" x2="147.56" y2="557.78" stroke="#33209a" stroke-width="0.9" opacity="0.5"/>
<line x1="138.76" y1="589.04" x2="138.76" y2="586.04" stroke="#33209a" stroke-width="0.9" opacity="0.5"/>
<line x1="173.7" y1="600.09" x2="173.7" y2="597.09" stroke="#33209a" stroke-width="0.9" opacity="0.5"/>
<line x1="112.97" y1="572.64" x2="112.97" y2="569.64" stroke="#33209a" stroke-width="0.9" opacity="0.5"/>
<line x1="217.07" y1="596.04" x2="217.07" y2="593.04" stroke="#33209a" stroke-width="0.9" opacity="0.5"/>
<line x1="155.74" y1="610.79" x2="155.74" y2="607.79" stroke="#33209a" stroke-width="0.9" opacity="0.5"/>
<line x1="67.67" y1="580.31" x2="67.67" y2="577.31" stroke="#33209a" stroke-width="0.9" opacity="0.5"/>
<line x1="227.56" y1="589.87" x2="227.56" y2="586.87" stroke="#33209a" stroke-width="0.9" opacity="0.5"/>
<line x1="109.95" y1="577.91" x2="109.95" y2="574.91" stroke="#33209a" stroke-width="0.9" opacity="0.5"/>
<line x1="148.53" y1="581.32" x2="148.53" y2="578.32" stroke="#33209a" stroke-width="0.9" opacity="0.5"/>
<line x1="116.97" y1="609.59" x2="116.97" y2="606.59" stroke="#33209a" stroke-width="0.9" opacity="0.5"/>
<line x1="166.78" y1="606.57" x2="166.78" y2="603.57" stroke="#33209a" stroke-width="0.9" opacity="0.5"/>
<line x1="126.47" y1="575" x2="126.47" y2="572" stroke="#33209a" stroke-width="0.9" opacity="0.5"/>
<line x1="125.94" y1="588.21" x2="125.94" y2="585.21" stroke="#33209a" stroke-width="0.9" opacity="0.5"/>
<line x1="105.98" y1="605.27" x2="105.98" y2="602.27" stroke="#33209a" stroke-width="0.9" opacity="0.5"/>
<line x1="100.85" y1="593.66" x2="100.85" y2="590.66" stroke="#33209a" stroke-width="0.9" opacity="0.5"/>
<line x1="108.11" y1="568.84" x2="108.11" y2="565.84" stroke="#33209a" stroke-width="0.9" opacity="0.5"/>
<line x1="136.85" y1="560.1" x2="136.85" y2="557.1" stroke="#33209a" stroke-width="0.9" opacity="0.5"/>
<line x1="172.5" y1="594.47" x2="172.5" y2="591.47" stroke="#33209a" stroke-width="0.9" opacity="0.5"/>
<line x1="159.99" y1="589.57" x2="159.99" y2="586.57" stroke="#33209a" stroke-width="0.9" opacity="0.5"/>
<line x1="170.87" y1="601.95" x2="170.87" y2="598.95" stroke="#33209a" stroke-width="0.9" opacity="0.5"/>
<line x1="95.63" y1="577.14" x2="95.63" y2="574.14" stroke="#33209a" stroke-width="0.9" opacity="0.5"/>
<line x1="169.23" y1="602.99" x2="169.23" y2="599.99" stroke="#33209a" stroke-width="0.9" opacity="0.5"/>
<line x1="85.74" y1="591.36" x2="85.74" y2="588.36" stroke="#33209a" stroke-width="0.9" opacity="0.5"/>
<line x1="158.28" y1="558.2" x2="158.28" y2="555.2" stroke="#33209a" stroke-width="0.9" opacity="0.5"/>
<line x1="182.8" y1="593.17" x2="182.8" y2="590.17" stroke="#33209a" stroke-width="0.9" opacity="0.5"/>
<line x1="116.43" y1="583.14" x2="116.43" y2="580.14" stroke="#33209a" stroke-width="0.9" opacity="0.5"/>
<line x1="87.21" y1="582.03" x2="87.21" y2="579.03" stroke="#33209a" stroke-width="0.9" opacity="0.5"/>
<line x1="102.45" y1="607.1" x2="102.45" y2="604.1" stroke="#33209a" stroke-width="0.9" opacity="0.5"/>
<line x1="139.47" y1="587.14" x2="139.47" y2="584.14" stroke="#33209a" stroke-width="0.9" opacity="0.5"/>
<line x1="69.36" y1="577.29" x2="69.36" y2="574.29" stroke="#33209a" stroke-width="0.9" opacity="0.5"/>
<line x1="211.36" y1="583.55" x2="211.36" y2="580.55" stroke="#33209a" stroke-width="0.9" opacity="0.5"/>
<line x1="91.29" y1="584.93" x2="91.29" y2="581.93" stroke="#33209a" stroke-width="0.9" opacity="0.5"/>
<line x1="135.17" y1="584.03" x2="135.17" y2="581.03" stroke="#33209a" stroke-width="0.9" opacity="0.5"/>
<line x1="130.33" y1="586.38" x2="130.33" y2="583.38" stroke="#33209a" stroke-width="0.9" opacity="0.5"/>
<line x1="193.04" y1="577.67" x2="193.04" y2="574.67" stroke="#33209a" stroke-width="0.9" opacity="0.5"/>
<line x1="117.74" y1="603.63" x2="117.74" y2="600.63" stroke="#33209a" stroke-width="0.9" opacity="0.5"/>
<line x1="132.5" y1="566" x2="132.5" y2="563" stroke="#33209a" stroke-width="0.9" opacity="0.5"/>
<line x1="178.14" y1="587.93" x2="178.14" y2="584.93" stroke="#33209a" stroke-width="0.9" opacity="0.5"/>
<line x1="79.29" y1="584.93" x2="79.29" y2="581.93" stroke="#33209a" stroke-width="0.9" opacity="0.5"/>
<line x1="117.34" y1="602.48" x2="117.34" y2="599.48" stroke="#33209a" stroke-width="0.9" opacity="0.5"/>
<line x1="150.18" y1="574.58" x2="150.18" y2="571.58" stroke="#33209a" stroke-width="0.9" opacity="0.5"/>
<line x1="84.59" y1="599.7" x2="84.59" y2="596.7" stroke="#33209a" stroke-width="0.9" opacity="0.5"/>
<line x1="204.69" y1="590.76" x2="204.69" y2="587.76" stroke="#33209a" stroke-width="0.9" opacity="0.5"/>
<line x1="93.28" y1="572.5" x2="93.28" y2="569.5" stroke="#33209a" stroke-width="0.9" opacity="0.5"/>
<line x1="46.12" y1="584.8" x2="46.12" y2="581.8" stroke="#33209a" stroke-width="0.9" opacity="0.5"/>
<line x1="200.64" y1="594.49" x2="200.64" y2="591.49" stroke="#33209a" stroke-width="0.9" opacity="0.5"/>
<line x1="91.13" y1="599.37" x2="91.13" y2="596.37" stroke="#33209a" stroke-width="0.9" opacity="0.5"/>
<line x1="73.09" y1="587.8" x2="73.09" y2="584.8" stroke="#33209a" stroke-width="0.9" opacity="0.5"/>
<line x1="88.52" y1="573.22" x2="88.52" y2="570.22" stroke="#33209a" stroke-width="0.9" opacity="0.5"/>
<line x1="139.48" y1="577.6" x2="139.48" y2="574.6" stroke="#33209a" stroke-width="0.9" opacity="0.5"/>
<line x1="79.97" y1="596.93" x2="79.97" y2="593.93" stroke="#33209a" stroke-width="0.9" opacity="0.5"/>
<line x1="115.66" y1="615.57" x2="115.66" y2="612.57" stroke="#33209a" stroke-width="0.9" opacity="0.5"/>
<line x1="130.98" y1="561.89" x2="130.98" y2="558.89" stroke="#33209a" stroke-width="0.9" opacity="0.5"/>
<line x1="100.32" y1="592.77" x2="100.32" y2="589.77" stroke="#33209a" stroke-width="0.9" opacity="0.5"/>
<line x1="126.93" y1="618.94" x2="126.93" y2="615.94" stroke="#33209a" stroke-width="0.9" opacity="0.5"/>
<line x1="209.69" y1="589.79" x2="209.69" y2="586.79" stroke="#33209a" stroke-width="0.9" opacity="0.5"/>
<line x1="169.14" y1="600.86" x2="169.14" y2="597.86" stroke="#33209a" stroke-width="0.9" opacity="0.5"/>
<line x1="123.38" y1="590.68" x2="123.38" y2="587.68" stroke="#33209a" stroke-width="0.9" opacity="0.5"/>
<line x1="89.08" y1="575.95" x2="89.08" y2="572.95" stroke="#33209a" stroke-width="0.9" opacity="0.5"/>
<line x1="175.32" y1="567.27" x2="175.32" y2="564.27" stroke="#33209a" stroke-width="0.9" opacity="0.5"/>
<line x1="139.44" y1="594.65" x2="139.44" y2="591.65" stroke="#33209a" stroke-width="0.9" opacity="0.5"/>
<line x1="179.12" y1="604.28" x2="179.12" y2="601.28" stroke="#33209a" stroke-width="0.9" opacity="0.5"/>
<line x1="95.17" y1="599.71" x2="95.17" y2="596.71" stroke="#33209a" stroke-width="0.9" opacity="0.5"/>
<line x1="121.39" y1="567.86" x2="121.39" y2="564.86" stroke="#33209a" stroke-width="0.9" opacity="0.5"/>
<line x1="130.59" y1="589.18" x2="130.59" y2="586.18" stroke="#33209a" stroke-width="0.9" opacity="0.5"/>
<line x1="84.09" y1="601.15" x2="84.09" y2="598.15" stroke="#33209a" stroke-width="0.9" opacity="0.5"/>
<line x1="155.58" y1="596.75" x2="155.58" y2="593.75" stroke="#33209a" stroke-width="0.9" opacity="0.5"/>
<line x1="202.36" y1="587.16" x2="202.36" y2="584.16" stroke="#33209a" stroke-width="0.9" opacity="0.5"/>
<line x1="133.5" y1="577.01" x2="133.5" y2="574.01" stroke="#33209a" stroke-width="0.9" opacity="0.5"/>
<line x1="142.76" y1="581.62" x2="142.76" y2="578.62" stroke="#33209a" stroke-width="0.9" opacity="0.5"/>
<line x1="96.01" y1="607.85" x2="96.01" y2="604.85" stroke="#33209a" stroke-width="0.9" opacity="0.5"/>
<line x1="182.3" y1="574.91" x2="182.3" y2="571.91" stroke="#33209a" stroke-width="0.9" opacity="0.5"/>
<line x1="121.82" y1="582.71" x2="121.82" y2="579.71" stroke="#33209a" stroke-width="0.9" opacity="0.5"/>
<line x1="118.42" y1="568.92" x2="118.42" y2="565.92" stroke="#33209a" stroke-width="0.9" opacity="0.5"/>
<line x1="96.01" y1="604.01" x2="96.01" y2="601.01" stroke="#33209a" stroke-width="0.9" opacity="0.5"/>
<line x1="90.88" y1="587.79" x2="90.88" y2="584.79" stroke="#33209a" stroke-width="0.9" opacity="0.5"/>
<line x1="155.79" y1="602.25" x2="155.79" y2="599.25" stroke="#33209a" stroke-width="0.9" opacity="0.5"/>
<line x1="207.38" y1="593.01" x2="207.38" y2="590.01" stroke="#33209a" stroke-width="0.9" opacity="0.5"/>
<line x1="144.69" y1="595.22" x2="144.69" y2="592.22" stroke="#33209a" stroke-width="0.9" opacity="0.5"/>
<line x1="187.98" y1="597.59" x2="187.98" y2="594.59" stroke="#33209a" stroke-width="0.9" opacity="0.5"/>
<line x1="104.8" y1="600.46" x2="104.8" y2="597.46" stroke="#33209a" stroke-width="0.9" opacity="0.5"/>
<line x1="136.59" y1="601.59" x2="136.59" y2="598.59" stroke="#33209a" stroke-width="0.9" opacity="0.5"/>
<line x1="121.6" y1="615.29" x2="121.6" y2="612.29" stroke="#33209a" stroke-width="0.9" opacity="0.5"/>
<line x1="139.21" y1="574.72" x2="139.21" y2="571.72" stroke="#33209a" stroke-width="0.9" opacity="0.5"/>
<line x1="131.71" y1="568.23" x2="131.71" y2="565.23" stroke="#33209a" stroke-width="0.9" opacity="0.5"/>
<line x1="187.04" y1="587.11" x2="187.04" y2="584.11" stroke="#33209a" stroke-width="0.9" opacity="0.5"/>
<line x1="163.44" y1="566.02" x2="163.44" y2="563.02" stroke="#33209a" stroke-width="0.9" opacity="0.5"/>
<line x1="81.51" y1="581.73" x2="81.51" y2="578.73" stroke="#33209a" stroke-width="0.9" opacity="0.5"/>
<line x1="198.16" y1="586.2" x2="198.16" y2="583.2" stroke="#33209a" stroke-width="0.9" opacity="0.5"/>
<line x1="185.51" y1="590.11" x2="185.51" y2="587.11" stroke="#33209a" stroke-width="0.9" opacity="0.5"/>
<line x1="212.16" y1="597.27" x2="212.16" y2="594.27" stroke="#33209a" stroke-width="0.9" opacity="0.5"/>
<line x1="107.32" y1="601.85" x2="107.32" y2="598.85" stroke="#33209a" stroke-width="0.9" opacity="0.5"/>
<line x1="202.51" y1="589.4" x2="202.51" y2="586.4" stroke="#33209a" stroke-width="0.9" opacity="0.5"/>
<line x1="96.32" y1="574.28" x2="96.32" y2="571.28" stroke="#33209a" stroke-width="0.9" opacity="0.5"/>
<line x1="224.97" y1="588.58" x2="224.97" y2="585.58" stroke="#33209a" stroke-width="0.9" opacity="0.5"/>
<line x1="102" y1="575.97" x2="102" y2="572.97" stroke="#33209a" stroke-width="0.9" opacity="0.5"/>
<line x1="222.44" y1="586.73" x2="222.44" y2="583.73" stroke="#33209a" stroke-width="0.9" opacity="0.5"/>
<line x1="104.99" y1="583.21" x2="104.99" y2="580.21" stroke="#33209a" stroke-width="0.9" opacity="0.5"/>
<line x1="175.29" y1="579.8" x2="175.29" y2="576.8" stroke="#33209a" stroke-width="0.9" opacity="0.5"/>
<line x1="55.36" y1="581.62" x2="55.36" y2="578.62" stroke="#33209a" stroke-width="0.9" opacity="0.5"/>
<line x1="110.82" y1="614.19" x2="110.82" y2="611.19" stroke="#33209a" stroke-width="0.9" opacity="0.5"/>
<line x1="189.24" y1="594.48" x2="189.24" y2="591.48" stroke="#33209a" stroke-width="0.9" opacity="0.5"/>
<line x1="140.37" y1="601.44" x2="140.37" y2="598.44" stroke="#33209a" stroke-width="0.9" opacity="0.5"/>
<line x1="86.78" y1="574.89" x2="86.78" y2="571.89" stroke="#33209a" stroke-width="0.9" opacity="0.5"/>
<line x1="181.5" y1="602.03" x2="181.5" y2="599.03" stroke="#33209a" stroke-width="0.9" opacity="0.5"/>
<line x1="141.69" y1="559.4" x2="141.69" y2="556.4" stroke="#33209a" stroke-width="0.9" opacity="0.5"/>
<line x1="165.15" y1="601.53" x2="165.15" y2="598.53" stroke="#33209a" stroke-width="0.9" opacity="0.5"/>
<line x1="159.3" y1="596.95" x2="159.3" y2="593.95" stroke="#33209a" stroke-width="0.9" opacity="0.5"/>
<line x1="124.56" y1="610.69" x2="124.56" y2="607.69" stroke="#33209a" stroke-width="0.9" opacity="0.5"/>
<line x1="132.82" y1="611.6" x2="132.82" y2="608.6" stroke="#33209a" stroke-width="0.9" opacity="0.5"/>
<line x1="168.07" y1="568.58" x2="168.07" y2="565.58" stroke="#33209a" stroke-width="0.9" opacity="0.5"/>
<line x1="146.9" y1="558.92" x2="146.9" y2="555.92" stroke="#33209a" stroke-width="0.9" opacity="0.5"/>
<line x1="163.28" y1="566.88" x2="163.28" y2="563.88" stroke="#33209a" stroke-width="0.9" opacity="0.5"/>
<line x1="103.32" y1="577.32" x2="103.32" y2="574.32" stroke="#33209a" stroke-width="0.9" opacity="0.5"/>
<line x1="176.01" y1="579.26" x2="176.01" y2="576.26" stroke="#33209a" stroke-width="0.9" opacity="0.5"/>
<line x1="236.22" y1="591.28" x2="236.22" y2="588.28" stroke="#33209a" stroke-width="0.9" opacity="0.5"/>
<line x1="69.44" y1="582.66" x2="69.44" y2="579.66" stroke="#33209a" stroke-width="0.9" opacity="0.5"/>
<line x1="144.41" y1="598.02" x2="144.41" y2="595.02" stroke="#33209a" stroke-width="0.9" opacity="0.5"/>
<line x1="127.64" y1="569.09" x2="127.64" y2="566.09" stroke="#33209a" stroke-width="0.9" opacity="0.5"/>
<line x1="169.36" y1="576.57" x2="169.36" y2="573.57" stroke="#33209a" stroke-width="0.9" opacity="0.5"/>
<line x1="111.28" y1="600.3" x2="111.28" y2="597.3" stroke="#33209a" stroke-width="0.9" opacity="0.5"/>
<line x1="133.94" y1="595.23" x2="133.94" y2="592.23" stroke="#33209a" stroke-width="0.9" opacity="0.5"/>
<line x1="130.34" y1="568.82" x2="130.34" y2="565.82" stroke="#33209a" stroke-width="0.9" opacity="0.5"/>
<line x1="139.33" y1="558.81" x2="139.33" y2="555.81" stroke="#33209a" stroke-width="0.9" opacity="0.5"/>
<line x1="89.83" y1="581.84" x2="89.83" y2="578.84" stroke="#33209a" stroke-width="0.9" opacity="0.5"/>
<line x1="74.5" y1="574.13" x2="74.5" y2="571.13" stroke="#33209a" stroke-width="0.9" opacity="0.5"/>
<line x1="208.44" y1="584.11" x2="208.44" y2="581.11" stroke="#33209a" stroke-width="0.9" opacity="0.5"/>
<line x1="189.78" y1="585.08" x2="189.78" y2="582.08" stroke="#33209a" stroke-width="0.9" opacity="0.5"/>
<line x1="135.55" y1="590.44" x2="135.55" y2="587.44" stroke="#33209a" stroke-width="0.9" opacity="0.5"/>
<line x1="91.28" y1="575.06" x2="91.28" y2="572.06" stroke="#33209a" stroke-width="0.9" opacity="0.5"/>
<line x1="76.47" y1="583.88" x2="76.47" y2="580.88" stroke="#33209a" stroke-width="0.9" opacity="0.5"/>
<line x1="119.83" y1="617.52" x2="119.83" y2="614.52" stroke="#33209a" stroke-width="0.9" opacity="0.5"/>
<line x1="163.33" y1="605.27" x2="163.33" y2="602.27" stroke="#33209a" stroke-width="0.9" opacity="0.5"/>
<line x1="100.16" y1="574.78" x2="100.16" y2="571.78" stroke="#33209a" stroke-width="0.9" opacity="0.5"/>
<line x1="150.32" y1="557.98" x2="150.32" y2="554.98" stroke="#33209a" stroke-width="0.9" opacity="0.5"/>
<line x1="105.42" y1="603" x2="105.42" y2="600" stroke="#33209a" stroke-width="0.9" opacity="0.5"/>
<line x1="94.93" y1="592.09" x2="94.93" y2="589.09" stroke="#33209a" stroke-width="0.9" opacity="0.5"/>
<line x1="138.91" y1="592.4" x2="138.91" y2="589.4" stroke="#33209a" stroke-width="0.9" opacity="0.5"/>
<line x1="119.72" y1="582.96" x2="119.72" y2="579.96" stroke="#33209a" stroke-width="0.9" opacity="0.5"/>
<line x1="166.94" y1="572.1" x2="166.94" y2="569.1" stroke="#33209a" stroke-width="0.9" opacity="0.5"/>
<line x1="121.84" y1="613.71" x2="121.84" y2="610.71" stroke="#33209a" stroke-width="0.9" opacity="0.5"/>
<line x1="107.36" y1="590.28" x2="107.36" y2="587.28" stroke="#33209a" stroke-width="0.9" opacity="0.5"/>
<line x1="97.45" y1="574.96" x2="97.45" y2="571.96" stroke="#33209a" stroke-width="0.9" opacity="0.5"/>
<line x1="97.57" y1="594.24" x2="97.57" y2="591.24" stroke="#33209a" stroke-width="0.9" opacity="0.5"/>
<line x1="205.95" y1="592.69" x2="205.95" y2="589.69" stroke="#33209a" stroke-width="0.9" opacity="0.5"/>
<line x1="135.41" y1="576.51" x2="135.41" y2="573.51" stroke="#33209a" stroke-width="0.9" opacity="0.5"/>
<line x1="58.24" y1="583.1" x2="58.24" y2="580.1" stroke="#33209a" stroke-width="0.9" opacity="0.5"/>
<line x1="93.47" y1="572.73" x2="93.47" y2="569.73" stroke="#33209a" stroke-width="0.9" opacity="0.5"/>
<line x1="223.6" y1="563" x2="223.6" y2="588" stroke="#4a63f0" stroke-width="1"/>
<line x1="46" y1="564" x2="46" y2="582" stroke="#6a6af0" stroke-width="1"/>
<line x1="47.5" y1="570" x2="47.5" y2="582" stroke="#5a5ae8" stroke-width="1"/>
<line x1="141.5" y1="543" x2="141.5" y2="558" stroke="#4a3fd0" stroke-width="1"/>
<line x1="143.8" y1="548" x2="143.8" y2="558" stroke="#4038c0" stroke-width="1"/>
<line x1="150.5" y1="545" x2="150.5" y2="558" stroke="#4a3fd0" stroke-width="1"/>
<line x1="153.6" y1="541" x2="153.6" y2="558" stroke="#4438c8" stroke-width="1"/>
<line x1="155.8" y1="544" x2="155.8" y2="558" stroke="#4a3fd0" stroke-width="1"/>
<line x1="158.5" y1="547" x2="158.5" y2="560" stroke="#4038c0" stroke-width="1"/>
<line x1="229" y1="583" x2="229" y2="590" stroke="#4a50e0" stroke-width="1"/>
<line x1="152.6" y1="562" x2="135" y2="613.2" stroke="#5a6af0" stroke-width="1.2" opacity="0.55"/>
<line x1="146.6" y1="513.6" x2="146.6" y2="548" stroke="#2bbfd0" stroke-width="1.3"/>
<line x1="146.6" y1="548" x2="146.6" y2="556" stroke="#3d78f0" stroke-width="1.3"/>
<g stroke="#333333" stroke-width="1" fill="none" stroke-linecap="square">
<polyline points="36.6,502.6 36.6,584.2"/>
<line x1="36.6" y1="584.2" x2="34" y2="584.2"/>
<line x1="36.6" y1="557" x2="34" y2="557"/>
<line x1="36.6" y1="529.8" x2="34" y2="529.8"/>
<line x1="36.6" y1="502.6" x2="34" y2="502.6"/>
<line x1="132" y1="619.46" x2="134.77" y2="620.61"/>
<line x1="157" y1="613.23" x2="159.77" y2="614.39"/>
<line x1="182.8" y1="606.8" x2="185.57" y2="607.96"/>
<line x1="208.4" y1="600.42" x2="211.17" y2="601.58"/>
<line x1="233.9" y1="594.07" x2="236.67" y2="595.23"/>
<line x1="41" y1="586.04" x2="38.09" y2="586.77"/>
<line x1="81" y1="602.78" x2="78.09" y2="603.51"/>
<line x1="121" y1="619.53" x2="118.09" y2="620.25"/>
</g>
<text x="30.4" y="586.2" font-family="'Liberation Serif','DejaVu Serif',serif" font-size="9.3" text-anchor="end" fill="#2b2b2b" font-weight="normal" >0</text>
<text x="30.4" y="559" font-family="'Liberation Serif','DejaVu Serif',serif" font-size="9.3" text-anchor="end" fill="#2b2b2b" font-weight="normal" >1</text>
<text x="30.4" y="531.8" font-family="'Liberation Serif','DejaVu Serif',serif" font-size="9.3" text-anchor="end" fill="#2b2b2b" font-weight="normal" >2</text>
<text x="30.4" y="504.6" font-family="'Liberation Serif','DejaVu Serif',serif" font-size="9.3" text-anchor="end" fill="#2b2b2b" font-weight="normal" >3</text>
<text x="11" y="493" font-family="'Liberation Serif','DejaVu Serif',serif" font-size="9.3" fill="#2b2b2b">×<tspan dx="1.2">10</tspan><tspan dy="-4.6" dx="0.3" font-size="7.6">31</tspan></text>
<text x="149.5" y="632.2" font-family="'Liberation Serif','DejaVu Serif',serif" font-size="9.3" text-anchor="middle" fill="#2b2b2b" font-weight="normal" >-2000</text>
<text x="174.7" y="625" font-family="'Liberation Serif','DejaVu Serif',serif" font-size="9.3" text-anchor="middle" fill="#2b2b2b" font-weight="normal" >-1000</text>
<text x="192.3" y="618.8" font-family="'Liberation Serif','DejaVu Serif',serif" font-size="9.3" text-anchor="middle" fill="#2b2b2b" font-weight="normal" >0</text>
<text x="224.3" y="613" font-family="'Liberation Serif','DejaVu Serif',serif" font-size="9.3" text-anchor="middle" fill="#2b2b2b" font-weight="normal" >1000</text>
<text x="249.6" y="606.6" font-family="'Liberation Serif','DejaVu Serif',serif" font-size="9.3" text-anchor="middle" fill="#2b2b2b" font-weight="normal" >2000</text>
<text x="26.5" y="597.6" font-family="'Liberation Serif','DejaVu Serif',serif" font-size="9.3" text-anchor="middle" fill="#2b2b2b" font-weight="normal" >1000</text>
<text x="72.5" y="613.6" font-family="'Liberation Serif','DejaVu Serif',serif" font-size="9.3" text-anchor="middle" fill="#2b2b2b" font-weight="normal" >0</text>
<text x="105" y="631" font-family="'Liberation Serif','DejaVu Serif',serif" font-size="9.3" text-anchor="middle" fill="#2b2b2b" font-weight="normal" >-1000</text>
<text x="191" y="641" font-family="'Liberation Serif','DejaVu Serif',serif" font-size="12.6" fill="#2b2b2b">F<tspan font-style="italic" font-size="13.2">τ</tspan><tspan dx="0.4">/Hz</tspan></text>
<text x="33" y="661" font-family="'Liberation Serif','DejaVu Serif',serif" font-size="12.6" fill="#2b2b2b">Acceleration/m·s<tspan dy="-5" font-size="9.5">-2</tspan></text>
<text x="131.6" y="690.3" font-family="'Liberation Serif','DejaVu Serif',serif" font-size="14.5" text-anchor="middle" fill="#111">(<tspan font-weight="bold">g</tspan>)</text>
<rect x="147" y="476" width="70.4" height="37" fill="#fdfdfd" stroke="#b9b9b9" stroke-width="1"/>
<text x="151" y="488.4" font-family="'Liberation Sans','DejaVu Sans',sans-serif" font-size="8.3" text-anchor="start" fill="#4d4d4d" font-weight="normal" >X</text>
<text x="161" y="488.4" font-family="'Liberation Sans','DejaVu Sans',sans-serif" font-size="8.3" font-weight="bold" fill="#1ea7ea">-5.03931</text>
<text x="151" y="498.4" font-family="'Liberation Sans','DejaVu Sans',sans-serif" font-size="8.3" text-anchor="start" fill="#4d4d4d" font-weight="normal" >Y</text>
<text x="161" y="498.4" font-family="'Liberation Sans','DejaVu Sans',sans-serif" font-size="8.3" font-weight="bold" fill="#1ea7ea">-200.3</text>
<text x="151" y="508.4" font-family="'Liberation Sans','DejaVu Sans',sans-serif" font-size="8.3" text-anchor="start" fill="#4d4d4d" font-weight="normal" >Z</text>
<text x="161" y="508.4" font-family="'Liberation Sans','DejaVu Sans',sans-serif" font-size="8.3" font-weight="bold" fill="#1ea7ea">2.90423×10<tspan dy="-2.4" font-size="5.6">31</tspan></text>
<circle cx="146.6" cy="513.6" r="1.3" fill="#111"/>
</g>
<g id="panel-h">
<g stroke="#d4d4d4" stroke-width="0.8" fill="none">
<polyline points="316.6,591.4 435,558.7 525,601.8"/>
<polyline points="316.6,567.9 435,535.2 525,578.3"/>
<polyline points="316.6,544.4 435,511.7 525,554.8"/>
<polyline points="316.6,520.9 435,488.2 525,531.3"/>
<polyline points="316.6,497.4 435,464.7 525,507.8"/>
<line x1="323" y1="589.63" x2="323" y2="495.63"/>
<line x1="323" y1="589.63" x2="413" y2="632.73"/>
<line x1="349.4" y1="582.34" x2="349.4" y2="488.34"/>
<line x1="349.4" y1="582.34" x2="439.4" y2="625.44"/>
<line x1="375.6" y1="575.11" x2="375.6" y2="481.11"/>
<line x1="375.6" y1="575.11" x2="465.6" y2="618.21"/>
<line x1="401.4" y1="567.98" x2="401.4" y2="473.98"/>
<line x1="401.4" y1="567.98" x2="491.4" y2="611.08"/>
<line x1="427.4" y1="560.8" x2="427.4" y2="466.8"/>
<line x1="427.4" y1="560.8" x2="517.4" y2="603.9"/>
<line x1="443.6" y1="562.82" x2="443.6" y2="468.82"/>
<line x1="443.6" y1="562.82" x2="325.2" y2="595.52"/>
<line x1="479" y1="579.77" x2="479" y2="485.77"/>
<line x1="479" y1="579.77" x2="360.6" y2="612.47"/>
<line x1="517" y1="597.97" x2="517" y2="503.97"/>
<line x1="517" y1="597.97" x2="398.6" y2="630.67"/>
</g>
<polyline points="316.6,591.4 406.6,634.5 525,601.8" stroke="#3a3a3a" stroke-width="0.8" fill="none"/>
<defs><linearGradient id="pk5" x1="0" y1="528.4" x2="0" y2="600" gradientUnits="userSpaceOnUse"><stop offset="0" stop-color="#f5e34a"/><stop offset="0.07" stop-color="#e4d855"/><stop offset="0.15" stop-color="#8fce62"/><stop offset="0.3" stop-color="#40bc8c"/><stop offset="0.5" stop-color="#2cb4a6"/><stop offset="0.66" stop-color="#22a4c8"/><stop offset="0.8" stop-color="#2b86e6"/><stop offset="0.92" stop-color="#3d5cf0"/><stop offset="1" stop-color="#4240dc"/></linearGradient><radialGradient id="rg5" cx="416" cy="600" r="16" gradientUnits="userSpaceOnUse" gradientTransform="translate(416,600) scale(1,0.75) translate(-416,-600)"><stop offset="0" stop-color="#4a4af0" stop-opacity="0.95"/><stop offset="0.35" stop-color="#4640dc" stop-opacity="0.6"/><stop offset="1" stop-color="#4123ae" stop-opacity="0"/></radialGradient><filter id="bl5" x="-20%" y="-20%" width="140%" height="140%"><feGaussianBlur stdDeviation="1.1"/></filter></defs>
<polygon points="316.6,591.4 317.97,591.59 319.17,590.69 320.55,590.88 321.75,589.98 323.12,590.17 324.32,589.27 325.7,589.46 326.9,588.56 328.27,588.75 329.47,587.85 330.84,588.03 332.04,587.13 333.42,587.32 334.62,586.42 335.99,586.61 337.19,585.71 338.57,585.9 339.77,585 341.14,585.19 342.34,584.29 343.71,584.48 344.91,583.58 346.29,583.77 347.49,582.87 348.86,583.06 350.06,582.16 351.43,582.35 352.63,581.45 354.01,581.64 355.21,580.74 356.58,580.93 357.78,580.03 359.16,580.22 360.36,579.32 361.73,579.5 362.93,578.6 364.3,578.79 365.5,577.89 366.88,578.08 368.08,577.18 369.45,577.37 370.65,576.47 372.03,576.66 373.23,575.76 374.6,575.95 375.8,575.05 377.17,575.24 378.37,574.34 379.75,574.53 380.95,573.63 382.32,573.82 383.52,572.92 384.9,573.11 386.1,572.21 387.47,572.4 388.67,571.5 390.04,571.68 391.24,570.78 392.62,570.97 393.82,570.07 395.19,570.26 396.39,569.36 397.77,569.55 398.97,568.65 400.34,568.84 401.54,567.94 402.91,568.13 404.11,567.23 405.49,567.42 406.69,566.52 408.06,566.71 409.26,565.81 410.63,566 411.83,565.1 413.21,565.29 414.41,564.39 415.78,564.58 416.98,563.68 418.36,563.87 419.56,562.97 420.93,563.15 422.13,562.25 423.5,562.44 424.7,561.54 426.08,561.73 427.28,560.83 428.65,561.02 429.85,560.12 431.23,560.31 432.43,559.41 433.8,559.6 435,558.7 435.46,558.44 436.96,559.64 437.41,559.37 438.91,560.57 439.37,560.31 440.87,561.51 441.33,561.25 442.83,562.45 443.28,562.18 444.78,563.38 445.24,563.12 446.74,564.32 447.2,564.06 448.7,565.26 449.15,565 450.65,566.2 451.11,565.93 452.61,567.13 453.07,566.87 454.57,568.07 455.02,567.81 456.52,569.01 456.98,568.74 458.48,569.94 458.93,569.68 460.43,570.88 460.89,570.62 462.39,571.82 462.85,571.55 464.35,572.75 464.8,572.49 466.3,573.69 466.76,573.43 468.26,574.63 468.72,574.37 470.22,575.57 470.67,575.3 472.17,576.5 472.63,576.24 474.13,577.44 474.59,577.18 476.09,578.38 476.54,578.11 478.04,579.31 478.5,579.05 480,580.25 480.46,579.99 481.96,581.19 482.41,580.92 483.91,582.12 484.37,581.86 485.87,583.06 486.33,582.8 487.83,584 488.28,583.73 489.78,584.93 490.24,584.67 491.74,585.87 492.2,585.61 493.7,586.81 494.15,586.55 495.65,587.75 496.11,587.48 497.61,588.68 498.07,588.42 499.57,589.62 500.02,589.36 501.52,590.56 501.98,590.29 503.48,591.49 503.93,591.23 505.43,592.43 505.89,592.17 507.39,593.37 507.85,593.1 509.35,594.3 509.8,594.04 511.3,595.24 511.76,594.98 513.26,596.18 513.72,595.92 515.22,597.12 515.67,596.85 517.17,598.05 517.63,597.79 519.13,598.99 519.59,598.73 521.09,599.93 521.54,599.66 523.04,600.86 523.5,600.6 525,601.8 525,601.8 406.6,634.5" fill="#4123ae"/>
<clipPath id="cl5"><polygon points="316.6,591.4 406.6,634.5 525,601.8 435,558.7"/></clipPath>
<g clip-path="url(#cl5)">
<g filter="url(#bl5)">
<polygon points="414.5,600 382.54,630.78 392.91,635.74 418,602" fill="#4c45dc" opacity="0.36"/>
<polygon points="415.5,600 386.15,632.5 390.2,634.45 417,601.5" fill="#5650e6" opacity="0.3"/>
</g>
<line x1="418" y1="597.4" x2="470" y2="573.06" stroke="#4c44da" stroke-width="3.4" opacity="0.3"/>
<line x1="418" y1="598.4" x2="470" y2="573.86" stroke="#5851e4" stroke-width="1.1" opacity="0.3"/>
<line x1="419" y1="600.4" x2="472" y2="575.06" stroke="#341d96" stroke-width="1.3" opacity="0.4"/>
</g>
<polygon points="506.5,593.44 507.1,591.04 524,599.9 525.8,601.4 525,602.3" fill="#4123ae"/>
<ellipse cx="416" cy="600" rx="16" ry="12" fill="url(#rg5)"/>
<path d="M415.4,528.4 L416.6,528.4 L416.8,570 Q417.2,592 420,601 L412,601 Q414.8,592 415.2,570 Z" fill="url(#pk5)"/>
<g stroke="#333333" stroke-width="1" fill="none" stroke-linecap="square">
<polyline points="316.6,497.4 316.6,591.4"/>
<line x1="316.6" y1="591.4" x2="314" y2="591.4"/>
<line x1="316.6" y1="567.9" x2="314" y2="567.9"/>
<line x1="316.6" y1="544.4" x2="314" y2="544.4"/>
<line x1="316.6" y1="520.9" x2="314" y2="520.9"/>
<line x1="316.6" y1="497.4" x2="314" y2="497.4"/>
<line x1="413" y1="632.73" x2="415.71" y2="634.03"/>
<line x1="439.4" y1="625.44" x2="442.11" y2="626.74"/>
<line x1="465.6" y1="618.21" x2="468.31" y2="619.5"/>
<line x1="491.4" y1="611.08" x2="494.11" y2="612.38"/>
<line x1="517.4" y1="603.9" x2="520.11" y2="605.19"/>
<line x1="325.2" y1="595.52" x2="322.31" y2="596.32"/>
<line x1="360.6" y1="612.47" x2="357.71" y2="613.27"/>
<line x1="398.6" y1="630.67" x2="395.71" y2="631.47"/>
</g>
<text x="310.4" y="593.4" font-family="'Liberation Serif','DejaVu Serif',serif" font-size="9.3" text-anchor="end" fill="#2b2b2b" font-weight="normal" >0</text>
<text x="310.4" y="569.9" font-family="'Liberation Serif','DejaVu Serif',serif" font-size="9.3" text-anchor="end" fill="#2b2b2b" font-weight="normal" >1</text>
<text x="310.4" y="546.4" font-family="'Liberation Serif','DejaVu Serif',serif" font-size="9.3" text-anchor="end" fill="#2b2b2b" font-weight="normal" >2</text>
<text x="310.4" y="522.9" font-family="'Liberation Serif','DejaVu Serif',serif" font-size="9.3" text-anchor="end" fill="#2b2b2b" font-weight="normal" >3</text>
<text x="310.4" y="499.4" font-family="'Liberation Serif','DejaVu Serif',serif" font-size="9.3" text-anchor="end" fill="#2b2b2b" font-weight="normal" >4</text>
<text x="291" y="487.4" font-family="'Liberation Serif','DejaVu Serif',serif" font-size="9.3" fill="#2b2b2b">×<tspan dx="1.2">10</tspan><tspan dy="-4.6" dx="0.3" font-size="7.6">15</tspan></text>
<text x="431" y="644.6" font-family="'Liberation Serif','DejaVu Serif',serif" font-size="9.3" text-anchor="middle" fill="#2b2b2b" font-weight="normal" >-2000</text>
<text x="456.7" y="638" font-family="'Liberation Serif','DejaVu Serif',serif" font-size="9.3" text-anchor="middle" fill="#2b2b2b" font-weight="normal" >-1000</text>
<text x="473.8" y="630.6" font-family="'Liberation Serif','DejaVu Serif',serif" font-size="9.3" text-anchor="middle" fill="#2b2b2b" font-weight="normal" >0</text>
<text x="507.6" y="623.6" font-family="'Liberation Serif','DejaVu Serif',serif" font-size="9.3" text-anchor="middle" fill="#2b2b2b" font-weight="normal" >1000</text>
<text x="533.5" y="616" font-family="'Liberation Serif','DejaVu Serif',serif" font-size="9.3" text-anchor="middle" fill="#2b2b2b" font-weight="normal" >2000</text>
<text x="316.6" y="607.6" font-family="'Liberation Serif','DejaVu Serif',serif" font-size="9.3" text-anchor="middle" fill="#2b2b2b" font-weight="normal" >2</text>
<text x="353.6" y="624.6" font-family="'Liberation Serif','DejaVu Serif',serif" font-size="9.3" text-anchor="middle" fill="#2b2b2b" font-weight="normal" >0</text>
<text x="387.5" y="641.6" font-family="'Liberation Serif','DejaVu Serif',serif" font-size="9.3" text-anchor="middle" fill="#2b2b2b" font-weight="normal" >-2</text>
<text x="296" y="629" font-family="'Liberation Serif','DejaVu Serif',serif" font-size="9.3" fill="#2b2b2b">×<tspan dx="1.2">10</tspan><tspan dy="-4.6" dx="0.3" font-size="7.6">4</tspan></text>
<text x="474" y="653.4" font-family="'Liberation Serif','DejaVu Serif',serif" font-size="12.6" fill="#2b2b2b">F<tspan font-style="italic" font-size="13.2">τ</tspan><tspan dx="0.4">/Hz</tspan></text>
<text x="298.4" y="651" font-family="'Liberation Serif','DejaVu Serif',serif" font-size="12.6" fill="#2b2b2b">velocity/m/s</text>
<text x="414.2" y="690.3" font-family="'Liberation Serif','DejaVu Serif',serif" font-size="14.5" text-anchor="middle" fill="#111">(<tspan font-weight="bold">h</tspan>)</text>
<rect x="416.4" y="489.4" width="71" height="38" fill="#fdfdfd" stroke="#b9b9b9" stroke-width="1"/>
<text x="420.4" y="501.8" font-family="'Liberation Sans','DejaVu Sans',sans-serif" font-size="8.3" text-anchor="start" fill="#4d4d4d" font-weight="normal" >X</text>
<text x="430.4" y="501.8" font-family="'Liberation Sans','DejaVu Sans',sans-serif" font-size="8.3" font-weight="bold" fill="#1ea7ea">-648.082</text>
<text x="420.4" y="511.8" font-family="'Liberation Sans','DejaVu Sans',sans-serif" font-size="8.3" text-anchor="start" fill="#4d4d4d" font-weight="normal" >Y</text>
<text x="430.4" y="511.8" font-family="'Liberation Sans','DejaVu Sans',sans-serif" font-size="8.3" font-weight="bold" fill="#1ea7ea">-6796</text>
<text x="420.4" y="521.8" font-family="'Liberation Sans','DejaVu Sans',sans-serif" font-size="8.3" text-anchor="start" fill="#4d4d4d" font-weight="normal" >Z</text>
<text x="430.4" y="521.8" font-family="'Liberation Sans','DejaVu Sans',sans-serif" font-size="8.3" font-weight="bold" fill="#1ea7ea">3.37443×10<tspan dy="-2.4" font-size="5.6">15</tspan></text>
<circle cx="416" cy="528.4" r="1.3" fill="#111"/>
</g>
</svg></body></html>
